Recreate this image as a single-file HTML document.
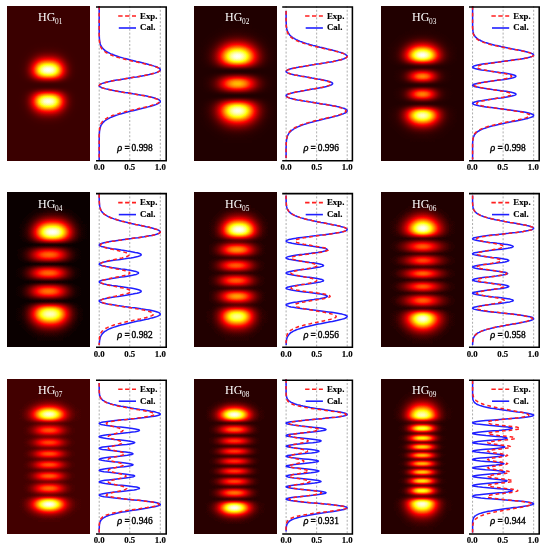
<!DOCTYPE html><html><head><meta charset="utf-8"><style>html,body{margin:0;padding:0;background:#fff}svg{display:block}</style></head><body><svg width="548" height="550" viewBox="0 0 548 550"><defs><linearGradient id="gy1" gradientUnits="userSpaceOnUse" x1="0" y1="6" x2="0" y2="160.4"><stop offset="0" stop-color="#000000"/><stop offset=".006" stop-color="#000000"/><stop offset=".013" stop-color="#000000"/><stop offset=".019" stop-color="#000000"/><stop offset=".026" stop-color="#000000"/><stop offset=".032" stop-color="#000000"/><stop offset=".039" stop-color="#000000"/><stop offset=".045" stop-color="#000000"/><stop offset=".052" stop-color="#000000"/><stop offset=".058" stop-color="#000000"/><stop offset=".065" stop-color="#000000"/><stop offset=".071" stop-color="#000000"/><stop offset=".077" stop-color="#000000"/><stop offset=".084" stop-color="#000000"/><stop offset=".09" stop-color="#000000"/><stop offset=".097" stop-color="#000000"/><stop offset=".103" stop-color="#000000"/><stop offset=".11" stop-color="#000000"/><stop offset=".116" stop-color="#000000"/><stop offset=".123" stop-color="#000000"/><stop offset=".129" stop-color="#000000"/><stop offset=".135" stop-color="#000000"/><stop offset=".142" stop-color="#000000"/><stop offset=".148" stop-color="#000000"/><stop offset=".155" stop-color="#000000"/><stop offset=".161" stop-color="#000000"/><stop offset=".168" stop-color="#000000"/><stop offset=".174" stop-color="#000000"/><stop offset=".181" stop-color="#000000"/><stop offset=".187" stop-color="#000000"/><stop offset=".194" stop-color="#000000"/><stop offset=".2" stop-color="#000000"/><stop offset=".206" stop-color="#000000"/><stop offset=".213" stop-color="#000000"/><stop offset=".219" stop-color="#010000"/><stop offset=".226" stop-color="#010000"/><stop offset=".232" stop-color="#010000"/><stop offset=".239" stop-color="#020000"/><stop offset=".245" stop-color="#030000"/><stop offset=".252" stop-color="#030000"/><stop offset=".258" stop-color="#050000"/><stop offset=".265" stop-color="#060000"/><stop offset=".271" stop-color="#090000"/><stop offset=".277" stop-color="#0b0000"/><stop offset=".284" stop-color="#0f0000"/><stop offset=".29" stop-color="#130000"/><stop offset=".297" stop-color="#180000"/><stop offset=".303" stop-color="#1f0000"/><stop offset=".31" stop-color="#270000"/><stop offset=".316" stop-color="#300000"/><stop offset=".323" stop-color="#3a0000"/><stop offset=".329" stop-color="#470000"/><stop offset=".335" stop-color="#540000"/><stop offset=".342" stop-color="#640000"/><stop offset=".348" stop-color="#740000"/><stop offset=".355" stop-color="#860000"/><stop offset=".361" stop-color="#980000"/><stop offset=".368" stop-color="#aa0000"/><stop offset=".374" stop-color="#bd0000"/><stop offset=".381" stop-color="#ce0000"/><stop offset=".387" stop-color="#de0000"/><stop offset=".394" stop-color="#eb0000"/><stop offset=".4" stop-color="#f60000"/><stop offset=".406" stop-color="#fc0000"/><stop offset=".413" stop-color="#ff0000"/><stop offset=".419" stop-color="#fd0000"/><stop offset=".426" stop-color="#f70000"/><stop offset=".432" stop-color="#ed0000"/><stop offset=".439" stop-color="#de0000"/><stop offset=".445" stop-color="#cc0000"/><stop offset=".452" stop-color="#b70000"/><stop offset=".458" stop-color="#a00000"/><stop offset=".465" stop-color="#860000"/><stop offset=".471" stop-color="#6d0000"/><stop offset=".477" stop-color="#540000"/><stop offset=".484" stop-color="#3c0000"/><stop offset=".49" stop-color="#280000"/><stop offset=".497" stop-color="#170000"/><stop offset=".503" stop-color="#0a0000"/><stop offset=".51" stop-color="#020000"/><stop offset=".516" stop-color="#000000"/><stop offset=".523" stop-color="#030000"/><stop offset=".529" stop-color="#0c0000"/><stop offset=".535" stop-color="#190000"/><stop offset=".542" stop-color="#2a0000"/><stop offset=".548" stop-color="#3f0000"/><stop offset=".555" stop-color="#570000"/><stop offset=".561" stop-color="#700000"/><stop offset=".568" stop-color="#890000"/><stop offset=".574" stop-color="#a10000"/><stop offset=".581" stop-color="#b80000"/><stop offset=".587" stop-color="#cd0000"/><stop offset=".594" stop-color="#de0000"/><stop offset=".6" stop-color="#eb0000"/><stop offset=".606" stop-color="#f50000"/><stop offset=".613" stop-color="#fa0000"/><stop offset=".619" stop-color="#fb0000"/><stop offset=".626" stop-color="#f80000"/><stop offset=".632" stop-color="#f00000"/><stop offset=".639" stop-color="#e60000"/><stop offset=".645" stop-color="#d80000"/><stop offset=".652" stop-color="#c80000"/><stop offset=".658" stop-color="#b70000"/><stop offset=".665" stop-color="#a50000"/><stop offset=".671" stop-color="#920000"/><stop offset=".677" stop-color="#800000"/><stop offset=".684" stop-color="#6f0000"/><stop offset=".69" stop-color="#5f0000"/><stop offset=".697" stop-color="#510000"/><stop offset=".703" stop-color="#430000"/><stop offset=".71" stop-color="#380000"/><stop offset=".716" stop-color="#2d0000"/><stop offset=".723" stop-color="#250000"/><stop offset=".729" stop-color="#1d0000"/><stop offset=".735" stop-color="#170000"/><stop offset=".742" stop-color="#120000"/><stop offset=".748" stop-color="#0e0000"/><stop offset=".755" stop-color="#0b0000"/><stop offset=".761" stop-color="#080000"/><stop offset=".768" stop-color="#060000"/><stop offset=".774" stop-color="#040000"/><stop offset=".781" stop-color="#030000"/><stop offset=".787" stop-color="#020000"/><stop offset=".794" stop-color="#020000"/><stop offset=".8" stop-color="#010000"/><stop offset=".806" stop-color="#010000"/><stop offset=".813" stop-color="#010000"/><stop offset=".819" stop-color="#000000"/><stop offset=".826" stop-color="#000000"/><stop offset=".832" stop-color="#000000"/><stop offset=".839" stop-color="#000000"/><stop offset=".845" stop-color="#000000"/><stop offset=".852" stop-color="#000000"/><stop offset=".858" stop-color="#000000"/><stop offset=".865" stop-color="#000000"/><stop offset=".871" stop-color="#000000"/><stop offset=".877" stop-color="#000000"/><stop offset=".884" stop-color="#000000"/><stop offset=".89" stop-color="#000000"/><stop offset=".897" stop-color="#000000"/><stop offset=".903" stop-color="#000000"/><stop offset=".91" stop-color="#000000"/><stop offset=".916" stop-color="#000000"/><stop offset=".923" stop-color="#000000"/><stop offset=".929" stop-color="#000000"/><stop offset=".935" stop-color="#000000"/><stop offset=".942" stop-color="#000000"/><stop offset=".948" stop-color="#000000"/><stop offset=".955" stop-color="#000000"/><stop offset=".961" stop-color="#000000"/><stop offset=".968" stop-color="#000000"/><stop offset=".974" stop-color="#000000"/><stop offset=".981" stop-color="#000000"/><stop offset=".987" stop-color="#000000"/><stop offset=".994" stop-color="#000000"/><stop offset="1" stop-color="#000000"/></linearGradient><linearGradient id="gx1_0"><stop offset="0" stop-color="#000000"/><stop offset=".034" stop-color="#000000"/><stop offset=".069" stop-color="#000000"/><stop offset=".103" stop-color="#000100"/><stop offset=".138" stop-color="#000200"/><stop offset=".172" stop-color="#000700"/><stop offset=".207" stop-color="#001000"/><stop offset=".241" stop-color="#002200"/><stop offset=".276" stop-color="#003f00"/><stop offset=".31" stop-color="#006600"/><stop offset=".345" stop-color="#009300"/><stop offset=".379" stop-color="#00bf00"/><stop offset=".414" stop-color="#00e200"/><stop offset=".448" stop-color="#00f700"/><stop offset=".483" stop-color="#00ff00"/><stop offset=".517" stop-color="#00fe00"/><stop offset=".552" stop-color="#00f400"/><stop offset=".586" stop-color="#00dc00"/><stop offset=".621" stop-color="#00b700"/><stop offset=".655" stop-color="#008a00"/><stop offset=".69" stop-color="#005d00"/><stop offset=".724" stop-color="#003800"/><stop offset=".759" stop-color="#001d00"/><stop offset=".793" stop-color="#000d00"/><stop offset=".828" stop-color="#000500"/><stop offset=".862" stop-color="#000200"/><stop offset=".897" stop-color="#000100"/><stop offset=".931" stop-color="#000000"/><stop offset=".966" stop-color="#000000"/><stop offset="1" stop-color="#000000"/></linearGradient><filter id="h1" x="0" y="0" width="1" height="1" color-interpolation-filters="sRGB"><feColorMatrix in="SourceGraphic" type="matrix" values="1 0 0 0 0 1 0 0 0 0 1 0 0 0 0 0 0 0 0 1" result="a"/><feColorMatrix in="SourceGraphic" type="matrix" values="0 1 0 0 0 0 1 0 0 0 0 1 0 0 0 0 0 0 0 1" result="b"/><feComposite in="a" in2="b" operator="arithmetic" k1="1" k2="0" k3="0" k4="0"/><feComponentTransfer><feFuncR type="table" tableValues="0.228 0.239 0.255 0.274 0.294 0.317 0.34 0.365 0.391 0.418 0.446 0.475 0.505 0.535 0.566 0.598 0.63 0.663 0.697 0.731 0.766 0.801 0.837 0.873 0.909 0.947 0.984 1 1 1 1 1 1 1 1 1 1 1 1 1 1 1 1 1 1 1 1 1 1 1 1 1 1 1 1 1 1 1 1 1 1 1 1 1 1"/><feFuncG type="table" tableValues="0 0 0 0 0 0 0 0 0 0 0 0 0 0 0 0 0 0 0 0 0 0 0 0 0 0 0 0.022 0.061 0.099 0.139 0.178 0.218 0.259 0.3 0.341 0.382 0.424 0.466 0.509 0.552 0.595 0.638 0.682 0.726 0.771 0.815 0.86 0.906 0.951 0.997 1 1 1 1 1 1 1 1 1 1 1 1 1 1"/><feFuncB type="table" tableValues="0 0 0 0 0 0 0 0 0 0 0 0 0 0 0 0 0 0 0 0 0 0 0 0 0 0 0 0 0 0 0 0 0 0 0 0 0 0 0 0 0 0 0 0 0 0 0 0 0 0 0 0.065 0.135 0.205 0.275 0.346 0.417 0.489 0.561 0.633 0.706 0.779 0.852 0.926 1"/></feComponentTransfer></filter><linearGradient id="gy2" gradientUnits="userSpaceOnUse" x1="0" y1="6" x2="0" y2="160.4"><stop offset="0" stop-color="#000000"/><stop offset=".006" stop-color="#000000"/><stop offset=".013" stop-color="#000000"/><stop offset=".019" stop-color="#000000"/><stop offset=".026" stop-color="#000000"/><stop offset=".032" stop-color="#000000"/><stop offset=".039" stop-color="#000000"/><stop offset=".045" stop-color="#000000"/><stop offset=".052" stop-color="#000000"/><stop offset=".058" stop-color="#000000"/><stop offset=".065" stop-color="#000000"/><stop offset=".071" stop-color="#000000"/><stop offset=".077" stop-color="#000000"/><stop offset=".084" stop-color="#000000"/><stop offset=".09" stop-color="#000000"/><stop offset=".097" stop-color="#000000"/><stop offset=".103" stop-color="#000000"/><stop offset=".11" stop-color="#000000"/><stop offset=".116" stop-color="#000000"/><stop offset=".123" stop-color="#010000"/><stop offset=".129" stop-color="#010000"/><stop offset=".135" stop-color="#010000"/><stop offset=".142" stop-color="#010000"/><stop offset=".148" stop-color="#020000"/><stop offset=".155" stop-color="#030000"/><stop offset=".161" stop-color="#040000"/><stop offset=".168" stop-color="#050000"/><stop offset=".174" stop-color="#070000"/><stop offset=".181" stop-color="#090000"/><stop offset=".187" stop-color="#0b0000"/><stop offset=".194" stop-color="#0f0000"/><stop offset=".2" stop-color="#130000"/><stop offset=".206" stop-color="#180000"/><stop offset=".213" stop-color="#1e0000"/><stop offset=".219" stop-color="#260000"/><stop offset=".226" stop-color="#2e0000"/><stop offset=".232" stop-color="#380000"/><stop offset=".239" stop-color="#440000"/><stop offset=".245" stop-color="#510000"/><stop offset=".252" stop-color="#5f0000"/><stop offset=".258" stop-color="#6f0000"/><stop offset=".265" stop-color="#800000"/><stop offset=".271" stop-color="#910000"/><stop offset=".277" stop-color="#a40000"/><stop offset=".284" stop-color="#b60000"/><stop offset=".29" stop-color="#c70000"/><stop offset=".297" stop-color="#d80000"/><stop offset=".303" stop-color="#e60000"/><stop offset=".31" stop-color="#f20000"/><stop offset=".316" stop-color="#fa0000"/><stop offset=".323" stop-color="#fe0000"/><stop offset=".329" stop-color="#fe0000"/><stop offset=".335" stop-color="#fa0000"/><stop offset=".342" stop-color="#f10000"/><stop offset=".348" stop-color="#e40000"/><stop offset=".355" stop-color="#d20000"/><stop offset=".361" stop-color="#bd0000"/><stop offset=".368" stop-color="#a50000"/><stop offset=".374" stop-color="#8b0000"/><stop offset=".381" stop-color="#700000"/><stop offset=".387" stop-color="#560000"/><stop offset=".394" stop-color="#3d0000"/><stop offset=".4" stop-color="#270000"/><stop offset=".406" stop-color="#150000"/><stop offset=".413" stop-color="#080000"/><stop offset=".419" stop-color="#010000"/><stop offset=".426" stop-color="#000000"/><stop offset=".432" stop-color="#050000"/><stop offset=".439" stop-color="#0e0000"/><stop offset=".445" stop-color="#1c0000"/><stop offset=".452" stop-color="#2d0000"/><stop offset=".458" stop-color="#410000"/><stop offset=".465" stop-color="#560000"/><stop offset=".471" stop-color="#6a0000"/><stop offset=".477" stop-color="#7d0000"/><stop offset=".484" stop-color="#8d0000"/><stop offset=".49" stop-color="#9a0000"/><stop offset=".497" stop-color="#a10000"/><stop offset=".503" stop-color="#a30000"/><stop offset=".51" stop-color="#a00000"/><stop offset=".516" stop-color="#980000"/><stop offset=".523" stop-color="#8b0000"/><stop offset=".529" stop-color="#7a0000"/><stop offset=".535" stop-color="#660000"/><stop offset=".542" stop-color="#520000"/><stop offset=".548" stop-color="#3d0000"/><stop offset=".555" stop-color="#2a0000"/><stop offset=".561" stop-color="#190000"/><stop offset=".568" stop-color="#0c0000"/><stop offset=".574" stop-color="#040000"/><stop offset=".581" stop-color="#000000"/><stop offset=".587" stop-color="#020000"/><stop offset=".594" stop-color="#0a0000"/><stop offset=".6" stop-color="#180000"/><stop offset=".606" stop-color="#2a0000"/><stop offset=".613" stop-color="#400000"/><stop offset=".619" stop-color="#590000"/><stop offset=".626" stop-color="#730000"/><stop offset=".632" stop-color="#8d0000"/><stop offset=".639" stop-color="#a70000"/><stop offset=".645" stop-color="#be0000"/><stop offset=".652" stop-color="#d20000"/><stop offset=".658" stop-color="#e20000"/><stop offset=".665" stop-color="#ee0000"/><stop offset=".671" stop-color="#f60000"/><stop offset=".677" stop-color="#fa0000"/><stop offset=".684" stop-color="#f90000"/><stop offset=".69" stop-color="#f40000"/><stop offset=".697" stop-color="#eb0000"/><stop offset=".703" stop-color="#e00000"/><stop offset=".71" stop-color="#d20000"/><stop offset=".716" stop-color="#c20000"/><stop offset=".723" stop-color="#b10000"/><stop offset=".729" stop-color="#a00000"/><stop offset=".735" stop-color="#8e0000"/><stop offset=".742" stop-color="#7d0000"/><stop offset=".748" stop-color="#6d0000"/><stop offset=".755" stop-color="#5e0000"/><stop offset=".761" stop-color="#500000"/><stop offset=".768" stop-color="#430000"/><stop offset=".774" stop-color="#380000"/><stop offset=".781" stop-color="#2e0000"/><stop offset=".787" stop-color="#260000"/><stop offset=".794" stop-color="#1f0000"/><stop offset=".8" stop-color="#190000"/><stop offset=".806" stop-color="#140000"/><stop offset=".813" stop-color="#0f0000"/><stop offset=".819" stop-color="#0c0000"/><stop offset=".826" stop-color="#090000"/><stop offset=".832" stop-color="#070000"/><stop offset=".839" stop-color="#050000"/><stop offset=".845" stop-color="#040000"/><stop offset=".852" stop-color="#030000"/><stop offset=".858" stop-color="#020000"/><stop offset=".865" stop-color="#020000"/><stop offset=".871" stop-color="#010000"/><stop offset=".877" stop-color="#010000"/><stop offset=".884" stop-color="#010000"/><stop offset=".89" stop-color="#000000"/><stop offset=".897" stop-color="#000000"/><stop offset=".903" stop-color="#000000"/><stop offset=".91" stop-color="#000000"/><stop offset=".916" stop-color="#000000"/><stop offset=".923" stop-color="#000000"/><stop offset=".929" stop-color="#000000"/><stop offset=".935" stop-color="#000000"/><stop offset=".942" stop-color="#000000"/><stop offset=".948" stop-color="#000000"/><stop offset=".955" stop-color="#000000"/><stop offset=".961" stop-color="#000000"/><stop offset=".968" stop-color="#000000"/><stop offset=".974" stop-color="#000000"/><stop offset=".981" stop-color="#000000"/><stop offset=".987" stop-color="#000000"/><stop offset=".994" stop-color="#000000"/><stop offset="1" stop-color="#000000"/></linearGradient><linearGradient id="gx2_0"><stop offset="0" stop-color="#000000"/><stop offset=".034" stop-color="#000000"/><stop offset=".069" stop-color="#000100"/><stop offset=".103" stop-color="#000200"/><stop offset=".138" stop-color="#000500"/><stop offset=".172" stop-color="#000a00"/><stop offset=".207" stop-color="#001300"/><stop offset=".241" stop-color="#002100"/><stop offset=".276" stop-color="#003700"/><stop offset=".31" stop-color="#005500"/><stop offset=".345" stop-color="#007900"/><stop offset=".379" stop-color="#00a000"/><stop offset=".414" stop-color="#00c500"/><stop offset=".448" stop-color="#00e400"/><stop offset=".483" stop-color="#00f800"/><stop offset=".517" stop-color="#00ff00"/><stop offset=".552" stop-color="#00fc00"/><stop offset=".586" stop-color="#00ed00"/><stop offset=".621" stop-color="#00d300"/><stop offset=".655" stop-color="#00af00"/><stop offset=".69" stop-color="#008800"/><stop offset=".724" stop-color="#006300"/><stop offset=".759" stop-color="#004200"/><stop offset=".793" stop-color="#002900"/><stop offset=".828" stop-color="#001800"/><stop offset=".862" stop-color="#000d00"/><stop offset=".897" stop-color="#000600"/><stop offset=".931" stop-color="#000300"/><stop offset=".966" stop-color="#000100"/><stop offset="1" stop-color="#000000"/></linearGradient><filter id="h2" x="0" y="0" width="1" height="1" color-interpolation-filters="sRGB"><feColorMatrix in="SourceGraphic" type="matrix" values="1 0 0 0 0 1 0 0 0 0 1 0 0 0 0 0 0 0 0 1" result="a"/><feColorMatrix in="SourceGraphic" type="matrix" values="0 1 0 0 0 0 1 0 0 0 0 1 0 0 0 0 0 0 0 1" result="b"/><feComposite in="a" in2="b" operator="arithmetic" k1="1" k2="0" k3="0" k4="0"/><feComponentTransfer><feFuncR type="table" tableValues="0.126 0.165 0.205 0.245 0.284 0.324 0.364 0.404 0.443 0.483 0.523 0.562 0.602 0.642 0.681 0.721 0.761 0.801 0.84 0.88 0.92 0.959 0.999 1 1 1 1 1 1 1 1 1 1 1 1 1 1 1 1 1 1 1 1 1 1 1 1 1 1 1 1 1 1 1 1 1 1 1 1 1 1 1 1 1 1"/><feFuncG type="table" tableValues="0 0 0 0 0 0 0 0 0 0 0 0 0 0 0 0 0 0 0 0 0 0 0 0.039 0.079 0.118 0.158 0.198 0.237 0.277 0.317 0.356 0.396 0.436 0.476 0.515 0.555 0.595 0.634 0.674 0.714 0.753 0.793 0.833 0.873 0.912 0.952 0.992 1 1 1 1 1 1 1 1 1 1 1 1 1 1 1 1 1"/><feFuncB type="table" tableValues="0 0 0 0 0 0 0 0 0 0 0 0 0 0 0 0 0 0 0 0 0 0 0 0 0 0 0 0 0 0 0 0 0 0 0 0 0 0 0 0 0 0 0 0 0 0 0 0 0.047 0.107 0.166 0.226 0.285 0.345 0.404 0.464 0.524 0.583 0.643 0.702 0.762 0.821 0.881 0.94 1"/></feComponentTransfer></filter><linearGradient id="gy3" gradientUnits="userSpaceOnUse" x1="0" y1="6" x2="0" y2="160.4"><stop offset="0" stop-color="#000000"/><stop offset=".006" stop-color="#000000"/><stop offset=".013" stop-color="#000000"/><stop offset=".019" stop-color="#000000"/><stop offset=".026" stop-color="#000000"/><stop offset=".032" stop-color="#000000"/><stop offset=".039" stop-color="#000000"/><stop offset=".045" stop-color="#000000"/><stop offset=".052" stop-color="#000000"/><stop offset=".058" stop-color="#000000"/><stop offset=".065" stop-color="#000000"/><stop offset=".071" stop-color="#000000"/><stop offset=".077" stop-color="#000000"/><stop offset=".084" stop-color="#000000"/><stop offset=".09" stop-color="#000000"/><stop offset=".097" stop-color="#000000"/><stop offset=".103" stop-color="#000000"/><stop offset=".11" stop-color="#000000"/><stop offset=".116" stop-color="#000000"/><stop offset=".123" stop-color="#000000"/><stop offset=".129" stop-color="#000000"/><stop offset=".135" stop-color="#000000"/><stop offset=".142" stop-color="#000000"/><stop offset=".148" stop-color="#000000"/><stop offset=".155" stop-color="#010000"/><stop offset=".161" stop-color="#010000"/><stop offset=".168" stop-color="#020000"/><stop offset=".174" stop-color="#020000"/><stop offset=".181" stop-color="#030000"/><stop offset=".187" stop-color="#050000"/><stop offset=".194" stop-color="#070000"/><stop offset=".2" stop-color="#0a0000"/><stop offset=".206" stop-color="#0d0000"/><stop offset=".213" stop-color="#120000"/><stop offset=".219" stop-color="#180000"/><stop offset=".226" stop-color="#1f0000"/><stop offset=".232" stop-color="#280000"/><stop offset=".239" stop-color="#340000"/><stop offset=".245" stop-color="#410000"/><stop offset=".252" stop-color="#500000"/><stop offset=".258" stop-color="#620000"/><stop offset=".265" stop-color="#760000"/><stop offset=".271" stop-color="#8b0000"/><stop offset=".277" stop-color="#a10000"/><stop offset=".284" stop-color="#b70000"/><stop offset=".29" stop-color="#cc0000"/><stop offset=".297" stop-color="#df0000"/><stop offset=".303" stop-color="#ef0000"/><stop offset=".31" stop-color="#fa0000"/><stop offset=".316" stop-color="#ff0000"/><stop offset=".323" stop-color="#fd0000"/><stop offset=".329" stop-color="#f40000"/><stop offset=".335" stop-color="#e50000"/><stop offset=".342" stop-color="#cf0000"/><stop offset=".348" stop-color="#b30000"/><stop offset=".355" stop-color="#940000"/><stop offset=".361" stop-color="#730000"/><stop offset=".368" stop-color="#530000"/><stop offset=".374" stop-color="#350000"/><stop offset=".381" stop-color="#1d0000"/><stop offset=".387" stop-color="#0d0000"/><stop offset=".394" stop-color="#060000"/><stop offset=".4" stop-color="#070000"/><stop offset=".406" stop-color="#100000"/><stop offset=".413" stop-color="#1f0000"/><stop offset=".419" stop-color="#320000"/><stop offset=".426" stop-color="#490000"/><stop offset=".432" stop-color="#5f0000"/><stop offset=".439" stop-color="#730000"/><stop offset=".445" stop-color="#820000"/><stop offset=".452" stop-color="#8b0000"/><stop offset=".458" stop-color="#8c0000"/><stop offset=".465" stop-color="#840000"/><stop offset=".471" stop-color="#760000"/><stop offset=".477" stop-color="#610000"/><stop offset=".484" stop-color="#4a0000"/><stop offset=".49" stop-color="#320000"/><stop offset=".497" stop-color="#1d0000"/><stop offset=".503" stop-color="#0d0000"/><stop offset=".51" stop-color="#040000"/><stop offset=".516" stop-color="#030000"/><stop offset=".523" stop-color="#0b0000"/><stop offset=".529" stop-color="#1b0000"/><stop offset=".535" stop-color="#2f0000"/><stop offset=".542" stop-color="#470000"/><stop offset=".548" stop-color="#5f0000"/><stop offset=".555" stop-color="#730000"/><stop offset=".561" stop-color="#830000"/><stop offset=".568" stop-color="#8b0000"/><stop offset=".574" stop-color="#8b0000"/><stop offset=".581" stop-color="#840000"/><stop offset=".587" stop-color="#750000"/><stop offset=".594" stop-color="#620000"/><stop offset=".6" stop-color="#4b0000"/><stop offset=".606" stop-color="#350000"/><stop offset=".613" stop-color="#210000"/><stop offset=".619" stop-color="#110000"/><stop offset=".626" stop-color="#080000"/><stop offset=".632" stop-color="#050000"/><stop offset=".639" stop-color="#0b0000"/><stop offset=".645" stop-color="#1a0000"/><stop offset=".652" stop-color="#2f0000"/><stop offset=".658" stop-color="#4a0000"/><stop offset=".665" stop-color="#690000"/><stop offset=".671" stop-color="#880000"/><stop offset=".677" stop-color="#a50000"/><stop offset=".684" stop-color="#c00000"/><stop offset=".69" stop-color="#d50000"/><stop offset=".697" stop-color="#e40000"/><stop offset=".703" stop-color="#ed0000"/><stop offset=".71" stop-color="#f00000"/><stop offset=".716" stop-color="#ec0000"/><stop offset=".723" stop-color="#e20000"/><stop offset=".729" stop-color="#d40000"/><stop offset=".735" stop-color="#c30000"/><stop offset=".742" stop-color="#af0000"/><stop offset=".748" stop-color="#9b0000"/><stop offset=".755" stop-color="#860000"/><stop offset=".761" stop-color="#720000"/><stop offset=".768" stop-color="#600000"/><stop offset=".774" stop-color="#4f0000"/><stop offset=".781" stop-color="#400000"/><stop offset=".787" stop-color="#330000"/><stop offset=".794" stop-color="#280000"/><stop offset=".8" stop-color="#1f0000"/><stop offset=".806" stop-color="#180000"/><stop offset=".813" stop-color="#120000"/><stop offset=".819" stop-color="#0d0000"/><stop offset=".826" stop-color="#0a0000"/><stop offset=".832" stop-color="#070000"/><stop offset=".839" stop-color="#050000"/><stop offset=".845" stop-color="#040000"/><stop offset=".852" stop-color="#030000"/><stop offset=".858" stop-color="#020000"/><stop offset=".865" stop-color="#010000"/><stop offset=".871" stop-color="#010000"/><stop offset=".877" stop-color="#010000"/><stop offset=".884" stop-color="#000000"/><stop offset=".89" stop-color="#000000"/><stop offset=".897" stop-color="#000000"/><stop offset=".903" stop-color="#000000"/><stop offset=".91" stop-color="#000000"/><stop offset=".916" stop-color="#000000"/><stop offset=".923" stop-color="#000000"/><stop offset=".929" stop-color="#000000"/><stop offset=".935" stop-color="#000000"/><stop offset=".942" stop-color="#000000"/><stop offset=".948" stop-color="#000000"/><stop offset=".955" stop-color="#000000"/><stop offset=".961" stop-color="#000000"/><stop offset=".968" stop-color="#000000"/><stop offset=".974" stop-color="#000000"/><stop offset=".981" stop-color="#000000"/><stop offset=".987" stop-color="#000000"/><stop offset=".994" stop-color="#000000"/><stop offset="1" stop-color="#000000"/></linearGradient><linearGradient id="gx3_0"><stop offset="0" stop-color="#000000"/><stop offset=".034" stop-color="#000000"/><stop offset=".069" stop-color="#000000"/><stop offset=".103" stop-color="#000100"/><stop offset=".138" stop-color="#000300"/><stop offset=".172" stop-color="#000600"/><stop offset=".207" stop-color="#000e00"/><stop offset=".241" stop-color="#001c00"/><stop offset=".276" stop-color="#003300"/><stop offset=".31" stop-color="#005400"/><stop offset=".345" stop-color="#007d00"/><stop offset=".379" stop-color="#00a900"/><stop offset=".414" stop-color="#00d200"/><stop offset=".448" stop-color="#00ef00"/><stop offset=".483" stop-color="#00fe00"/><stop offset=".517" stop-color="#00fe00"/><stop offset=".552" stop-color="#00ef00"/><stop offset=".586" stop-color="#00d200"/><stop offset=".621" stop-color="#00a900"/><stop offset=".655" stop-color="#007d00"/><stop offset=".69" stop-color="#005400"/><stop offset=".724" stop-color="#003300"/><stop offset=".759" stop-color="#001c00"/><stop offset=".793" stop-color="#000e00"/><stop offset=".828" stop-color="#000600"/><stop offset=".862" stop-color="#000300"/><stop offset=".897" stop-color="#000100"/><stop offset=".931" stop-color="#000000"/><stop offset=".966" stop-color="#000000"/><stop offset="1" stop-color="#000000"/></linearGradient><linearGradient id="gx3_1"><stop offset="0" stop-color="#000000"/><stop offset=".034" stop-color="#000000"/><stop offset=".069" stop-color="#000000"/><stop offset=".103" stop-color="#000000"/><stop offset=".138" stop-color="#000000"/><stop offset=".172" stop-color="#000200"/><stop offset=".207" stop-color="#000500"/><stop offset=".241" stop-color="#000d00"/><stop offset=".276" stop-color="#001c00"/><stop offset=".31" stop-color="#003800"/><stop offset=".345" stop-color="#006000"/><stop offset=".379" stop-color="#009100"/><stop offset=".414" stop-color="#00c300"/><stop offset=".448" stop-color="#00ea00"/><stop offset=".483" stop-color="#00fd00"/><stop offset=".517" stop-color="#00fd00"/><stop offset=".552" stop-color="#00ea00"/><stop offset=".586" stop-color="#00c300"/><stop offset=".621" stop-color="#009100"/><stop offset=".655" stop-color="#006000"/><stop offset=".69" stop-color="#003800"/><stop offset=".724" stop-color="#001c00"/><stop offset=".759" stop-color="#000d00"/><stop offset=".793" stop-color="#000500"/><stop offset=".828" stop-color="#000200"/><stop offset=".862" stop-color="#000000"/><stop offset=".897" stop-color="#000000"/><stop offset=".931" stop-color="#000000"/><stop offset=".966" stop-color="#000000"/><stop offset="1" stop-color="#000000"/></linearGradient><filter id="h3" x="0" y="0" width="1" height="1" color-interpolation-filters="sRGB"><feColorMatrix in="SourceGraphic" type="matrix" values="1 0 0 0 0 1 0 0 0 0 1 0 0 0 0 0 0 0 0 1" result="a"/><feColorMatrix in="SourceGraphic" type="matrix" values="0 1 0 0 0 0 1 0 0 0 0 1 0 0 0 0 0 0 0 1" result="b"/><feComposite in="a" in2="b" operator="arithmetic" k1="1" k2="0" k3="0" k4="0"/><feComponentTransfer><feFuncR type="table" tableValues="0.133 0.173 0.213 0.252 0.292 0.331 0.371 0.411 0.45 0.49 0.529 0.569 0.608 0.648 0.688 0.727 0.767 0.806 0.846 0.886 0.925 0.965 1 1 1 1 1 1 1 1 1 1 1 1 1 1 1 1 1 1 1 1 1 1 1 1 1 1 1 1 1 1 1 1 1 1 1 1 1 1 1 1 1 1 1"/><feFuncG type="table" tableValues="0 0 0 0 0 0 0 0 0 0 0 0 0 0 0 0 0 0 0 0 0 0 0.004 0.044 0.083 0.123 0.163 0.202 0.242 0.281 0.321 0.361 0.4 0.44 0.479 0.519 0.558 0.598 0.638 0.677 0.717 0.756 0.796 0.835 0.875 0.915 0.954 0.994 1 1 1 1 1 1 1 1 1 1 1 1 1 1 1 1 1"/><feFuncB type="table" tableValues="0 0 0 0 0 0 0 0 0 0 0 0 0 0 0 0 0 0 0 0 0 0 0 0 0 0 0 0 0 0 0 0 0 0 0 0 0 0 0 0 0 0 0 0 0 0 0 0 0.05 0.109 0.169 0.228 0.288 0.347 0.406 0.466 0.525 0.584 0.644 0.703 0.763 0.822 0.881 0.941 1"/></feComponentTransfer></filter><linearGradient id="gy4" gradientUnits="userSpaceOnUse" x1="0" y1="192.6" x2="0" y2="347"><stop offset="0" stop-color="#000000"/><stop offset=".006" stop-color="#000000"/><stop offset=".013" stop-color="#000000"/><stop offset=".019" stop-color="#000000"/><stop offset=".026" stop-color="#000000"/><stop offset=".032" stop-color="#000000"/><stop offset=".039" stop-color="#000000"/><stop offset=".045" stop-color="#000000"/><stop offset=".052" stop-color="#000000"/><stop offset=".058" stop-color="#000000"/><stop offset=".065" stop-color="#000000"/><stop offset=".071" stop-color="#000000"/><stop offset=".077" stop-color="#000000"/><stop offset=".084" stop-color="#000000"/><stop offset=".09" stop-color="#010000"/><stop offset=".097" stop-color="#010000"/><stop offset=".103" stop-color="#010000"/><stop offset=".11" stop-color="#020000"/><stop offset=".116" stop-color="#030000"/><stop offset=".123" stop-color="#040000"/><stop offset=".129" stop-color="#050000"/><stop offset=".135" stop-color="#080000"/><stop offset=".142" stop-color="#0a0000"/><stop offset=".148" stop-color="#0e0000"/><stop offset=".155" stop-color="#140000"/><stop offset=".161" stop-color="#1a0000"/><stop offset=".168" stop-color="#220000"/><stop offset=".174" stop-color="#2d0000"/><stop offset=".181" stop-color="#390000"/><stop offset=".187" stop-color="#480000"/><stop offset=".194" stop-color="#590000"/><stop offset=".2" stop-color="#6c0000"/><stop offset=".206" stop-color="#810000"/><stop offset=".213" stop-color="#970000"/><stop offset=".219" stop-color="#ae0000"/><stop offset=".226" stop-color="#c40000"/><stop offset=".232" stop-color="#d90000"/><stop offset=".239" stop-color="#eb0000"/><stop offset=".245" stop-color="#f70000"/><stop offset=".252" stop-color="#fe0000"/><stop offset=".258" stop-color="#fe0000"/><stop offset=".265" stop-color="#f80000"/><stop offset=".271" stop-color="#ec0000"/><stop offset=".277" stop-color="#db0000"/><stop offset=".284" stop-color="#c40000"/><stop offset=".29" stop-color="#a90000"/><stop offset=".297" stop-color="#8b0000"/><stop offset=".303" stop-color="#6c0000"/><stop offset=".31" stop-color="#4e0000"/><stop offset=".316" stop-color="#320000"/><stop offset=".323" stop-color="#1c0000"/><stop offset=".329" stop-color="#0b0000"/><stop offset=".335" stop-color="#030000"/><stop offset=".342" stop-color="#020000"/><stop offset=".348" stop-color="#070000"/><stop offset=".355" stop-color="#100000"/><stop offset=".361" stop-color="#1e0000"/><stop offset=".368" stop-color="#2e0000"/><stop offset=".374" stop-color="#3e0000"/><stop offset=".381" stop-color="#4e0000"/><stop offset=".387" stop-color="#5c0000"/><stop offset=".394" stop-color="#660000"/><stop offset=".4" stop-color="#6b0000"/><stop offset=".406" stop-color="#6a0000"/><stop offset=".413" stop-color="#640000"/><stop offset=".419" stop-color="#580000"/><stop offset=".426" stop-color="#490000"/><stop offset=".432" stop-color="#380000"/><stop offset=".439" stop-color="#270000"/><stop offset=".445" stop-color="#170000"/><stop offset=".452" stop-color="#0b0000"/><stop offset=".458" stop-color="#030000"/><stop offset=".465" stop-color="#020000"/><stop offset=".471" stop-color="#060000"/><stop offset=".477" stop-color="#110000"/><stop offset=".484" stop-color="#200000"/><stop offset=".49" stop-color="#320000"/><stop offset=".497" stop-color="#440000"/><stop offset=".503" stop-color="#550000"/><stop offset=".51" stop-color="#620000"/><stop offset=".516" stop-color="#690000"/><stop offset=".523" stop-color="#6b0000"/><stop offset=".529" stop-color="#660000"/><stop offset=".535" stop-color="#5b0000"/><stop offset=".542" stop-color="#4c0000"/><stop offset=".548" stop-color="#3a0000"/><stop offset=".555" stop-color="#270000"/><stop offset=".561" stop-color="#170000"/><stop offset=".568" stop-color="#0a0000"/><stop offset=".574" stop-color="#030000"/><stop offset=".581" stop-color="#020000"/><stop offset=".587" stop-color="#070000"/><stop offset=".594" stop-color="#120000"/><stop offset=".6" stop-color="#210000"/><stop offset=".606" stop-color="#330000"/><stop offset=".613" stop-color="#450000"/><stop offset=".619" stop-color="#560000"/><stop offset=".626" stop-color="#640000"/><stop offset=".632" stop-color="#6d0000"/><stop offset=".639" stop-color="#700000"/><stop offset=".645" stop-color="#6e0000"/><stop offset=".652" stop-color="#650000"/><stop offset=".658" stop-color="#590000"/><stop offset=".665" stop-color="#490000"/><stop offset=".671" stop-color="#370000"/><stop offset=".677" stop-color="#260000"/><stop offset=".684" stop-color="#170000"/><stop offset=".69" stop-color="#0b0000"/><stop offset=".697" stop-color="#040000"/><stop offset=".703" stop-color="#020000"/><stop offset=".71" stop-color="#060000"/><stop offset=".716" stop-color="#120000"/><stop offset=".723" stop-color="#250000"/><stop offset=".729" stop-color="#3c0000"/><stop offset=".735" stop-color="#570000"/><stop offset=".742" stop-color="#740000"/><stop offset=".748" stop-color="#900000"/><stop offset=".755" stop-color="#aa0000"/><stop offset=".761" stop-color="#c10000"/><stop offset=".768" stop-color="#d30000"/><stop offset=".774" stop-color="#e00000"/><stop offset=".781" stop-color="#e80000"/><stop offset=".787" stop-color="#eb0000"/><stop offset=".794" stop-color="#e70000"/><stop offset=".8" stop-color="#de0000"/><stop offset=".806" stop-color="#d10000"/><stop offset=".813" stop-color="#c00000"/><stop offset=".819" stop-color="#ad0000"/><stop offset=".826" stop-color="#980000"/><stop offset=".832" stop-color="#840000"/><stop offset=".839" stop-color="#710000"/><stop offset=".845" stop-color="#5e0000"/><stop offset=".852" stop-color="#4e0000"/><stop offset=".858" stop-color="#3f0000"/><stop offset=".865" stop-color="#320000"/><stop offset=".871" stop-color="#280000"/><stop offset=".877" stop-color="#1f0000"/><stop offset=".884" stop-color="#180000"/><stop offset=".89" stop-color="#120000"/><stop offset=".897" stop-color="#0d0000"/><stop offset=".903" stop-color="#0a0000"/><stop offset=".91" stop-color="#070000"/><stop offset=".916" stop-color="#050000"/><stop offset=".923" stop-color="#040000"/><stop offset=".929" stop-color="#030000"/><stop offset=".935" stop-color="#020000"/><stop offset=".942" stop-color="#010000"/><stop offset=".948" stop-color="#010000"/><stop offset=".955" stop-color="#010000"/><stop offset=".961" stop-color="#000000"/><stop offset=".968" stop-color="#000000"/><stop offset=".974" stop-color="#000000"/><stop offset=".981" stop-color="#000000"/><stop offset=".987" stop-color="#000000"/><stop offset=".994" stop-color="#000000"/><stop offset="1" stop-color="#000000"/></linearGradient><linearGradient id="gx4_0"><stop offset="0" stop-color="#000000"/><stop offset=".034" stop-color="#000000"/><stop offset=".069" stop-color="#000000"/><stop offset=".103" stop-color="#000000"/><stop offset=".138" stop-color="#000000"/><stop offset=".172" stop-color="#000100"/><stop offset=".207" stop-color="#000300"/><stop offset=".241" stop-color="#000700"/><stop offset=".276" stop-color="#001200"/><stop offset=".31" stop-color="#002500"/><stop offset=".345" stop-color="#004400"/><stop offset=".379" stop-color="#006d00"/><stop offset=".414" stop-color="#009c00"/><stop offset=".448" stop-color="#00c800"/><stop offset=".483" stop-color="#00ea00"/><stop offset=".517" stop-color="#00fb00"/><stop offset=".552" stop-color="#00ff00"/><stop offset=".586" stop-color="#00f900"/><stop offset=".621" stop-color="#00e400"/><stop offset=".655" stop-color="#00c000"/><stop offset=".69" stop-color="#009200"/><stop offset=".724" stop-color="#006400"/><stop offset=".759" stop-color="#003c00"/><stop offset=".793" stop-color="#002000"/><stop offset=".828" stop-color="#000f00"/><stop offset=".862" stop-color="#000600"/><stop offset=".897" stop-color="#000200"/><stop offset=".931" stop-color="#000100"/><stop offset=".966" stop-color="#000000"/><stop offset="1" stop-color="#000000"/></linearGradient><linearGradient id="gx4_1"><stop offset="0" stop-color="#000000"/><stop offset=".034" stop-color="#000000"/><stop offset=".069" stop-color="#000000"/><stop offset=".103" stop-color="#000000"/><stop offset=".138" stop-color="#000200"/><stop offset=".172" stop-color="#000500"/><stop offset=".207" stop-color="#000c00"/><stop offset=".241" stop-color="#001900"/><stop offset=".276" stop-color="#003100"/><stop offset=".31" stop-color="#005300"/><stop offset=".345" stop-color="#007e00"/><stop offset=".379" stop-color="#00ac00"/><stop offset=".414" stop-color="#00d400"/><stop offset=".448" stop-color="#00f000"/><stop offset=".483" stop-color="#00fd00"/><stop offset=".517" stop-color="#00ff00"/><stop offset=".552" stop-color="#00f600"/><stop offset=".586" stop-color="#00e000"/><stop offset=".621" stop-color="#00bb00"/><stop offset=".655" stop-color="#008e00"/><stop offset=".69" stop-color="#006200"/><stop offset=".724" stop-color="#003c00"/><stop offset=".759" stop-color="#002000"/><stop offset=".793" stop-color="#000f00"/><stop offset=".828" stop-color="#000600"/><stop offset=".862" stop-color="#000200"/><stop offset=".897" stop-color="#000100"/><stop offset=".931" stop-color="#000000"/><stop offset=".966" stop-color="#000000"/><stop offset="1" stop-color="#000000"/></linearGradient><linearGradient id="gx4_2"><stop offset="0" stop-color="#000000"/><stop offset=".034" stop-color="#000000"/><stop offset=".069" stop-color="#000000"/><stop offset=".103" stop-color="#000100"/><stop offset=".138" stop-color="#000200"/><stop offset=".172" stop-color="#000500"/><stop offset=".207" stop-color="#000d00"/><stop offset=".241" stop-color="#001d00"/><stop offset=".276" stop-color="#003600"/><stop offset=".31" stop-color="#005a00"/><stop offset=".345" stop-color="#008600"/><stop offset=".379" stop-color="#00b400"/><stop offset=".414" stop-color="#00da00"/><stop offset=".448" stop-color="#00f400"/><stop offset=".483" stop-color="#00fe00"/><stop offset=".517" stop-color="#00fe00"/><stop offset=".552" stop-color="#00f400"/><stop offset=".586" stop-color="#00da00"/><stop offset=".621" stop-color="#00b400"/><stop offset=".655" stop-color="#008600"/><stop offset=".69" stop-color="#005a00"/><stop offset=".724" stop-color="#003600"/><stop offset=".759" stop-color="#001d00"/><stop offset=".793" stop-color="#000d00"/><stop offset=".828" stop-color="#000500"/><stop offset=".862" stop-color="#000200"/><stop offset=".897" stop-color="#000100"/><stop offset=".931" stop-color="#000000"/><stop offset=".966" stop-color="#000000"/><stop offset="1" stop-color="#000000"/></linearGradient><linearGradient id="gx4_4"><stop offset="0" stop-color="#000000"/><stop offset=".034" stop-color="#000000"/><stop offset=".069" stop-color="#000000"/><stop offset=".103" stop-color="#000000"/><stop offset=".138" stop-color="#000100"/><stop offset=".172" stop-color="#000200"/><stop offset=".207" stop-color="#000600"/><stop offset=".241" stop-color="#001000"/><stop offset=".276" stop-color="#002200"/><stop offset=".31" stop-color="#003f00"/><stop offset=".345" stop-color="#006700"/><stop offset=".379" stop-color="#009600"/><stop offset=".414" stop-color="#00c300"/><stop offset=".448" stop-color="#00e600"/><stop offset=".483" stop-color="#00fa00"/><stop offset=".517" stop-color="#00ff00"/><stop offset=".552" stop-color="#00fb00"/><stop offset=".586" stop-color="#00e800"/><stop offset=".621" stop-color="#00c500"/><stop offset=".655" stop-color="#009800"/><stop offset=".69" stop-color="#006900"/><stop offset=".724" stop-color="#004100"/><stop offset=".759" stop-color="#002300"/><stop offset=".793" stop-color="#001000"/><stop offset=".828" stop-color="#000700"/><stop offset=".862" stop-color="#000200"/><stop offset=".897" stop-color="#000100"/><stop offset=".931" stop-color="#000000"/><stop offset=".966" stop-color="#000000"/><stop offset="1" stop-color="#000000"/></linearGradient><filter id="h4" x="0" y="0" width="1" height="1" color-interpolation-filters="sRGB"><feColorMatrix in="SourceGraphic" type="matrix" values="1 0 0 0 0 1 0 0 0 0 1 0 0 0 0 0 0 0 0 1" result="a"/><feColorMatrix in="SourceGraphic" type="matrix" values="0 1 0 0 0 0 1 0 0 0 0 1 0 0 0 0 0 0 0 1" result="b"/><feComposite in="a" in2="b" operator="arithmetic" k1="1" k2="0" k3="0" k4="0"/><feComponentTransfer><feFuncR type="table" tableValues="0.042 0.158 0.237 0.306 0.37 0.43 0.486 0.541 0.593 0.644 0.694 0.742 0.79 0.836 0.881 0.926 0.97 1 1 1 1 1 1 1 1 1 1 1 1 1 1 1 1 1 1 1 1 1 1 1 1 1 1 1 1 1 1 1 1 1 1 1 1 1 1 1 1 1 1 1 1 1 1 1 1"/><feFuncG type="table" tableValues="0 0 0 0 0 0 0 0 0 0 0 0 0 0 0 0 0 0.013 0.055 0.097 0.139 0.18 0.22 0.26 0.3 0.339 0.377 0.416 0.454 0.491 0.529 0.566 0.603 0.639 0.675 0.711 0.747 0.782 0.817 0.852 0.887 0.921 0.956 0.99 1 1 1 1 1 1 1 1 1 1 1 1 1 1 1 1 1 1 1 1 1"/><feFuncB type="table" tableValues="0 0 0 0 0 0 0 0 0 0 0 0 0 0 0 0 0 0 0 0 0 0 0 0 0 0 0 0 0 0 0 0 0 0 0 0 0 0 0 0 0 0 0 0 0.035 0.086 0.136 0.186 0.236 0.285 0.334 0.383 0.432 0.481 0.529 0.577 0.625 0.672 0.72 0.767 0.814 0.861 0.907 0.954 1"/></feComponentTransfer></filter><linearGradient id="gy5" gradientUnits="userSpaceOnUse" x1="0" y1="192.6" x2="0" y2="347"><stop offset="0" stop-color="#000000"/><stop offset=".006" stop-color="#000000"/><stop offset=".013" stop-color="#000000"/><stop offset=".019" stop-color="#000000"/><stop offset=".026" stop-color="#000000"/><stop offset=".032" stop-color="#000000"/><stop offset=".039" stop-color="#000000"/><stop offset=".045" stop-color="#000000"/><stop offset=".052" stop-color="#000000"/><stop offset=".058" stop-color="#000000"/><stop offset=".065" stop-color="#000000"/><stop offset=".071" stop-color="#000000"/><stop offset=".077" stop-color="#000000"/><stop offset=".084" stop-color="#010000"/><stop offset=".09" stop-color="#010000"/><stop offset=".097" stop-color="#010000"/><stop offset=".103" stop-color="#020000"/><stop offset=".11" stop-color="#030000"/><stop offset=".116" stop-color="#040000"/><stop offset=".123" stop-color="#060000"/><stop offset=".129" stop-color="#090000"/><stop offset=".135" stop-color="#0d0000"/><stop offset=".142" stop-color="#120000"/><stop offset=".148" stop-color="#180000"/><stop offset=".155" stop-color="#210000"/><stop offset=".161" stop-color="#2b0000"/><stop offset=".168" stop-color="#370000"/><stop offset=".174" stop-color="#470000"/><stop offset=".181" stop-color="#580000"/><stop offset=".187" stop-color="#6d0000"/><stop offset=".194" stop-color="#830000"/><stop offset=".2" stop-color="#9a0000"/><stop offset=".206" stop-color="#b20000"/><stop offset=".213" stop-color="#ca0000"/><stop offset=".219" stop-color="#df0000"/><stop offset=".226" stop-color="#f00000"/><stop offset=".232" stop-color="#fb0000"/><stop offset=".239" stop-color="#ff0000"/><stop offset=".245" stop-color="#fb0000"/><stop offset=".252" stop-color="#f10000"/><stop offset=".258" stop-color="#df0000"/><stop offset=".265" stop-color="#c60000"/><stop offset=".271" stop-color="#a90000"/><stop offset=".277" stop-color="#880000"/><stop offset=".284" stop-color="#670000"/><stop offset=".29" stop-color="#470000"/><stop offset=".297" stop-color="#2c0000"/><stop offset=".303" stop-color="#180000"/><stop offset=".31" stop-color="#0d0000"/><stop offset=".316" stop-color="#0c0000"/><stop offset=".323" stop-color="#110000"/><stop offset=".329" stop-color="#1d0000"/><stop offset=".335" stop-color="#2e0000"/><stop offset=".342" stop-color="#410000"/><stop offset=".348" stop-color="#550000"/><stop offset=".355" stop-color="#670000"/><stop offset=".361" stop-color="#740000"/><stop offset=".368" stop-color="#7a0000"/><stop offset=".374" stop-color="#790000"/><stop offset=".381" stop-color="#6f0000"/><stop offset=".387" stop-color="#5f0000"/><stop offset=".394" stop-color="#4b0000"/><stop offset=".4" stop-color="#350000"/><stop offset=".406" stop-color="#200000"/><stop offset=".413" stop-color="#100000"/><stop offset=".419" stop-color="#070000"/><stop offset=".426" stop-color="#070000"/><stop offset=".432" stop-color="#0e0000"/><stop offset=".439" stop-color="#1c0000"/><stop offset=".445" stop-color="#2d0000"/><stop offset=".452" stop-color="#400000"/><stop offset=".458" stop-color="#500000"/><stop offset=".465" stop-color="#5c0000"/><stop offset=".471" stop-color="#610000"/><stop offset=".477" stop-color="#5e0000"/><stop offset=".484" stop-color="#540000"/><stop offset=".49" stop-color="#450000"/><stop offset=".497" stop-color="#320000"/><stop offset=".503" stop-color="#200000"/><stop offset=".51" stop-color="#110000"/><stop offset=".516" stop-color="#080000"/><stop offset=".523" stop-color="#060000"/><stop offset=".529" stop-color="#0d0000"/><stop offset=".535" stop-color="#190000"/><stop offset=".542" stop-color="#2a0000"/><stop offset=".548" stop-color="#3d0000"/><stop offset=".555" stop-color="#4e0000"/><stop offset=".561" stop-color="#5b0000"/><stop offset=".568" stop-color="#610000"/><stop offset=".574" stop-color="#5f0000"/><stop offset=".581" stop-color="#560000"/><stop offset=".587" stop-color="#470000"/><stop offset=".594" stop-color="#350000"/><stop offset=".6" stop-color="#230000"/><stop offset=".606" stop-color="#130000"/><stop offset=".613" stop-color="#090000"/><stop offset=".619" stop-color="#060000"/><stop offset=".626" stop-color="#0c0000"/><stop offset=".632" stop-color="#190000"/><stop offset=".639" stop-color="#2d0000"/><stop offset=".645" stop-color="#440000"/><stop offset=".652" stop-color="#5b0000"/><stop offset=".658" stop-color="#6e0000"/><stop offset=".665" stop-color="#7a0000"/><stop offset=".671" stop-color="#7f0000"/><stop offset=".677" stop-color="#7c0000"/><stop offset=".684" stop-color="#720000"/><stop offset=".69" stop-color="#610000"/><stop offset=".697" stop-color="#4d0000"/><stop offset=".703" stop-color="#380000"/><stop offset=".71" stop-color="#250000"/><stop offset=".716" stop-color="#160000"/><stop offset=".723" stop-color="#0d0000"/><stop offset=".729" stop-color="#0b0000"/><stop offset=".735" stop-color="#110000"/><stop offset=".742" stop-color="#1f0000"/><stop offset=".748" stop-color="#330000"/><stop offset=".755" stop-color="#4c0000"/><stop offset=".761" stop-color="#680000"/><stop offset=".768" stop-color="#840000"/><stop offset=".774" stop-color="#9e0000"/><stop offset=".781" stop-color="#b50000"/><stop offset=".787" stop-color="#c70000"/><stop offset=".794" stop-color="#d30000"/><stop offset=".8" stop-color="#d80000"/><stop offset=".806" stop-color="#d80000"/><stop offset=".813" stop-color="#d00000"/><stop offset=".819" stop-color="#c40000"/><stop offset=".826" stop-color="#b30000"/><stop offset=".832" stop-color="#a00000"/><stop offset=".839" stop-color="#8c0000"/><stop offset=".845" stop-color="#780000"/><stop offset=".852" stop-color="#640000"/><stop offset=".858" stop-color="#520000"/><stop offset=".865" stop-color="#420000"/><stop offset=".871" stop-color="#340000"/><stop offset=".877" stop-color="#290000"/><stop offset=".884" stop-color="#1f0000"/><stop offset=".89" stop-color="#170000"/><stop offset=".897" stop-color="#110000"/><stop offset=".903" stop-color="#0d0000"/><stop offset=".91" stop-color="#090000"/><stop offset=".916" stop-color="#060000"/><stop offset=".923" stop-color="#040000"/><stop offset=".929" stop-color="#030000"/><stop offset=".935" stop-color="#020000"/><stop offset=".942" stop-color="#010000"/><stop offset=".948" stop-color="#010000"/><stop offset=".955" stop-color="#010000"/><stop offset=".961" stop-color="#000000"/><stop offset=".968" stop-color="#000000"/><stop offset=".974" stop-color="#000000"/><stop offset=".981" stop-color="#000000"/><stop offset=".987" stop-color="#000000"/><stop offset=".994" stop-color="#000000"/><stop offset="1" stop-color="#000000"/></linearGradient><linearGradient id="gx5_0"><stop offset="0" stop-color="#000000"/><stop offset=".034" stop-color="#000000"/><stop offset=".069" stop-color="#000000"/><stop offset=".103" stop-color="#000000"/><stop offset=".138" stop-color="#000000"/><stop offset=".172" stop-color="#000000"/><stop offset=".207" stop-color="#000100"/><stop offset=".241" stop-color="#000300"/><stop offset=".276" stop-color="#000a00"/><stop offset=".31" stop-color="#001900"/><stop offset=".345" stop-color="#003400"/><stop offset=".379" stop-color="#005e00"/><stop offset=".414" stop-color="#009100"/><stop offset=".448" stop-color="#00c300"/><stop offset=".483" stop-color="#00e900"/><stop offset=".517" stop-color="#00fc00"/><stop offset=".552" stop-color="#00ff00"/><stop offset=".586" stop-color="#00f400"/><stop offset=".621" stop-color="#00d600"/><stop offset=".655" stop-color="#00a800"/><stop offset=".69" stop-color="#007400"/><stop offset=".724" stop-color="#004500"/><stop offset=".759" stop-color="#002300"/><stop offset=".793" stop-color="#000f00"/><stop offset=".828" stop-color="#000500"/><stop offset=".862" stop-color="#000200"/><stop offset=".897" stop-color="#000000"/><stop offset=".931" stop-color="#000000"/><stop offset=".966" stop-color="#000000"/><stop offset="1" stop-color="#000000"/></linearGradient><linearGradient id="gx5_1"><stop offset="0" stop-color="#000000"/><stop offset=".034" stop-color="#000000"/><stop offset=".069" stop-color="#000000"/><stop offset=".103" stop-color="#000000"/><stop offset=".138" stop-color="#000000"/><stop offset=".172" stop-color="#000100"/><stop offset=".207" stop-color="#000300"/><stop offset=".241" stop-color="#000a00"/><stop offset=".276" stop-color="#001800"/><stop offset=".31" stop-color="#003100"/><stop offset=".345" stop-color="#005800"/><stop offset=".379" stop-color="#008800"/><stop offset=".414" stop-color="#00ba00"/><stop offset=".448" stop-color="#00e200"/><stop offset=".483" stop-color="#00f900"/><stop offset=".517" stop-color="#00ff00"/><stop offset=".552" stop-color="#00fa00"/><stop offset=".586" stop-color="#00e400"/><stop offset=".621" stop-color="#00bc00"/><stop offset=".655" stop-color="#008b00"/><stop offset=".69" stop-color="#005a00"/><stop offset=".724" stop-color="#003300"/><stop offset=".759" stop-color="#001800"/><stop offset=".793" stop-color="#000a00"/><stop offset=".828" stop-color="#000300"/><stop offset=".862" stop-color="#000100"/><stop offset=".897" stop-color="#000000"/><stop offset=".931" stop-color="#000000"/><stop offset=".966" stop-color="#000000"/><stop offset="1" stop-color="#000000"/></linearGradient><linearGradient id="gx5_2"><stop offset="0" stop-color="#000000"/><stop offset=".034" stop-color="#000000"/><stop offset=".069" stop-color="#000000"/><stop offset=".103" stop-color="#000000"/><stop offset=".138" stop-color="#000000"/><stop offset=".172" stop-color="#000100"/><stop offset=".207" stop-color="#000500"/><stop offset=".241" stop-color="#000d00"/><stop offset=".276" stop-color="#001f00"/><stop offset=".31" stop-color="#003d00"/><stop offset=".345" stop-color="#006800"/><stop offset=".379" stop-color="#009a00"/><stop offset=".414" stop-color="#00ca00"/><stop offset=".448" stop-color="#00ec00"/><stop offset=".483" stop-color="#00fd00"/><stop offset=".517" stop-color="#00ff00"/><stop offset=".552" stop-color="#00f400"/><stop offset=".586" stop-color="#00d800"/><stop offset=".621" stop-color="#00ac00"/><stop offset=".655" stop-color="#007900"/><stop offset=".69" stop-color="#004b00"/><stop offset=".724" stop-color="#002800"/><stop offset=".759" stop-color="#001200"/><stop offset=".793" stop-color="#000700"/><stop offset=".828" stop-color="#000200"/><stop offset=".862" stop-color="#000100"/><stop offset=".897" stop-color="#000000"/><stop offset=".931" stop-color="#000000"/><stop offset=".966" stop-color="#000000"/><stop offset="1" stop-color="#000000"/></linearGradient><linearGradient id="gx5_5"><stop offset="0" stop-color="#000000"/><stop offset=".034" stop-color="#000000"/><stop offset=".069" stop-color="#000000"/><stop offset=".103" stop-color="#000000"/><stop offset=".138" stop-color="#000000"/><stop offset=".172" stop-color="#000100"/><stop offset=".207" stop-color="#000200"/><stop offset=".241" stop-color="#000700"/><stop offset=".276" stop-color="#001300"/><stop offset=".31" stop-color="#002a00"/><stop offset=".345" stop-color="#005000"/><stop offset=".379" stop-color="#008100"/><stop offset=".414" stop-color="#00b500"/><stop offset=".448" stop-color="#00e000"/><stop offset=".483" stop-color="#00f900"/><stop offset=".517" stop-color="#00ff00"/><stop offset=".552" stop-color="#00f900"/><stop offset=".586" stop-color="#00e100"/><stop offset=".621" stop-color="#00b700"/><stop offset=".655" stop-color="#008300"/><stop offset=".69" stop-color="#005200"/><stop offset=".724" stop-color="#002c00"/><stop offset=".759" stop-color="#001400"/><stop offset=".793" stop-color="#000700"/><stop offset=".828" stop-color="#000200"/><stop offset=".862" stop-color="#000100"/><stop offset=".897" stop-color="#000000"/><stop offset=".931" stop-color="#000000"/><stop offset=".966" stop-color="#000000"/><stop offset="1" stop-color="#000000"/></linearGradient><filter id="h5" x="0" y="0" width="1" height="1" color-interpolation-filters="sRGB"><feColorMatrix in="SourceGraphic" type="matrix" values="1 0 0 0 0 1 0 0 0 0 1 0 0 0 0 0 0 0 0 1" result="a"/><feColorMatrix in="SourceGraphic" type="matrix" values="0 1 0 0 0 0 1 0 0 0 0 1 0 0 0 0 0 0 0 1" result="b"/><feComposite in="a" in2="b" operator="arithmetic" k1="1" k2="0" k3="0" k4="0"/><feComponentTransfer><feFuncR type="table" tableValues="0.133 0.245 0.322 0.389 0.45 0.508 0.563 0.615 0.666 0.715 0.763 0.81 0.855 0.9 0.944 0.987 1 1 1 1 1 1 1 1 1 1 1 1 1 1 1 1 1 1 1 1 1 1 1 1 1 1 1 1 1 1 1 1 1 1 1 1 1 1 1 1 1 1 1 1 1 1 1 1 1"/><feFuncG type="table" tableValues="0 0 0 0 0 0 0 0 0 0 0 0 0 0 0 0 0.029 0.071 0.112 0.152 0.192 0.232 0.271 0.309 0.347 0.385 0.423 0.46 0.496 0.533 0.569 0.604 0.64 0.675 0.71 0.744 0.779 0.813 0.847 0.881 0.914 0.947 0.981 1 1 1 1 1 1 1 1 1 1 1 1 1 1 1 1 1 1 1 1 1 1"/><feFuncB type="table" tableValues="0 0 0 0 0 0 0 0 0 0 0 0 0 0 0 0 0 0 0 0 0 0 0 0 0 0 0 0 0 0 0 0 0 0 0 0 0 0 0 0 0 0 0 0.02 0.069 0.118 0.166 0.215 0.263 0.31 0.358 0.405 0.452 0.499 0.545 0.592 0.638 0.684 0.73 0.775 0.82 0.866 0.911 0.955 1"/></feComponentTransfer></filter><linearGradient id="gy6" gradientUnits="userSpaceOnUse" x1="0" y1="192.6" x2="0" y2="347"><stop offset="0" stop-color="#000000"/><stop offset=".006" stop-color="#000000"/><stop offset=".013" stop-color="#000000"/><stop offset=".019" stop-color="#000000"/><stop offset=".026" stop-color="#000000"/><stop offset=".032" stop-color="#000000"/><stop offset=".039" stop-color="#000000"/><stop offset=".045" stop-color="#000000"/><stop offset=".052" stop-color="#000000"/><stop offset=".058" stop-color="#000000"/><stop offset=".065" stop-color="#000000"/><stop offset=".071" stop-color="#000000"/><stop offset=".077" stop-color="#010000"/><stop offset=".084" stop-color="#010000"/><stop offset=".09" stop-color="#020000"/><stop offset=".097" stop-color="#020000"/><stop offset=".103" stop-color="#030000"/><stop offset=".11" stop-color="#050000"/><stop offset=".116" stop-color="#070000"/><stop offset=".123" stop-color="#0a0000"/><stop offset=".129" stop-color="#0e0000"/><stop offset=".135" stop-color="#130000"/><stop offset=".142" stop-color="#1a0000"/><stop offset=".148" stop-color="#230000"/><stop offset=".155" stop-color="#2d0000"/><stop offset=".161" stop-color="#3b0000"/><stop offset=".168" stop-color="#4a0000"/><stop offset=".174" stop-color="#5c0000"/><stop offset=".181" stop-color="#700000"/><stop offset=".187" stop-color="#870000"/><stop offset=".194" stop-color="#9e0000"/><stop offset=".2" stop-color="#b60000"/><stop offset=".206" stop-color="#cd0000"/><stop offset=".213" stop-color="#e10000"/><stop offset=".219" stop-color="#f20000"/><stop offset=".226" stop-color="#fc0000"/><stop offset=".232" stop-color="#ff0000"/><stop offset=".239" stop-color="#f90000"/><stop offset=".245" stop-color="#eb0000"/><stop offset=".252" stop-color="#d40000"/><stop offset=".258" stop-color="#b50000"/><stop offset=".265" stop-color="#920000"/><stop offset=".271" stop-color="#6c0000"/><stop offset=".277" stop-color="#470000"/><stop offset=".284" stop-color="#280000"/><stop offset=".29" stop-color="#110000"/><stop offset=".297" stop-color="#060000"/><stop offset=".303" stop-color="#070000"/><stop offset=".31" stop-color="#0e0000"/><stop offset=".316" stop-color="#1a0000"/><stop offset=".323" stop-color="#2b0000"/><stop offset=".329" stop-color="#3c0000"/><stop offset=".335" stop-color="#4c0000"/><stop offset=".342" stop-color="#570000"/><stop offset=".348" stop-color="#5c0000"/><stop offset=".355" stop-color="#590000"/><stop offset=".361" stop-color="#4f0000"/><stop offset=".368" stop-color="#400000"/><stop offset=".374" stop-color="#2d0000"/><stop offset=".381" stop-color="#1c0000"/><stop offset=".387" stop-color="#0e0000"/><stop offset=".394" stop-color="#060000"/><stop offset=".4" stop-color="#070000"/><stop offset=".406" stop-color="#0f0000"/><stop offset=".413" stop-color="#1e0000"/><stop offset=".419" stop-color="#300000"/><stop offset=".426" stop-color="#410000"/><stop offset=".432" stop-color="#4e0000"/><stop offset=".439" stop-color="#540000"/><stop offset=".445" stop-color="#510000"/><stop offset=".452" stop-color="#460000"/><stop offset=".458" stop-color="#360000"/><stop offset=".465" stop-color="#230000"/><stop offset=".471" stop-color="#120000"/><stop offset=".477" stop-color="#080000"/><stop offset=".484" stop-color="#060000"/><stop offset=".49" stop-color="#0d0000"/><stop offset=".497" stop-color="#1e0000"/><stop offset=".503" stop-color="#330000"/><stop offset=".51" stop-color="#490000"/><stop offset=".516" stop-color="#590000"/><stop offset=".523" stop-color="#610000"/><stop offset=".529" stop-color="#5e0000"/><stop offset=".535" stop-color="#510000"/><stop offset=".542" stop-color="#3d0000"/><stop offset=".548" stop-color="#270000"/><stop offset=".555" stop-color="#140000"/><stop offset=".561" stop-color="#080000"/><stop offset=".568" stop-color="#060000"/><stop offset=".574" stop-color="#0e0000"/><stop offset=".581" stop-color="#1d0000"/><stop offset=".587" stop-color="#310000"/><stop offset=".594" stop-color="#450000"/><stop offset=".6" stop-color="#540000"/><stop offset=".606" stop-color="#5b0000"/><stop offset=".613" stop-color="#590000"/><stop offset=".619" stop-color="#4e0000"/><stop offset=".626" stop-color="#3d0000"/><stop offset=".632" stop-color="#290000"/><stop offset=".639" stop-color="#170000"/><stop offset=".645" stop-color="#0a0000"/><stop offset=".652" stop-color="#050000"/><stop offset=".658" stop-color="#0a0000"/><stop offset=".665" stop-color="#150000"/><stop offset=".671" stop-color="#260000"/><stop offset=".677" stop-color="#390000"/><stop offset=".684" stop-color="#4b0000"/><stop offset=".69" stop-color="#580000"/><stop offset=".697" stop-color="#5e0000"/><stop offset=".703" stop-color="#5c0000"/><stop offset=".71" stop-color="#540000"/><stop offset=".716" stop-color="#450000"/><stop offset=".723" stop-color="#340000"/><stop offset=".729" stop-color="#220000"/><stop offset=".735" stop-color="#130000"/><stop offset=".742" stop-color="#090000"/><stop offset=".748" stop-color="#050000"/><stop offset=".755" stop-color="#0b0000"/><stop offset=".761" stop-color="#1c0000"/><stop offset=".768" stop-color="#380000"/><stop offset=".774" stop-color="#5a0000"/><stop offset=".781" stop-color="#7f0000"/><stop offset=".787" stop-color="#a30000"/><stop offset=".794" stop-color="#c40000"/><stop offset=".8" stop-color="#de0000"/><stop offset=".806" stop-color="#ef0000"/><stop offset=".813" stop-color="#f90000"/><stop offset=".819" stop-color="#f90000"/><stop offset=".826" stop-color="#f20000"/><stop offset=".832" stop-color="#e40000"/><stop offset=".839" stop-color="#d20000"/><stop offset=".845" stop-color="#bc0000"/><stop offset=".852" stop-color="#a50000"/><stop offset=".858" stop-color="#8e0000"/><stop offset=".865" stop-color="#770000"/><stop offset=".871" stop-color="#630000"/><stop offset=".877" stop-color="#500000"/><stop offset=".884" stop-color="#400000"/><stop offset=".89" stop-color="#320000"/><stop offset=".897" stop-color="#260000"/><stop offset=".903" stop-color="#1d0000"/><stop offset=".91" stop-color="#160000"/><stop offset=".916" stop-color="#100000"/><stop offset=".923" stop-color="#0b0000"/><stop offset=".929" stop-color="#080000"/><stop offset=".935" stop-color="#060000"/><stop offset=".942" stop-color="#040000"/><stop offset=".948" stop-color="#030000"/><stop offset=".955" stop-color="#020000"/><stop offset=".961" stop-color="#010000"/><stop offset=".968" stop-color="#010000"/><stop offset=".974" stop-color="#010000"/><stop offset=".981" stop-color="#000000"/><stop offset=".987" stop-color="#000000"/><stop offset=".994" stop-color="#000000"/><stop offset="1" stop-color="#000000"/></linearGradient><linearGradient id="gx6_0"><stop offset="0" stop-color="#000000"/><stop offset=".034" stop-color="#000000"/><stop offset=".069" stop-color="#000000"/><stop offset=".103" stop-color="#000000"/><stop offset=".138" stop-color="#000100"/><stop offset=".172" stop-color="#000200"/><stop offset=".207" stop-color="#000500"/><stop offset=".241" stop-color="#000c00"/><stop offset=".276" stop-color="#001a00"/><stop offset=".31" stop-color="#003100"/><stop offset=".345" stop-color="#005400"/><stop offset=".379" stop-color="#008100"/><stop offset=".414" stop-color="#00b300"/><stop offset=".448" stop-color="#00df00"/><stop offset=".483" stop-color="#00fa00"/><stop offset=".517" stop-color="#00fd00"/><stop offset=".552" stop-color="#00e600"/><stop offset=".586" stop-color="#00bd00"/><stop offset=".621" stop-color="#008b00"/><stop offset=".655" stop-color="#005d00"/><stop offset=".69" stop-color="#003700"/><stop offset=".724" stop-color="#001e00"/><stop offset=".759" stop-color="#000f00"/><stop offset=".793" stop-color="#000600"/><stop offset=".828" stop-color="#000200"/><stop offset=".862" stop-color="#000100"/><stop offset=".897" stop-color="#000000"/><stop offset=".931" stop-color="#000000"/><stop offset=".966" stop-color="#000000"/><stop offset="1" stop-color="#000000"/></linearGradient><linearGradient id="gx6_1"><stop offset="0" stop-color="#000000"/><stop offset=".034" stop-color="#000000"/><stop offset=".069" stop-color="#000000"/><stop offset=".103" stop-color="#000100"/><stop offset=".138" stop-color="#000200"/><stop offset=".172" stop-color="#000500"/><stop offset=".207" stop-color="#000c00"/><stop offset=".241" stop-color="#001700"/><stop offset=".276" stop-color="#002900"/><stop offset=".31" stop-color="#004500"/><stop offset=".345" stop-color="#006900"/><stop offset=".379" stop-color="#009400"/><stop offset=".414" stop-color="#00c000"/><stop offset=".448" stop-color="#00e500"/><stop offset=".483" stop-color="#00fb00"/><stop offset=".517" stop-color="#00fd00"/><stop offset=".552" stop-color="#00eb00"/><stop offset=".586" stop-color="#00c900"/><stop offset=".621" stop-color="#009e00"/><stop offset=".655" stop-color="#007200"/><stop offset=".69" stop-color="#004c00"/><stop offset=".724" stop-color="#002e00"/><stop offset=".759" stop-color="#001a00"/><stop offset=".793" stop-color="#000d00"/><stop offset=".828" stop-color="#000600"/><stop offset=".862" stop-color="#000300"/><stop offset=".897" stop-color="#000100"/><stop offset=".931" stop-color="#000000"/><stop offset=".966" stop-color="#000000"/><stop offset="1" stop-color="#000000"/></linearGradient><filter id="h6" x="0" y="0" width="1" height="1" color-interpolation-filters="sRGB"><feColorMatrix in="SourceGraphic" type="matrix" values="1 0 0 0 0 1 0 0 0 0 1 0 0 0 0 0 0 0 0 1" result="a"/><feColorMatrix in="SourceGraphic" type="matrix" values="0 1 0 0 0 0 1 0 0 0 0 1 0 0 0 0 0 0 0 1" result="b"/><feComposite in="a" in2="b" operator="arithmetic" k1="1" k2="0" k3="0" k4="0"/><feComponentTransfer><feFuncR type="table" tableValues="0.126 0.264 0.35 0.424 0.49 0.552 0.61 0.665 0.718 0.769 0.819 0.866 0.913 0.958 1 1 1 1 1 1 1 1 1 1 1 1 1 1 1 1 1 1 1 1 1 1 1 1 1 1 1 1 1 1 1 1 1 1 1 1 1 1 1 1 1 1 1 1 1 1 1 1 1 1 1"/><feFuncG type="table" tableValues="0 0 0 0 0 0 0 0 0 0 0 0 0 0 0.003 0.046 0.089 0.13 0.171 0.212 0.251 0.29 0.329 0.367 0.405 0.442 0.478 0.514 0.55 0.586 0.621 0.655 0.69 0.724 0.758 0.791 0.824 0.857 0.89 0.922 0.954 0.986 1 1 1 1 1 1 1 1 1 1 1 1 1 1 1 1 1 1 1 1 1 1 1"/><feFuncB type="table" tableValues="0 0 0 0 0 0 0 0 0 0 0 0 0 0 0 0 0 0 0 0 0 0 0 0 0 0 0 0 0 0 0 0 0 0 0 0 0 0 0 0 0 0 0.027 0.074 0.121 0.167 0.213 0.259 0.305 0.35 0.395 0.44 0.484 0.529 0.573 0.616 0.66 0.703 0.746 0.789 0.832 0.874 0.916 0.958 1"/></feComponentTransfer></filter><linearGradient id="gy7" gradientUnits="userSpaceOnUse" x1="0" y1="379.2" x2="0" y2="533.6"><stop offset="0" stop-color="#000000"/><stop offset=".006" stop-color="#000000"/><stop offset=".013" stop-color="#000000"/><stop offset=".019" stop-color="#000000"/><stop offset=".026" stop-color="#000000"/><stop offset=".032" stop-color="#000000"/><stop offset=".039" stop-color="#000000"/><stop offset=".045" stop-color="#000000"/><stop offset=".052" stop-color="#000000"/><stop offset=".058" stop-color="#000000"/><stop offset=".065" stop-color="#000000"/><stop offset=".071" stop-color="#000000"/><stop offset=".077" stop-color="#000000"/><stop offset=".084" stop-color="#000000"/><stop offset=".09" stop-color="#000000"/><stop offset=".097" stop-color="#000000"/><stop offset=".103" stop-color="#000000"/><stop offset=".11" stop-color="#000000"/><stop offset=".116" stop-color="#010000"/><stop offset=".123" stop-color="#010000"/><stop offset=".129" stop-color="#020000"/><stop offset=".135" stop-color="#040000"/><stop offset=".142" stop-color="#060000"/><stop offset=".148" stop-color="#0a0000"/><stop offset=".155" stop-color="#0f0000"/><stop offset=".161" stop-color="#170000"/><stop offset=".168" stop-color="#220000"/><stop offset=".174" stop-color="#320000"/><stop offset=".181" stop-color="#450000"/><stop offset=".187" stop-color="#5e0000"/><stop offset=".194" stop-color="#7a0000"/><stop offset=".2" stop-color="#9a0000"/><stop offset=".206" stop-color="#b90000"/><stop offset=".213" stop-color="#d50000"/><stop offset=".219" stop-color="#ea0000"/><stop offset=".226" stop-color="#f20000"/><stop offset=".232" stop-color="#ee0000"/><stop offset=".239" stop-color="#df0000"/><stop offset=".245" stop-color="#c60000"/><stop offset=".252" stop-color="#a40000"/><stop offset=".258" stop-color="#7e0000"/><stop offset=".265" stop-color="#560000"/><stop offset=".271" stop-color="#330000"/><stop offset=".277" stop-color="#180000"/><stop offset=".284" stop-color="#0a0000"/><stop offset=".29" stop-color="#0a0000"/><stop offset=".297" stop-color="#120000"/><stop offset=".303" stop-color="#200000"/><stop offset=".31" stop-color="#310000"/><stop offset=".316" stop-color="#420000"/><stop offset=".323" stop-color="#500000"/><stop offset=".329" stop-color="#560000"/><stop offset=".335" stop-color="#550000"/><stop offset=".342" stop-color="#4b0000"/><stop offset=".348" stop-color="#3b0000"/><stop offset=".355" stop-color="#290000"/><stop offset=".361" stop-color="#180000"/><stop offset=".368" stop-color="#0e0000"/><stop offset=".374" stop-color="#0c0000"/><stop offset=".381" stop-color="#130000"/><stop offset=".387" stop-color="#220000"/><stop offset=".394" stop-color="#340000"/><stop offset=".4" stop-color="#450000"/><stop offset=".406" stop-color="#500000"/><stop offset=".413" stop-color="#510000"/><stop offset=".419" stop-color="#480000"/><stop offset=".426" stop-color="#380000"/><stop offset=".432" stop-color="#250000"/><stop offset=".439" stop-color="#150000"/><stop offset=".445" stop-color="#0c0000"/><stop offset=".452" stop-color="#0e0000"/><stop offset=".458" stop-color="#1b0000"/><stop offset=".465" stop-color="#2e0000"/><stop offset=".471" stop-color="#430000"/><stop offset=".477" stop-color="#520000"/><stop offset=".484" stop-color="#570000"/><stop offset=".49" stop-color="#500000"/><stop offset=".497" stop-color="#3f0000"/><stop offset=".503" stop-color="#2a0000"/><stop offset=".51" stop-color="#170000"/><stop offset=".516" stop-color="#0d0000"/><stop offset=".523" stop-color="#0e0000"/><stop offset=".529" stop-color="#1a0000"/><stop offset=".535" stop-color="#2e0000"/><stop offset=".542" stop-color="#420000"/><stop offset=".548" stop-color="#520000"/><stop offset=".555" stop-color="#570000"/><stop offset=".561" stop-color="#500000"/><stop offset=".568" stop-color="#3f0000"/><stop offset=".574" stop-color="#2b0000"/><stop offset=".581" stop-color="#180000"/><stop offset=".587" stop-color="#0d0000"/><stop offset=".594" stop-color="#0d0000"/><stop offset=".6" stop-color="#190000"/><stop offset=".606" stop-color="#2c0000"/><stop offset=".613" stop-color="#420000"/><stop offset=".619" stop-color="#530000"/><stop offset=".626" stop-color="#5c0000"/><stop offset=".632" stop-color="#580000"/><stop offset=".639" stop-color="#4b0000"/><stop offset=".645" stop-color="#370000"/><stop offset=".652" stop-color="#220000"/><stop offset=".658" stop-color="#120000"/><stop offset=".665" stop-color="#0c0000"/><stop offset=".671" stop-color="#100000"/><stop offset=".677" stop-color="#1d0000"/><stop offset=".684" stop-color="#300000"/><stop offset=".69" stop-color="#450000"/><stop offset=".697" stop-color="#560000"/><stop offset=".703" stop-color="#600000"/><stop offset=".71" stop-color="#600000"/><stop offset=".716" stop-color="#570000"/><stop offset=".723" stop-color="#470000"/><stop offset=".729" stop-color="#330000"/><stop offset=".735" stop-color="#200000"/><stop offset=".742" stop-color="#110000"/><stop offset=".748" stop-color="#0a0000"/><stop offset=".755" stop-color="#0c0000"/><stop offset=".761" stop-color="#1d0000"/><stop offset=".768" stop-color="#3b0000"/><stop offset=".774" stop-color="#620000"/><stop offset=".781" stop-color="#8c0000"/><stop offset=".787" stop-color="#b40000"/><stop offset=".794" stop-color="#d60000"/><stop offset=".8" stop-color="#ee0000"/><stop offset=".806" stop-color="#fc0000"/><stop offset=".813" stop-color="#fe0000"/><stop offset=".819" stop-color="#f30000"/><stop offset=".826" stop-color="#db0000"/><stop offset=".832" stop-color="#bd0000"/><stop offset=".839" stop-color="#9c0000"/><stop offset=".845" stop-color="#7b0000"/><stop offset=".852" stop-color="#5e0000"/><stop offset=".858" stop-color="#450000"/><stop offset=".865" stop-color="#310000"/><stop offset=".871" stop-color="#220000"/><stop offset=".877" stop-color="#170000"/><stop offset=".884" stop-color="#0f0000"/><stop offset=".89" stop-color="#090000"/><stop offset=".897" stop-color="#060000"/><stop offset=".903" stop-color="#030000"/><stop offset=".91" stop-color="#020000"/><stop offset=".916" stop-color="#010000"/><stop offset=".923" stop-color="#010000"/><stop offset=".929" stop-color="#000000"/><stop offset=".935" stop-color="#000000"/><stop offset=".942" stop-color="#000000"/><stop offset=".948" stop-color="#000000"/><stop offset=".955" stop-color="#000000"/><stop offset=".961" stop-color="#000000"/><stop offset=".968" stop-color="#000000"/><stop offset=".974" stop-color="#000000"/><stop offset=".981" stop-color="#000000"/><stop offset=".987" stop-color="#000000"/><stop offset=".994" stop-color="#000000"/><stop offset="1" stop-color="#000000"/></linearGradient><linearGradient id="gx7_0"><stop offset="0" stop-color="#000000"/><stop offset=".034" stop-color="#000000"/><stop offset=".069" stop-color="#000000"/><stop offset=".103" stop-color="#000000"/><stop offset=".138" stop-color="#000000"/><stop offset=".172" stop-color="#000100"/><stop offset=".207" stop-color="#000400"/><stop offset=".241" stop-color="#000b00"/><stop offset=".276" stop-color="#001900"/><stop offset=".31" stop-color="#003200"/><stop offset=".345" stop-color="#005800"/><stop offset=".379" stop-color="#008800"/><stop offset=".414" stop-color="#00bb00"/><stop offset=".448" stop-color="#00e400"/><stop offset=".483" stop-color="#00fb00"/><stop offset=".517" stop-color="#00fe00"/><stop offset=".552" stop-color="#00ef00"/><stop offset=".586" stop-color="#00cb00"/><stop offset=".621" stop-color="#009a00"/><stop offset=".655" stop-color="#006800"/><stop offset=".69" stop-color="#003e00"/><stop offset=".724" stop-color="#002000"/><stop offset=".759" stop-color="#000f00"/><stop offset=".793" stop-color="#000600"/><stop offset=".828" stop-color="#000200"/><stop offset=".862" stop-color="#000100"/><stop offset=".897" stop-color="#000000"/><stop offset=".931" stop-color="#000000"/><stop offset=".966" stop-color="#000000"/><stop offset="1" stop-color="#000000"/></linearGradient><linearGradient id="gx7_1"><stop offset="0" stop-color="#000000"/><stop offset=".034" stop-color="#000000"/><stop offset=".069" stop-color="#000000"/><stop offset=".103" stop-color="#000000"/><stop offset=".138" stop-color="#000000"/><stop offset=".172" stop-color="#000000"/><stop offset=".207" stop-color="#000200"/><stop offset=".241" stop-color="#000700"/><stop offset=".276" stop-color="#001300"/><stop offset=".31" stop-color="#002b00"/><stop offset=".345" stop-color="#005400"/><stop offset=".379" stop-color="#008900"/><stop offset=".414" stop-color="#00bf00"/><stop offset=".448" stop-color="#00e800"/><stop offset=".483" stop-color="#00fc00"/><stop offset=".517" stop-color="#00ff00"/><stop offset=".552" stop-color="#00f200"/><stop offset=".586" stop-color="#00cf00"/><stop offset=".621" stop-color="#009c00"/><stop offset=".655" stop-color="#006500"/><stop offset=".69" stop-color="#003800"/><stop offset=".724" stop-color="#001a00"/><stop offset=".759" stop-color="#000a00"/><stop offset=".793" stop-color="#000300"/><stop offset=".828" stop-color="#000100"/><stop offset=".862" stop-color="#000000"/><stop offset=".897" stop-color="#000000"/><stop offset=".931" stop-color="#000000"/><stop offset=".966" stop-color="#000000"/><stop offset="1" stop-color="#000000"/></linearGradient><filter id="h7" x="0" y="0" width="1" height="1" color-interpolation-filters="sRGB"><feColorMatrix in="SourceGraphic" type="matrix" values="1 0 0 0 0 1 0 0 0 0 1 0 0 0 0 0 0 0 0 1" result="a"/><feColorMatrix in="SourceGraphic" type="matrix" values="0 1 0 0 0 0 1 0 0 0 0 1 0 0 0 0 0 0 0 1" result="b"/><feComposite in="a" in2="b" operator="arithmetic" k1="1" k2="0" k3="0" k4="0"/><feComponentTransfer><feFuncR type="table" tableValues="0.259 0.366 0.438 0.502 0.56 0.615 0.667 0.717 0.766 0.812 0.858 0.902 0.945 0.988 1 1 1 1 1 1 1 1 1 1 1 1 1 1 1 1 1 1 1 1 1 1 1 1 1 1 1 1 1 1 1 1 1 1 1 1 1 1 1 1 1 1 1 1 1 1 1 1 1 1 1"/><feFuncG type="table" tableValues="0 0 0 0 0 0 0 0 0 0 0 0 0 0 0.029 0.07 0.111 0.15 0.189 0.228 0.266 0.303 0.34 0.377 0.413 0.449 0.484 0.52 0.554 0.589 0.623 0.657 0.691 0.724 0.757 0.79 0.823 0.855 0.888 0.92 0.952 0.983 1 1 1 1 1 1 1 1 1 1 1 1 1 1 1 1 1 1 1 1 1 1 1"/><feFuncB type="table" tableValues="0 0 0 0 0 0 0 0 0 0 0 0 0 0 0 0 0 0 0 0 0 0 0 0 0 0 0 0 0 0 0 0 0 0 0 0 0 0 0 0 0 0 0.022 0.069 0.115 0.162 0.208 0.254 0.299 0.345 0.39 0.435 0.479 0.524 0.568 0.612 0.656 0.7 0.743 0.786 0.829 0.872 0.915 0.958 1"/></feComponentTransfer></filter><linearGradient id="gy8" gradientUnits="userSpaceOnUse" x1="0" y1="379.2" x2="0" y2="533.6"><stop offset="0" stop-color="#000000"/><stop offset=".006" stop-color="#000000"/><stop offset=".013" stop-color="#000000"/><stop offset=".019" stop-color="#000000"/><stop offset=".026" stop-color="#000000"/><stop offset=".032" stop-color="#000000"/><stop offset=".039" stop-color="#000000"/><stop offset=".045" stop-color="#000000"/><stop offset=".052" stop-color="#000000"/><stop offset=".058" stop-color="#000000"/><stop offset=".065" stop-color="#000000"/><stop offset=".071" stop-color="#000000"/><stop offset=".077" stop-color="#000000"/><stop offset=".084" stop-color="#000000"/><stop offset=".09" stop-color="#000000"/><stop offset=".097" stop-color="#000000"/><stop offset=".103" stop-color="#000000"/><stop offset=".11" stop-color="#000000"/><stop offset=".116" stop-color="#000000"/><stop offset=".123" stop-color="#010000"/><stop offset=".129" stop-color="#010000"/><stop offset=".135" stop-color="#020000"/><stop offset=".142" stop-color="#030000"/><stop offset=".148" stop-color="#060000"/><stop offset=".155" stop-color="#0a0000"/><stop offset=".161" stop-color="#100000"/><stop offset=".168" stop-color="#190000"/><stop offset=".174" stop-color="#260000"/><stop offset=".181" stop-color="#380000"/><stop offset=".187" stop-color="#4f0000"/><stop offset=".194" stop-color="#6b0000"/><stop offset=".2" stop-color="#8d0000"/><stop offset=".206" stop-color="#b00000"/><stop offset=".213" stop-color="#d20000"/><stop offset=".219" stop-color="#ee0000"/><stop offset=".226" stop-color="#fd0000"/><stop offset=".232" stop-color="#fd0000"/><stop offset=".239" stop-color="#f00000"/><stop offset=".245" stop-color="#d50000"/><stop offset=".252" stop-color="#b00000"/><stop offset=".258" stop-color="#840000"/><stop offset=".265" stop-color="#570000"/><stop offset=".271" stop-color="#2e0000"/><stop offset=".277" stop-color="#110000"/><stop offset=".284" stop-color="#040000"/><stop offset=".29" stop-color="#070000"/><stop offset=".297" stop-color="#150000"/><stop offset=".303" stop-color="#2a0000"/><stop offset=".31" stop-color="#420000"/><stop offset=".316" stop-color="#570000"/><stop offset=".323" stop-color="#640000"/><stop offset=".329" stop-color="#650000"/><stop offset=".335" stop-color="#590000"/><stop offset=".342" stop-color="#440000"/><stop offset=".348" stop-color="#2b0000"/><stop offset=".355" stop-color="#140000"/><stop offset=".361" stop-color="#060000"/><stop offset=".368" stop-color="#050000"/><stop offset=".374" stop-color="#100000"/><stop offset=".381" stop-color="#240000"/><stop offset=".387" stop-color="#3a0000"/><stop offset=".394" stop-color="#4b0000"/><stop offset=".4" stop-color="#520000"/><stop offset=".406" stop-color="#4b0000"/><stop offset=".413" stop-color="#390000"/><stop offset=".419" stop-color="#230000"/><stop offset=".426" stop-color="#0f0000"/><stop offset=".432" stop-color="#040000"/><stop offset=".439" stop-color="#080000"/><stop offset=".445" stop-color="#180000"/><stop offset=".452" stop-color="#2f0000"/><stop offset=".458" stop-color="#450000"/><stop offset=".465" stop-color="#510000"/><stop offset=".471" stop-color="#4e0000"/><stop offset=".477" stop-color="#3f0000"/><stop offset=".484" stop-color="#270000"/><stop offset=".49" stop-color="#110000"/><stop offset=".497" stop-color="#050000"/><stop offset=".503" stop-color="#070000"/><stop offset=".51" stop-color="#160000"/><stop offset=".516" stop-color="#2c0000"/><stop offset=".523" stop-color="#410000"/><stop offset=".529" stop-color="#4c0000"/><stop offset=".535" stop-color="#490000"/><stop offset=".542" stop-color="#3a0000"/><stop offset=".548" stop-color="#230000"/><stop offset=".555" stop-color="#0f0000"/><stop offset=".561" stop-color="#040000"/><stop offset=".568" stop-color="#080000"/><stop offset=".574" stop-color="#180000"/><stop offset=".581" stop-color="#300000"/><stop offset=".587" stop-color="#460000"/><stop offset=".594" stop-color="#510000"/><stop offset=".6" stop-color="#4e0000"/><stop offset=".606" stop-color="#3e0000"/><stop offset=".613" stop-color="#260000"/><stop offset=".619" stop-color="#110000"/><stop offset=".626" stop-color="#050000"/><stop offset=".632" stop-color="#070000"/><stop offset=".639" stop-color="#160000"/><stop offset=".645" stop-color="#2d0000"/><stop offset=".652" stop-color="#450000"/><stop offset=".658" stop-color="#540000"/><stop offset=".665" stop-color="#560000"/><stop offset=".671" stop-color="#4a0000"/><stop offset=".677" stop-color="#360000"/><stop offset=".684" stop-color="#1e0000"/><stop offset=".69" stop-color="#0c0000"/><stop offset=".697" stop-color="#040000"/><stop offset=".703" stop-color="#0a0000"/><stop offset=".71" stop-color="#1d0000"/><stop offset=".716" stop-color="#370000"/><stop offset=".723" stop-color="#510000"/><stop offset=".729" stop-color="#640000"/><stop offset=".735" stop-color="#6b0000"/><stop offset=".742" stop-color="#650000"/><stop offset=".748" stop-color="#540000"/><stop offset=".755" stop-color="#3c0000"/><stop offset=".761" stop-color="#230000"/><stop offset=".768" stop-color="#0f0000"/><stop offset=".774" stop-color="#050000"/><stop offset=".781" stop-color="#070000"/><stop offset=".787" stop-color="#1a0000"/><stop offset=".794" stop-color="#3c0000"/><stop offset=".8" stop-color="#670000"/><stop offset=".806" stop-color="#950000"/><stop offset=".813" stop-color="#bf0000"/><stop offset=".819" stop-color="#e00000"/><stop offset=".826" stop-color="#f60000"/><stop offset=".832" stop-color="#ff0000"/><stop offset=".839" stop-color="#f90000"/><stop offset=".845" stop-color="#e50000"/><stop offset=".852" stop-color="#c60000"/><stop offset=".858" stop-color="#a30000"/><stop offset=".865" stop-color="#800000"/><stop offset=".871" stop-color="#600000"/><stop offset=".877" stop-color="#460000"/><stop offset=".884" stop-color="#300000"/><stop offset=".89" stop-color="#210000"/><stop offset=".897" stop-color="#150000"/><stop offset=".903" stop-color="#0d0000"/><stop offset=".91" stop-color="#080000"/><stop offset=".916" stop-color="#050000"/><stop offset=".923" stop-color="#030000"/><stop offset=".929" stop-color="#020000"/><stop offset=".935" stop-color="#010000"/><stop offset=".942" stop-color="#000000"/><stop offset=".948" stop-color="#000000"/><stop offset=".955" stop-color="#000000"/><stop offset=".961" stop-color="#000000"/><stop offset=".968" stop-color="#000000"/><stop offset=".974" stop-color="#000000"/><stop offset=".981" stop-color="#000000"/><stop offset=".987" stop-color="#000000"/><stop offset=".994" stop-color="#000000"/><stop offset="1" stop-color="#000000"/></linearGradient><linearGradient id="gx8_0"><stop offset="0" stop-color="#000000"/><stop offset=".034" stop-color="#000000"/><stop offset=".069" stop-color="#000000"/><stop offset=".103" stop-color="#000000"/><stop offset=".138" stop-color="#000000"/><stop offset=".172" stop-color="#000200"/><stop offset=".207" stop-color="#000500"/><stop offset=".241" stop-color="#000d00"/><stop offset=".276" stop-color="#001e00"/><stop offset=".31" stop-color="#003d00"/><stop offset=".345" stop-color="#006800"/><stop offset=".379" stop-color="#009d00"/><stop offset=".414" stop-color="#00cf00"/><stop offset=".448" stop-color="#00f200"/><stop offset=".483" stop-color="#00ff00"/><stop offset=".517" stop-color="#00f800"/><stop offset=".552" stop-color="#00db00"/><stop offset=".586" stop-color="#00ad00"/><stop offset=".621" stop-color="#007800"/><stop offset=".655" stop-color="#004800"/><stop offset=".69" stop-color="#002600"/><stop offset=".724" stop-color="#001100"/><stop offset=".759" stop-color="#000700"/><stop offset=".793" stop-color="#000200"/><stop offset=".828" stop-color="#000100"/><stop offset=".862" stop-color="#000000"/><stop offset=".897" stop-color="#000000"/><stop offset=".931" stop-color="#000000"/><stop offset=".966" stop-color="#000000"/><stop offset="1" stop-color="#000000"/></linearGradient><linearGradient id="gx8_1"><stop offset="0" stop-color="#000000"/><stop offset=".034" stop-color="#000000"/><stop offset=".069" stop-color="#000000"/><stop offset=".103" stop-color="#000000"/><stop offset=".138" stop-color="#000000"/><stop offset=".172" stop-color="#000100"/><stop offset=".207" stop-color="#000400"/><stop offset=".241" stop-color="#000c00"/><stop offset=".276" stop-color="#001e00"/><stop offset=".31" stop-color="#003f00"/><stop offset=".345" stop-color="#006f00"/><stop offset=".379" stop-color="#00a600"/><stop offset=".414" stop-color="#00d700"/><stop offset=".448" stop-color="#00f500"/><stop offset=".483" stop-color="#00ff00"/><stop offset=".517" stop-color="#00fa00"/><stop offset=".552" stop-color="#00e200"/><stop offset=".586" stop-color="#00b600"/><stop offset=".621" stop-color="#007f00"/><stop offset=".655" stop-color="#004c00"/><stop offset=".69" stop-color="#002600"/><stop offset=".724" stop-color="#001000"/><stop offset=".759" stop-color="#000500"/><stop offset=".793" stop-color="#000100"/><stop offset=".828" stop-color="#000000"/><stop offset=".862" stop-color="#000000"/><stop offset=".897" stop-color="#000000"/><stop offset=".931" stop-color="#000000"/><stop offset=".966" stop-color="#000000"/><stop offset="1" stop-color="#000000"/></linearGradient><filter id="h8" x="0" y="0" width="1" height="1" color-interpolation-filters="sRGB"><feColorMatrix in="SourceGraphic" type="matrix" values="1 0 0 0 0 1 0 0 0 0 1 0 0 0 0 0 0 0 0 1" result="a"/><feColorMatrix in="SourceGraphic" type="matrix" values="0 1 0 0 0 0 1 0 0 0 0 1 0 0 0 0 0 0 0 1" result="b"/><feComposite in="a" in2="b" operator="arithmetic" k1="1" k2="0" k3="0" k4="0"/><feComponentTransfer><feFuncR type="table" tableValues="0.157 0.268 0.344 0.41 0.471 0.528 0.582 0.634 0.685 0.733 0.781 0.827 0.872 0.916 0.96 1 1 1 1 1 1 1 1 1 1 1 1 1 1 1 1 1 1 1 1 1 1 1 1 1 1 1 1 1 1 1 1 1 1 1 1 1 1 1 1 1 1 1 1 1 1 1 1 1 1"/><feFuncG type="table" tableValues="0 0 0 0 0 0 0 0 0 0 0 0 0 0 0 0.002 0.044 0.086 0.126 0.166 0.206 0.245 0.284 0.322 0.36 0.397 0.434 0.471 0.507 0.543 0.579 0.614 0.649 0.684 0.719 0.753 0.787 0.821 0.855 0.888 0.921 0.954 0.987 1 1 1 1 1 1 1 1 1 1 1 1 1 1 1 1 1 1 1 1 1 1"/><feFuncB type="table" tableValues="0 0 0 0 0 0 0 0 0 0 0 0 0 0 0 0 0 0 0 0 0 0 0 0 0 0 0 0 0 0 0 0 0 0 0 0 0 0 0 0 0 0 0 0.029 0.078 0.126 0.174 0.222 0.269 0.317 0.364 0.411 0.457 0.504 0.55 0.596 0.641 0.687 0.732 0.777 0.822 0.867 0.911 0.956 1"/></feComponentTransfer></filter><linearGradient id="gy9" gradientUnits="userSpaceOnUse" x1="0" y1="379.2" x2="0" y2="533.6"><stop offset="0" stop-color="#000000"/><stop offset=".006" stop-color="#000000"/><stop offset=".013" stop-color="#000000"/><stop offset=".019" stop-color="#000000"/><stop offset=".026" stop-color="#000000"/><stop offset=".032" stop-color="#000000"/><stop offset=".039" stop-color="#000000"/><stop offset=".045" stop-color="#000000"/><stop offset=".052" stop-color="#000000"/><stop offset=".058" stop-color="#000000"/><stop offset=".065" stop-color="#000000"/><stop offset=".071" stop-color="#010000"/><stop offset=".077" stop-color="#010000"/><stop offset=".084" stop-color="#020000"/><stop offset=".09" stop-color="#020000"/><stop offset=".097" stop-color="#030000"/><stop offset=".103" stop-color="#040000"/><stop offset=".11" stop-color="#060000"/><stop offset=".116" stop-color="#090000"/><stop offset=".123" stop-color="#0c0000"/><stop offset=".129" stop-color="#100000"/><stop offset=".135" stop-color="#150000"/><stop offset=".142" stop-color="#1c0000"/><stop offset=".148" stop-color="#240000"/><stop offset=".155" stop-color="#2f0000"/><stop offset=".161" stop-color="#3b0000"/><stop offset=".168" stop-color="#490000"/><stop offset=".174" stop-color="#590000"/><stop offset=".181" stop-color="#6b0000"/><stop offset=".187" stop-color="#7f0000"/><stop offset=".194" stop-color="#930000"/><stop offset=".2" stop-color="#a80000"/><stop offset=".206" stop-color="#bc0000"/><stop offset=".213" stop-color="#ce0000"/><stop offset=".219" stop-color="#dc0000"/><stop offset=".226" stop-color="#e60000"/><stop offset=".232" stop-color="#eb0000"/><stop offset=".239" stop-color="#e50000"/><stop offset=".245" stop-color="#d00000"/><stop offset=".252" stop-color="#ae0000"/><stop offset=".258" stop-color="#830000"/><stop offset=".265" stop-color="#560000"/><stop offset=".271" stop-color="#2f0000"/><stop offset=".277" stop-color="#180000"/><stop offset=".284" stop-color="#140000"/><stop offset=".29" stop-color="#270000"/><stop offset=".297" stop-color="#500000"/><stop offset=".303" stop-color="#830000"/><stop offset=".31" stop-color="#af0000"/><stop offset=".316" stop-color="#c60000"/><stop offset=".323" stop-color="#bf0000"/><stop offset=".329" stop-color="#9c0000"/><stop offset=".335" stop-color="#670000"/><stop offset=".342" stop-color="#350000"/><stop offset=".348" stop-color="#170000"/><stop offset=".355" stop-color="#180000"/><stop offset=".361" stop-color="#3a0000"/><stop offset=".368" stop-color="#6e0000"/><stop offset=".374" stop-color="#9d0000"/><stop offset=".381" stop-color="#b20000"/><stop offset=".387" stop-color="#a40000"/><stop offset=".394" stop-color="#790000"/><stop offset=".4" stop-color="#430000"/><stop offset=".406" stop-color="#1b0000"/><stop offset=".413" stop-color="#150000"/><stop offset=".419" stop-color="#320000"/><stop offset=".426" stop-color="#630000"/><stop offset=".432" stop-color="#8f0000"/><stop offset=".439" stop-color="#a10000"/><stop offset=".445" stop-color="#8e0000"/><stop offset=".452" stop-color="#610000"/><stop offset=".458" stop-color="#300000"/><stop offset=".465" stop-color="#140000"/><stop offset=".471" stop-color="#1d0000"/><stop offset=".477" stop-color="#420000"/><stop offset=".484" stop-color="#700000"/><stop offset=".49" stop-color="#8e0000"/><stop offset=".497" stop-color="#8c0000"/><stop offset=".503" stop-color="#6b0000"/><stop offset=".51" stop-color="#3c0000"/><stop offset=".516" stop-color="#1a0000"/><stop offset=".523" stop-color="#160000"/><stop offset=".529" stop-color="#330000"/><stop offset=".535" stop-color="#610000"/><stop offset=".542" stop-color="#870000"/><stop offset=".548" stop-color="#900000"/><stop offset=".555" stop-color="#790000"/><stop offset=".561" stop-color="#4c0000"/><stop offset=".568" stop-color="#230000"/><stop offset=".574" stop-color="#130000"/><stop offset=".581" stop-color="#260000"/><stop offset=".587" stop-color="#530000"/><stop offset=".594" stop-color="#810000"/><stop offset=".6" stop-color="#9b0000"/><stop offset=".606" stop-color="#910000"/><stop offset=".613" stop-color="#6b0000"/><stop offset=".619" stop-color="#3a0000"/><stop offset=".626" stop-color="#190000"/><stop offset=".632" stop-color="#170000"/><stop offset=".639" stop-color="#350000"/><stop offset=".645" stop-color="#670000"/><stop offset=".652" stop-color="#940000"/><stop offset=".658" stop-color="#a80000"/><stop offset=".665" stop-color="#9b0000"/><stop offset=".671" stop-color="#730000"/><stop offset=".677" stop-color="#420000"/><stop offset=".684" stop-color="#1d0000"/><stop offset=".69" stop-color="#140000"/><stop offset=".697" stop-color="#2a0000"/><stop offset=".703" stop-color="#570000"/><stop offset=".71" stop-color="#8a0000"/><stop offset=".716" stop-color="#b00000"/><stop offset=".723" stop-color="#bd0000"/><stop offset=".729" stop-color="#ad0000"/><stop offset=".735" stop-color="#870000"/><stop offset=".742" stop-color="#570000"/><stop offset=".748" stop-color="#2d0000"/><stop offset=".755" stop-color="#160000"/><stop offset=".761" stop-color="#150000"/><stop offset=".768" stop-color="#2a0000"/><stop offset=".774" stop-color="#500000"/><stop offset=".781" stop-color="#7f0000"/><stop offset=".787" stop-color="#ae0000"/><stop offset=".794" stop-color="#d50000"/><stop offset=".8" stop-color="#ee0000"/><stop offset=".806" stop-color="#f70000"/><stop offset=".813" stop-color="#f40000"/><stop offset=".819" stop-color="#eb0000"/><stop offset=".826" stop-color="#dd0000"/><stop offset=".832" stop-color="#ca0000"/><stop offset=".839" stop-color="#b60000"/><stop offset=".845" stop-color="#a00000"/><stop offset=".852" stop-color="#8a0000"/><stop offset=".858" stop-color="#750000"/><stop offset=".865" stop-color="#620000"/><stop offset=".871" stop-color="#500000"/><stop offset=".877" stop-color="#410000"/><stop offset=".884" stop-color="#340000"/><stop offset=".89" stop-color="#290000"/><stop offset=".897" stop-color="#1f0000"/><stop offset=".903" stop-color="#180000"/><stop offset=".91" stop-color="#120000"/><stop offset=".916" stop-color="#0d0000"/><stop offset=".923" stop-color="#0a0000"/><stop offset=".929" stop-color="#070000"/><stop offset=".935" stop-color="#050000"/><stop offset=".942" stop-color="#040000"/><stop offset=".948" stop-color="#030000"/><stop offset=".955" stop-color="#020000"/><stop offset=".961" stop-color="#010000"/><stop offset=".968" stop-color="#010000"/><stop offset=".974" stop-color="#010000"/><stop offset=".981" stop-color="#000000"/><stop offset=".987" stop-color="#000000"/><stop offset=".994" stop-color="#000000"/><stop offset="1" stop-color="#000000"/></linearGradient><linearGradient id="gx9_0"><stop offset="0" stop-color="#000000"/><stop offset=".034" stop-color="#000000"/><stop offset=".069" stop-color="#000000"/><stop offset=".103" stop-color="#000000"/><stop offset=".138" stop-color="#000000"/><stop offset=".172" stop-color="#000100"/><stop offset=".207" stop-color="#000300"/><stop offset=".241" stop-color="#000900"/><stop offset=".276" stop-color="#001700"/><stop offset=".31" stop-color="#003200"/><stop offset=".345" stop-color="#005c00"/><stop offset=".379" stop-color="#009200"/><stop offset=".414" stop-color="#00c600"/><stop offset=".448" stop-color="#00ed00"/><stop offset=".483" stop-color="#00fe00"/><stop offset=".517" stop-color="#00fc00"/><stop offset=".552" stop-color="#00e700"/><stop offset=".586" stop-color="#00bc00"/><stop offset=".621" stop-color="#008600"/><stop offset=".655" stop-color="#005200"/><stop offset=".69" stop-color="#002b00"/><stop offset=".724" stop-color="#001300"/><stop offset=".759" stop-color="#000700"/><stop offset=".793" stop-color="#000200"/><stop offset=".828" stop-color="#000100"/><stop offset=".862" stop-color="#000000"/><stop offset=".897" stop-color="#000000"/><stop offset=".931" stop-color="#000000"/><stop offset=".966" stop-color="#000000"/><stop offset="1" stop-color="#000000"/></linearGradient><linearGradient id="gx9_1"><stop offset="0" stop-color="#000000"/><stop offset=".034" stop-color="#000000"/><stop offset=".069" stop-color="#000000"/><stop offset=".103" stop-color="#000000"/><stop offset=".138" stop-color="#000000"/><stop offset=".172" stop-color="#000000"/><stop offset=".207" stop-color="#000000"/><stop offset=".241" stop-color="#000200"/><stop offset=".276" stop-color="#000700"/><stop offset=".31" stop-color="#001900"/><stop offset=".345" stop-color="#003f00"/><stop offset=".379" stop-color="#007a00"/><stop offset=".414" stop-color="#00bc00"/><stop offset=".448" stop-color="#00ec00"/><stop offset=".483" stop-color="#00fe00"/><stop offset=".517" stop-color="#00fd00"/><stop offset=".552" stop-color="#00e400"/><stop offset=".586" stop-color="#00af00"/><stop offset=".621" stop-color="#006d00"/><stop offset=".655" stop-color="#003500"/><stop offset=".69" stop-color="#001400"/><stop offset=".724" stop-color="#000500"/><stop offset=".759" stop-color="#000100"/><stop offset=".793" stop-color="#000000"/><stop offset=".828" stop-color="#000000"/><stop offset=".862" stop-color="#000000"/><stop offset=".897" stop-color="#000000"/><stop offset=".931" stop-color="#000000"/><stop offset=".966" stop-color="#000000"/><stop offset="1" stop-color="#000000"/></linearGradient><filter id="h9" x="0" y="0" width="1" height="1" color-interpolation-filters="sRGB"><feColorMatrix in="SourceGraphic" type="matrix" values="1 0 0 0 0 1 0 0 0 0 1 0 0 0 0 0 0 0 0 1" result="a"/><feColorMatrix in="SourceGraphic" type="matrix" values="0 1 0 0 0 0 1 0 0 0 0 1 0 0 0 0 0 0 0 1" result="b"/><feComposite in="a" in2="b" operator="arithmetic" k1="1" k2="0" k3="0" k4="0"/><feComponentTransfer><feFuncR type="table" tableValues="0.149 0.24 0.307 0.367 0.423 0.477 0.528 0.578 0.626 0.673 0.719 0.765 0.809 0.853 0.896 0.938 0.98 1 1 1 1 1 1 1 1 1 1 1 1 1 1 1 1 1 1 1 1 1 1 1 1 1 1 1 1 1 1 1 1 1 1 1 1 1 1 1 1 1 1 1 1 1 1 1 1"/><feFuncG type="table" tableValues="0 0 0 0 0 0 0 0 0 0 0 0 0 0 0 0 0 0.021 0.062 0.102 0.142 0.182 0.221 0.259 0.298 0.336 0.374 0.411 0.449 0.486 0.522 0.559 0.595 0.631 0.667 0.703 0.738 0.773 0.808 0.843 0.878 0.912 0.947 0.981 1 1 1 1 1 1 1 1 1 1 1 1 1 1 1 1 1 1 1 1 1"/><feFuncB type="table" tableValues="0 0 0 0 0 0 0 0 0 0 0 0 0 0 0 0 0 0 0 0 0 0 0 0 0 0 0 0 0 0 0 0 0 0 0 0 0 0 0 0 0 0 0 0 0.022 0.073 0.123 0.174 0.224 0.274 0.323 0.373 0.422 0.471 0.52 0.569 0.617 0.666 0.714 0.762 0.81 0.858 0.905 0.953 1"/></feComponentTransfer></filter></defs><rect width="548" height="550" fill="#fff"/><g filter="url(#h1)"><rect x="7" y="6" width="83" height="80" fill="url(#gy1)"/><rect x="7" y="6" width="83" height="80" fill="url(#gx1_0)" style="mix-blend-mode:screen"/><rect x="7" y="86" width="83" height="74.4" fill="url(#gy1)"/><rect x="7" y="86" width="83" height="74.4" fill="url(#gx1_0)" style="mix-blend-mode:screen"/></g>
<text x="38" y="21" fill="#fff" font-family="Liberation Serif, Times New Roman, serif" font-size="12">HG<tspan font-size="7.3" dy="3.2" dx="-0.3">01</tspan></text>
<line x1="99.2" y1="6" x2="99.2" y2="160.4" stroke="#8a8a8a" stroke-width="0.7" stroke-dasharray="2 1.8"/>
<line x1="129.75" y1="6" x2="129.75" y2="160.4" stroke="#8a8a8a" stroke-width="0.7" stroke-dasharray="2 1.8"/>
<line x1="160.3" y1="6" x2="160.3" y2="160.4" stroke="#8a8a8a" stroke-width="0.7" stroke-dasharray="2 1.8"/>
<polyline points="99.2,6 99.2,6.5 99.2,6.9 99.2,7.4 99.2,7.9 99.2,8.3 99.2,8.8 99.2,9.3 99.2,9.8 99.2,10.2 99.2,10.7 99.2,11.2 99.2,11.6 99.2,12.1 99.2,12.6 99.2,13 99.2,13.5 99.2,14 99.2,14.4 99.2,14.9 99.2,15.4 99.2,15.9 99.2,16.3 99.2,16.8 99.2,17.3 99.2,17.7 99.2,18.2 99.2,18.7 99.2,19.1 99.2,19.6 99.2,20.1 99.2,20.5 99.2,21 99.2,21.5 99.2,22 99.2,22.4 99.2,22.9 99.2,23.4 99.2,23.8 99.2,24.3 99.2,24.8 99.2,25.2 99.2,25.7 99.2,26.2 99.2,26.6 99.2,27.1 99.2,27.6 99.2,28.1 99.2,28.5 99.2,29 99.2,29.5 99.2,29.9 99.2,30.4 99.2,30.9 99.2,31.3 99.2,31.8 99.2,32.3 99.2,32.8 99.2,33.2 99.2,33.7 99.2,34.2 99.3,34.6 99.3,35.1 99.3,35.6 99.3,36 99.3,36.5 99.3,37 99.3,37.4 99.4,37.9 99.4,38.4 99.4,38.9 99.5,39.3 99.5,39.8 99.6,40.3 99.6,40.7 99.7,41.2 99.8,41.7 99.8,42.1 99.9,42.6 100.1,43.1 100.2,43.5 100.3,44 100.5,44.5 100.7,45 100.9,45.4 101.1,45.9 101.3,46.4 101.6,46.8 101.9,47.3 102.3,47.8 102.7,48.2 103.1,48.7 103.5,49.2 104,49.6 104.6,50.1 105.2,50.6 105.9,51.1 106.6,51.5 107.3,52 108.2,52.5 109.1,52.9 110,53.4 111.1,53.9 112.2,54.3 113.3,54.8 114.6,55.3 115.9,55.7 117.3,56.2 118.7,56.7 120.3,57.2 121.8,57.6 123.5,58.1 125.2,58.6 127,59 128.8,59.5 130.7,60 132.6,60.4 134.5,60.9 136.4,61.4 138.4,61.8 140.3,62.3 142.2,62.8 144.2,63.3 146,63.7 147.8,64.2 149.6,64.7 151.2,65.1 152.8,65.6 154.3,66.1 155.6,66.5 156.8,67 157.8,67.5 158.7,67.9 159.4,68.4 159.9,68.9 160.2,69.4 160.3,69.8 160.2,70.3 159.8,70.8 159.3,71.2 158.5,71.7 157.5,72.2 156.2,72.6 154.8,73.1 153.1,73.6 151.2,74 149.2,74.5 146.9,75 144.5,75.5 142,75.9 139.3,76.4 136.6,76.9 133.8,77.3 130.9,77.8 128,78.3 125.1,78.7 122.3,79.2 119.5,79.7 116.7,80.1 114.1,80.6 111.7,81.1 109.4,81.6 107.3,82 105.4,82.5 103.7,83 102.3,83.4 101.1,83.9 100.2,84.4 99.6,84.8 99.3,85.3 99.2,85.8 99.5,86.3 100,86.7 100.9,87.2 102,87.7 103.3,88.1 105,88.6 106.8,89.1 108.9,89.5 111.1,90 113.6,90.5 116.1,90.9 118.8,91.4 121.6,91.9 124.5,92.4 127.3,92.8 130.2,93.3 133.1,93.8 136,94.2 138.7,94.7 141.4,95.2 144,95.6 146.4,96.1 148.7,96.6 150.8,97 152.7,97.5 154.4,98 155.9,98.5 157.2,98.9 158.3,99.4 159.1,99.9 159.7,100.3 160.1,100.8 160.3,101.3 160.2,101.7 160,102.2 159.5,102.7 158.9,103.1 158,103.6 157,104.1 155.9,104.6 154.6,105 153.2,105.5 151.6,106 150,106.4 148.2,106.9 146.4,107.4 144.6,107.8 142.7,108.3 140.8,108.8 138.8,109.2 136.9,109.7 134.9,110.2 133,110.7 131.1,111.1 129.2,111.6 127.4,112.1 125.6,112.5 123.9,113 122.2,113.5 120.6,113.9 119.1,114.4 117.6,114.9 116.2,115.3 114.9,115.8 113.6,116.3 112.4,116.8 111.3,117.2 110.3,117.7 109.3,118.2 108.4,118.6 107.5,119.1 106.7,119.6 106,120 105.3,120.5 104.7,121 104.2,121.4 103.7,121.9 103.2,122.4 102.8,122.9 102.4,123.3 102,123.8 101.7,124.3 101.4,124.7 101.1,125.2 100.9,125.7 100.7,126.1 100.5,126.6 100.4,127.1 100.2,127.5 100.1,128 100,128.5 99.9,129 99.8,129.4 99.7,129.9 99.6,130.4 99.6,130.8 99.5,131.3 99.5,131.8 99.4,132.2 99.4,132.7 99.4,133.2 99.3,133.6 99.3,134.1 99.3,134.6 99.3,135.1 99.3,135.5 99.3,136 99.3,136.5 99.2,136.9 99.2,137.4 99.2,137.9 99.2,138.3 99.2,138.8 99.2,139.3 99.2,139.8 99.2,140.2 99.2,140.7 99.2,141.2 99.2,141.6 99.2,142.1 99.2,142.6 99.2,143 99.2,143.5 99.2,144 99.2,144.4 99.2,144.9 99.2,145.4 99.2,145.9 99.2,146.3 99.2,146.8 99.2,147.3 99.2,147.7 99.2,148.2 99.2,148.7 99.2,149.1 99.2,149.6 99.2,150.1 99.2,150.5 99.2,151 99.2,151.5 99.2,152 99.2,152.4 99.2,152.9 99.2,153.4 99.2,153.8 99.2,154.3 99.2,154.8 99.2,155.2 99.2,155.7 99.2,156.2 99.2,156.6 99.2,157.1 99.2,157.6 99.2,158.1 99.2,158.5 99.2,159 99.2,159.5 99.2,159.9 99.2,160.4" fill="none" stroke="#1f1fff" stroke-width="1.5" stroke-linejoin="round"/>
<polyline points="99.2,6 99.2,6.5 99.2,6.9 99.2,7.4 99.2,7.9 99.2,8.3 99.2,8.8 99.2,9.3 99.2,9.8 99.2,10.2 99.2,10.7 99.2,11.2 99.2,11.6 99.2,12.1 99.2,12.6 99.2,13 99.2,13.5 99.2,14 99.2,14.4 99.2,14.9 99.2,15.4 99.2,15.9 99.2,16.3 99.2,16.8 99.2,17.3 99.2,17.7 99.2,18.2 99.2,18.7 99.2,19.1 99.2,19.6 99.2,20.1 99.2,20.5 99.2,21 99.2,21.5 99.2,22 99.2,22.4 99.2,22.9 99.2,23.4 99.2,23.8 99.2,24.3 99.2,24.8 99.2,25.2 99.2,25.7 99.2,26.2 99.2,26.6 99.2,27.1 99.2,27.6 99.2,28.1 99.2,28.5 99.2,29 99.2,29.5 99.2,29.9 99.2,30.4 99.2,30.9 99.2,31.3 99.2,31.8 99.2,32.3 99.2,32.8 99.2,33.2 99.2,33.7 99.2,34.2 99.2,34.6 99.2,35.1 99.2,35.6 99.2,36 99.2,36.5 99.2,37 99.3,37.4 99.3,37.9 99.3,38.4 99.3,38.9 99.3,39.3 99.3,39.8 99.4,40.3 99.4,40.7 99.4,41.2 99.5,41.7 99.5,42.1 99.6,42.6 99.7,43.1 99.7,43.5 99.8,44 99.9,44.5 100.1,45 100.2,45.4 100.4,45.9 100.5,46.4 100.7,46.8 101,47.3 101.2,47.8 101.5,48.2 101.8,48.7 102.2,49.2 102.6,49.6 103,50.1 103.5,50.6 104,51.1 104.6,51.5 105.3,52 106,52.5 106.8,52.9 107.6,53.4 108.6,53.9 109.6,54.3 110.6,54.8 111.8,55.3 113,55.7 114.4,56.2 115.8,56.7 117.2,57.2 118.8,57.6 120.4,58.1 122.2,58.6 124,59 125.8,59.5 127.7,60 129.7,60.4 131.7,60.9 133.8,61.4 135.9,61.8 138,62.3 140.1,62.8 142.2,63.3 144.2,63.7 146.2,64.2 148.1,64.7 150,65.1 151.8,65.6 153.4,66.1 154.9,66.5 156.3,67 157.5,67.5 158.5,67.9 159.3,68.4 159.8,68.9 160.2,69.4 160.3,69.8 160.2,70.3 159.8,70.8 159.3,71.2 158.5,71.7 157.5,72.2 156.2,72.6 154.8,73.1 153.1,73.6 151.2,74 149.2,74.5 146.9,75 144.5,75.5 142,75.9 139.3,76.4 136.6,76.9 133.8,77.3 130.9,77.8 128,78.3 125.1,78.7 122.3,79.2 119.5,79.7 116.7,80.1 114.1,80.6 111.7,81.1 109.4,81.6 107.3,82 105.4,82.5 103.7,83 102.3,83.4 101.1,83.9 100.2,84.4 99.6,84.8 99.3,85.3 99.2,85.8 99.5,86.3 100,86.7 100.8,87.2 101.9,87.7 103.3,88.1 104.9,88.6 106.7,89.1 108.7,89.5 111,90 113.4,90.5 115.9,90.9 118.5,91.4 121.3,91.9 124.1,92.4 126.9,92.8 129.8,93.3 132.6,93.8 135.4,94.2 138.1,94.7 140.8,95.2 143.3,95.6 145.7,96.1 147.9,96.6 150,97 151.9,97.5 153.6,98 155.1,98.5 156.3,98.9 157.4,99.4 158.2,99.9 158.8,100.3 159.2,100.8 159.4,101.3 159.3,101.7 159,102.2 158.5,102.7 157.8,103.1 156.8,103.6 155.7,104.1 154.4,104.6 152.9,105 151.4,105.5 149.6,106 147.8,106.4 145.9,106.9 144,107.4 142,107.8 139.9,108.3 137.9,108.8 135.8,109.2 133.7,109.7 131.7,110.2 129.7,110.7 127.8,111.1 125.8,111.6 124,112.1 122.2,112.5 120.5,113 118.9,113.5 117.3,113.9 115.8,114.4 114.4,114.9 113.1,115.3 111.9,115.8 110.7,116.3 109.6,116.8 108.6,117.2 107.7,117.7 106.9,118.2 106.1,118.6 105.4,119.1 104.7,119.6 104.1,120 103.6,120.5 103.1,121 102.6,121.4 102.2,121.9 101.9,122.4 101.5,122.9 101.2,123.3 101,123.8 100.8,124.3 100.6,124.7 100.4,125.2 100.2,125.7 100.1,126.1 100,126.6 99.9,127.1 99.8,127.5 99.7,128 99.6,128.5 99.5,129 99.5,129.4 99.5,129.9 99.4,130.4 99.4,130.8 99.4,131.3 99.3,131.8 99.3,132.2 99.3,132.7 99.3,133.2 99.3,133.6 99.3,134.1 99.2,134.6 99.2,135.1 99.2,135.5 99.2,136 99.2,136.5 99.2,136.9 99.2,137.4 99.2,137.9 99.2,138.3 99.2,138.8 99.2,139.3 99.2,139.8 99.2,140.2 99.2,140.7 99.2,141.2 99.2,141.6 99.2,142.1 99.2,142.6 99.2,143 99.2,143.5 99.2,144 99.2,144.4 99.2,144.9 99.2,145.4 99.2,145.9 99.2,146.3 99.2,146.8 99.2,147.3 99.2,147.7 99.2,148.2 99.2,148.7 99.2,149.1 99.2,149.6 99.2,150.1 99.2,150.5 99.2,151 99.2,151.5 99.2,152 99.2,152.4 99.2,152.9 99.2,153.4 99.2,153.8 99.2,154.3 99.2,154.8 99.2,155.2 99.2,155.7 99.2,156.2 99.2,156.6 99.2,157.1 99.2,157.6 99.2,158.1 99.2,158.5 99.2,159 99.2,159.5 99.2,159.9 99.2,160.4" fill="none" stroke="#ff1f1f" stroke-width="1.5" stroke-dasharray="3.7 3"/>
<path d="M96 7H166.2V160.7H96" fill="none" stroke="#000" stroke-width="1.55"/>
<line x1="118.2" y1="16" x2="136" y2="16" stroke="#ff1f1f" stroke-width="1.6" stroke-dasharray="4.4 2.5"/>
<line x1="118.8" y1="28" x2="136" y2="28" stroke="#1f1fff" stroke-width="1.6"/>
<text x="140.1" y="18.7" font-family="Liberation Serif, Times New Roman, serif" font-size="8.8" font-weight="bold" stroke="#000" stroke-width="0.15">Exp.</text>
<text x="140.1" y="30.4" font-family="Liberation Serif, Times New Roman, serif" font-size="8.8" font-weight="bold" stroke="#000" stroke-width="0.15">Cal.</text>
<text y="151" font-family="Liberation Serif, Times New Roman, serif" font-size="9.4" stroke="#000" stroke-width="0.35"><tspan x="117.2" font-style="italic" font-size="10.4">ρ</tspan><tspan x="124.4">=</tspan><tspan x="131.6">0.998</tspan></text>
<text x="99.2" y="170" font-family="Liberation Serif, Times New Roman, serif" font-size="8.8" font-weight="bold" text-anchor="middle" stroke="#000" stroke-width="0.15">0.0</text>
<text x="129.75" y="170" font-family="Liberation Serif, Times New Roman, serif" font-size="8.8" font-weight="bold" text-anchor="middle" stroke="#000" stroke-width="0.15">0.5</text>
<text x="160.3" y="170" font-family="Liberation Serif, Times New Roman, serif" font-size="8.8" font-weight="bold" text-anchor="middle" stroke="#000" stroke-width="0.15">1.0</text>
<g filter="url(#h2)"><rect x="194" y="6" width="83" height="65" fill="url(#gy2)"/><rect x="194" y="6" width="83" height="65" fill="url(#gx2_0)" style="mix-blend-mode:screen"/><rect x="194" y="71" width="83" height="25" fill="url(#gy2)"/><rect x="194" y="71" width="83" height="25" fill="url(#gx2_0)" style="mix-blend-mode:screen"/><rect x="194" y="96" width="83" height="64.4" fill="url(#gy2)"/><rect x="194" y="96" width="83" height="64.4" fill="url(#gx2_0)" style="mix-blend-mode:screen"/></g>
<text x="225" y="21" fill="#fff" font-family="Liberation Serif, Times New Roman, serif" font-size="12">HG<tspan font-size="7.3" dy="3.2" dx="-0.3">02</tspan></text>
<line x1="286.1" y1="6" x2="286.1" y2="160.4" stroke="#8a8a8a" stroke-width="0.7" stroke-dasharray="2 1.8"/>
<line x1="316.65" y1="6" x2="316.65" y2="160.4" stroke="#8a8a8a" stroke-width="0.7" stroke-dasharray="2 1.8"/>
<line x1="347.2" y1="6" x2="347.2" y2="160.4" stroke="#8a8a8a" stroke-width="0.7" stroke-dasharray="2 1.8"/>
<polyline points="286.1,11 286.1,11.4 286.1,11.9 286.1,12.3 286.1,12.8 286.1,13.2 286.1,13.7 286.1,14.1 286.1,14.6 286.1,15 286.1,15.5 286.1,15.9 286.1,16.4 286.1,16.8 286.1,17.3 286.1,17.7 286.1,18.1 286.1,18.6 286.1,19 286.1,19.5 286.1,19.9 286.1,20.4 286.2,20.8 286.2,21.3 286.2,21.7 286.2,22.2 286.2,22.6 286.2,23.1 286.2,23.5 286.3,23.9 286.3,24.4 286.3,24.8 286.3,25.3 286.4,25.7 286.4,26.2 286.5,26.6 286.5,27.1 286.6,27.5 286.7,28 286.7,28.4 286.8,28.9 286.9,29.3 287,29.8 287.2,30.2 287.3,30.6 287.5,31.1 287.7,31.5 287.8,32 288.1,32.4 288.3,32.9 288.6,33.3 288.9,33.8 289.2,34.2 289.5,34.7 289.9,35.1 290.3,35.6 290.8,36 291.3,36.5 291.9,36.9 292.5,37.3 293.1,37.8 293.8,38.2 294.5,38.7 295.3,39.1 296.2,39.6 297.1,40 298.1,40.5 299.1,40.9 300.2,41.4 301.4,41.8 302.6,42.3 303.9,42.7 305.3,43.1 306.7,43.6 308.2,44 309.7,44.5 311.3,44.9 313,45.4 314.7,45.8 316.4,46.3 318.2,46.7 320,47.2 321.8,47.6 323.7,48.1 325.5,48.5 327.4,49 329.3,49.4 331.1,49.8 332.9,50.3 334.6,50.7 336.3,51.2 337.9,51.6 339.4,52.1 340.8,52.5 342.2,53 343.4,53.4 344.4,53.9 345.3,54.3 346,54.8 346.6,55.2 347,55.7 347.2,56.1 347.2,56.5 346.9,57 346.5,57.4 345.9,57.9 345,58.3 343.9,58.8 342.6,59.2 341.1,59.7 339.4,60.1 337.5,60.6 335.4,61 333.2,61.5 330.8,61.9 328.2,62.3 325.6,62.8 322.8,63.2 320,63.7 317.1,64.1 314.2,64.6 311.3,65 308.5,65.5 305.7,65.9 303,66.4 300.4,66.8 298,67.3 295.7,67.7 293.6,68.2 291.8,68.6 290.1,69 288.8,69.5 287.7,69.9 286.9,70.4 286.3,70.8 286.1,71.3 286.2,71.7 286.6,72.2 287.2,72.6 288.2,73.1 289.4,73.5 290.9,74 292.7,74.4 294.6,74.9 296.8,75.3 299.1,75.7 301.5,76.2 304.1,76.6 306.7,77.1 309.4,77.5 312.1,78 314.7,78.4 317.3,78.9 319.7,79.3 322.1,79.8 324.2,80.2 326.2,80.7 327.9,81.1 329.4,81.5 330.6,82 331.6,82.4 332.2,82.9 332.6,83.3 332.6,83.8 332.3,84.2 331.7,84.7 330.8,85.1 329.7,85.6 328.2,86 326.5,86.5 324.6,86.9 322.5,87.4 320.2,87.8 317.8,88.2 315.2,88.7 312.6,89.1 309.9,89.6 307.2,90 304.6,90.5 302,90.9 299.6,91.4 297.2,91.8 295,92.3 293,92.7 291.2,93.2 289.7,93.6 288.4,94 287.4,94.5 286.7,94.9 286.2,95.4 286.1,95.8 286.3,96.3 286.7,96.7 287.5,97.2 288.5,97.6 289.9,98.1 291.4,98.5 293.3,99 295.3,99.4 297.5,99.9 299.9,100.3 302.5,100.7 305.2,101.2 307.9,101.6 310.8,102.1 313.7,102.5 316.6,103 319.4,103.4 322.3,103.9 325,104.3 327.7,104.8 330.3,105.2 332.7,105.7 335,106.1 337.1,106.6 339.1,107 340.8,107.4 342.3,107.9 343.7,108.3 344.8,108.8 345.7,109.2 346.4,109.7 346.9,110.1 347.1,110.6 347.2,111 347,111.5 346.7,111.9 346.2,112.4 345.5,112.8 344.6,113.2 343.6,113.7 342.4,114.1 341.1,114.6 339.7,115 338.2,115.5 336.6,115.9 334.9,116.4 333.2,116.8 331.4,117.3 329.6,117.7 327.8,118.2 325.9,118.6 324,119.1 322.2,119.5 320.4,119.9 318.5,120.4 316.7,120.8 315,121.3 313.3,121.7 311.6,122.2 310,122.6 308.5,123.1 307,123.5 305.5,124 304.2,124.4 302.9,124.9 301.6,125.3 300.4,125.8 299.3,126.2 298.3,126.6 297.3,127.1 296.4,127.5 295.5,128 294.7,128.4 293.9,128.9 293.2,129.3 292.6,129.8 292,130.2 291.4,130.7 290.9,131.1 290.4,131.6 290,132 289.6,132.4 289.2,132.9 288.9,133.3 288.6,133.8 288.4,134.2 288.1,134.7 287.9,135.1 287.7,135.6 287.5,136 287.3,136.5 287.2,136.9 287.1,137.4 287,137.8 286.9,138.3 286.8,138.7 286.7,139.1 286.6,139.6 286.5,140 286.5,140.5 286.4,140.9 286.4,141.4 286.4,141.8 286.3,142.3 286.3,142.7 286.3,143.2 286.2,143.6 286.2,144.1 286.2,144.5 286.2,145 286.2,145.4 286.2,145.8 286.2,146.3 286.1,146.7 286.1,147.2 286.1,147.6 286.1,148.1 286.1,148.5 286.1,149 286.1,149.4 286.1,149.9 286.1,150.3 286.1,150.8 286.1,151.2 286.1,151.6 286.1,152.1 286.1,152.5 286.1,153 286.1,153.4 286.1,153.9 286.1,154.3 286.1,154.8 286.1,155.2 286.1,155.7 286.1,156.1 286.1,156.6 286.1,157 286.1,157.5 286.1,157.9" fill="none" stroke="#1f1fff" stroke-width="1.5" stroke-linejoin="round"/>
<polyline points="286.1,11 286.1,11.4 286.1,11.9 286.1,12.3 286.1,12.8 286.1,13.2 286.1,13.7 286.1,14.1 286.1,14.6 286.1,15 286.1,15.5 286.1,15.9 286.1,16.4 286.1,16.8 286.1,17.3 286.1,17.7 286.1,18.1 286.1,18.6 286.1,19 286.1,19.5 286.1,19.9 286.1,20.4 286.1,20.8 286.1,21.3 286.1,21.7 286.1,22.2 286.2,22.6 286.2,23.1 286.2,23.5 286.2,23.9 286.2,24.4 286.2,24.8 286.2,25.3 286.3,25.7 286.3,26.2 286.3,26.6 286.4,27.1 286.4,27.5 286.5,28 286.5,28.4 286.6,28.9 286.7,29.3 286.7,29.8 286.8,30.2 286.9,30.6 287.1,31.1 287.2,31.5 287.3,32 287.5,32.4 287.7,32.9 287.9,33.3 288.1,33.8 288.4,34.2 288.7,34.7 289,35.1 289.4,35.6 289.8,36 290.2,36.5 290.7,36.9 291.2,37.3 291.8,37.8 292.4,38.2 293,38.7 293.8,39.1 294.6,39.6 295.4,40 296.3,40.5 297.3,40.9 298.3,41.4 299.4,41.8 300.6,42.3 301.9,42.7 303.2,43.1 304.6,43.6 306.1,44 307.6,44.5 309.2,44.9 310.8,45.4 312.6,45.8 314.4,46.3 316.2,46.7 318.1,47.2 320,47.6 321.9,48.1 323.8,48.5 325.8,49 327.8,49.4 329.7,49.8 331.6,50.3 333.5,50.7 335.3,51.2 337,51.6 338.7,52.1 340.2,52.5 341.7,53 343,53.4 344.1,53.9 345.1,54.3 345.9,54.8 346.5,55.2 347,55.7 347.2,56.1 347.2,56.5 346.9,57 346.5,57.4 345.9,57.9 345,58.3 343.9,58.8 342.6,59.2 341.1,59.7 339.4,60.1 337.5,60.6 335.4,61 333.2,61.5 330.8,61.9 328.2,62.3 325.6,62.8 322.8,63.2 320,63.7 317.1,64.1 314.2,64.6 311.3,65 308.5,65.5 305.7,65.9 303,66.4 300.4,66.8 298,67.3 295.7,67.7 293.6,68.2 291.8,68.6 290.1,69 288.8,69.5 287.7,69.9 286.9,70.4 286.3,70.8 286.1,71.3 286.2,71.7 286.5,72.2 287.2,72.6 288.1,73.1 289.3,73.5 290.8,74 292.5,74.4 294.4,74.9 296.5,75.3 298.7,75.7 301.1,76.2 303.6,76.6 306.2,77.1 308.7,77.5 311.3,78 313.9,78.4 316.4,78.9 318.8,79.3 321.1,79.8 323.2,80.2 325.1,80.7 326.7,81.1 328.2,81.5 329.4,82 330.3,82.4 330.9,82.9 331.3,83.3 331.3,83.8 331,84.2 330.4,84.7 329.6,85.1 328.4,85.6 327,86 325.4,86.5 323.5,86.9 321.5,87.4 319.2,87.8 316.9,88.2 314.4,88.7 311.8,89.1 309.2,89.6 306.7,90 304.1,90.5 301.6,90.9 299.2,91.4 296.9,91.8 294.8,92.3 292.8,92.7 291.1,93.2 289.6,93.6 288.3,94 287.4,94.5 286.7,94.9 286.2,95.4 286.1,95.8 286.3,96.3 286.7,96.7 287.5,97.2 288.5,97.6 289.8,98.1 291.3,98.5 293.1,99 295.1,99.4 297.3,99.9 299.7,100.3 302.2,100.7 304.8,101.2 307.5,101.6 310.3,102.1 313.1,102.5 315.9,103 318.8,103.4 321.5,103.9 324.3,104.3 326.9,104.8 329.4,105.2 331.8,105.7 334,106.1 336.1,106.6 338,107 339.7,107.4 341.2,107.9 342.5,108.3 343.6,108.8 344.5,109.2 345.2,109.7 345.7,110.1 345.9,110.6 346,111 345.8,111.5 345.5,111.9 344.9,112.4 344.2,112.8 343.3,113.2 342.2,113.7 341,114.1 339.7,114.6 338.2,115 336.7,115.5 335,115.9 333.3,116.4 331.6,116.8 329.7,117.3 327.9,117.7 326,118.2 324.1,118.6 322.3,119.1 320.4,119.5 318.5,119.9 316.7,120.4 314.9,120.8 313.2,121.3 311.5,121.7 309.9,122.2 308.3,122.6 306.8,123.1 305.3,123.5 303.9,124 302.6,124.4 301.3,124.9 300.2,125.3 299,125.8 298,126.2 297,126.6 296,127.1 295.2,127.5 294.4,128 293.6,128.4 292.9,128.9 292.3,129.3 291.7,129.8 291.1,130.2 290.6,130.7 290.2,131.1 289.8,131.6 289.4,132 289,132.4 288.7,132.9 288.4,133.3 288.2,133.8 287.9,134.2 287.7,134.7 287.5,135.1 287.4,135.6 287.2,136 287.1,136.5 287,136.9 286.9,137.4 286.8,137.8 286.7,138.3 286.6,138.7 286.5,139.1 286.5,139.6 286.4,140 286.4,140.5 286.3,140.9 286.3,141.4 286.3,141.8 286.3,142.3 286.2,142.7 286.2,143.2 286.2,143.6 286.2,144.1 286.2,144.5 286.2,145 286.2,145.4 286.1,145.8 286.1,146.3 286.1,146.7 286.1,147.2 286.1,147.6 286.1,148.1 286.1,148.5 286.1,149 286.1,149.4 286.1,149.9 286.1,150.3 286.1,150.8 286.1,151.2 286.1,151.6 286.1,152.1 286.1,152.5 286.1,153 286.1,153.4 286.1,153.9 286.1,154.3 286.1,154.8 286.1,155.2 286.1,155.7 286.1,156.1 286.1,156.6 286.1,157 286.1,157.5 286.1,157.9" fill="none" stroke="#ff1f1f" stroke-width="1.5" stroke-dasharray="3.7 3"/>
<path d="M282.2 7H352.4V160.7H282.2" fill="none" stroke="#000" stroke-width="1.55"/>
<line x1="305.1" y1="16" x2="322.9" y2="16" stroke="#ff1f1f" stroke-width="1.6" stroke-dasharray="4.4 2.5"/>
<line x1="305.7" y1="28" x2="322.9" y2="28" stroke="#1f1fff" stroke-width="1.6"/>
<text x="327" y="18.7" font-family="Liberation Serif, Times New Roman, serif" font-size="8.8" font-weight="bold" stroke="#000" stroke-width="0.15">Exp.</text>
<text x="327" y="30.4" font-family="Liberation Serif, Times New Roman, serif" font-size="8.8" font-weight="bold" stroke="#000" stroke-width="0.15">Cal.</text>
<text y="151" font-family="Liberation Serif, Times New Roman, serif" font-size="9.4" stroke="#000" stroke-width="0.35"><tspan x="303.4" font-style="italic" font-size="10.4">ρ</tspan><tspan x="310.6">=</tspan><tspan x="317.8">0.996</tspan></text>
<text x="286.1" y="170" font-family="Liberation Serif, Times New Roman, serif" font-size="8.8" font-weight="bold" text-anchor="middle" stroke="#000" stroke-width="0.15">0.0</text>
<text x="316.65" y="170" font-family="Liberation Serif, Times New Roman, serif" font-size="8.8" font-weight="bold" text-anchor="middle" stroke="#000" stroke-width="0.15">0.5</text>
<text x="347.2" y="170" font-family="Liberation Serif, Times New Roman, serif" font-size="8.8" font-weight="bold" text-anchor="middle" stroke="#000" stroke-width="0.15">1.0</text>
<g filter="url(#h3)"><rect x="381" y="6" width="83" height="61" fill="url(#gy3)"/><rect x="381" y="6" width="83" height="61" fill="url(#gx3_0)" style="mix-blend-mode:screen"/><rect x="381" y="67" width="83" height="18" fill="url(#gy3)"/><rect x="381" y="67" width="83" height="18" fill="url(#gx3_1)" style="mix-blend-mode:screen"/><rect x="381" y="85" width="83" height="18" fill="url(#gy3)"/><rect x="381" y="85" width="83" height="18" fill="url(#gx3_1)" style="mix-blend-mode:screen"/><rect x="381" y="103" width="83" height="57.4" fill="url(#gy3)"/><rect x="381" y="103" width="83" height="57.4" fill="url(#gx3_0)" style="mix-blend-mode:screen"/></g>
<text x="412" y="21" fill="#fff" font-family="Liberation Serif, Times New Roman, serif" font-size="12">HG<tspan font-size="7.3" dy="3.2" dx="-0.3">03</tspan></text>
<line x1="472.55" y1="6" x2="472.55" y2="160.4" stroke="#8a8a8a" stroke-width="0.7" stroke-dasharray="2 1.8"/>
<line x1="503.1" y1="6" x2="503.1" y2="160.4" stroke="#8a8a8a" stroke-width="0.7" stroke-dasharray="2 1.8"/>
<line x1="533.65" y1="6" x2="533.65" y2="160.4" stroke="#8a8a8a" stroke-width="0.7" stroke-dasharray="2 1.8"/>
<polyline points="472.6,6 472.6,6.5 472.6,6.9 472.6,7.4 472.6,7.9 472.6,8.3 472.6,8.8 472.6,9.3 472.6,9.7 472.6,10.2 472.6,10.7 472.6,11.1 472.6,11.6 472.6,12.1 472.6,12.5 472.6,13 472.6,13.5 472.6,13.9 472.6,14.4 472.6,14.9 472.6,15.3 472.6,15.8 472.6,16.3 472.6,16.7 472.6,17.2 472.6,17.7 472.6,18.1 472.6,18.6 472.6,19.1 472.6,19.5 472.6,20 472.6,20.5 472.6,20.9 472.6,21.4 472.6,21.9 472.6,22.3 472.6,22.8 472.6,23.3 472.6,23.7 472.6,24.2 472.6,24.7 472.6,25.1 472.6,25.6 472.6,26 472.6,26.5 472.6,27 472.6,27.4 472.7,27.9 472.7,28.4 472.7,28.8 472.8,29.3 472.8,29.8 472.8,30.2 472.9,30.7 473,31.2 473.1,31.6 473.1,32.1 473.3,32.6 473.4,33 473.5,33.5 473.7,34 473.9,34.4 474.1,34.9 474.4,35.4 474.6,35.8 475,36.3 475.3,36.8 475.8,37.2 476.2,37.7 476.8,38.2 477.4,38.6 478,39.1 478.8,39.6 479.6,40 480.5,40.5 481.4,41 482.5,41.4 483.7,41.9 485,42.4 486.3,42.8 487.8,43.3 489.4,43.8 491.1,44.2 492.9,44.7 494.8,45.2 496.8,45.6 498.9,46.1 501,46.6 503.3,47 505.6,47.5 507.9,48 510.3,48.4 512.7,48.9 515.1,49.4 517.5,49.8 519.8,50.3 522,50.8 524.1,51.2 526.1,51.7 527.9,52.2 529.5,52.6 530.9,53.1 532,53.6 532.9,54 533.4,54.5 533.6,55 533.5,55.4 533.1,55.9 532.2,56.4 531,56.8 529.5,57.3 527.5,57.8 525.3,58.2 522.7,58.7 519.8,59.2 516.6,59.6 513.2,60.1 509.6,60.6 505.9,61 502.2,61.5 498.4,62 494.6,62.4 491,62.9 487.5,63.4 484.3,63.8 481.3,64.3 478.8,64.7 476.6,65.2 474.8,65.7 473.6,66.1 472.8,66.6 472.6,67.1 472.8,67.5 473.6,68 474.9,68.5 476.7,68.9 478.9,69.4 481.5,69.9 484.4,70.3 487.6,70.8 490.9,71.3 494.3,71.7 497.7,72.2 501.1,72.7 504.3,73.1 507.2,73.6 509.8,74.1 512,74.5 513.8,75 515.1,75.5 515.8,75.9 515.9,76.4 515.5,76.9 514.6,77.3 513.1,77.8 511.1,78.3 508.6,78.7 505.8,79.2 502.7,79.7 499.3,80.1 495.8,80.6 492.2,81.1 488.7,81.5 485.3,82 482.2,82.5 479.4,82.9 477,83.4 475.1,83.9 473.7,84.3 472.8,84.8 472.6,85.3 472.9,85.7 473.8,86.2 475.2,86.7 477.2,87.1 479.6,87.6 482.4,88.1 485.6,88.5 488.9,89 492.4,89.5 496,89.9 499.5,90.4 502.9,90.9 506,91.3 508.8,91.8 511.2,92.3 513.2,92.7 514.7,93.2 515.6,93.7 516,94.1 515.8,94.6 515,95.1 513.7,95.5 511.9,96 509.7,96.5 507,96.9 504.1,97.4 500.9,97.9 497.5,98.3 494.1,98.8 490.7,99.3 487.4,99.7 484.2,100.2 481.3,100.7 478.8,101.1 476.6,101.6 474.8,102 473.6,102.5 472.8,103 472.6,103.4 472.8,103.9 473.6,104.4 474.9,104.8 476.7,105.3 478.9,105.8 481.5,106.2 484.5,106.7 487.7,107.2 491.2,107.6 494.9,108.1 498.6,108.6 502.4,109 506.2,109.5 509.9,110 513.4,110.4 516.8,110.9 520,111.4 522.8,111.8 525.4,112.3 527.7,112.8 529.6,113.2 531.1,113.7 532.3,114.2 533.1,114.6 533.6,115.1 533.6,115.6 533.4,116 532.8,116.5 531.9,117 530.8,117.4 529.4,117.9 527.8,118.4 525.9,118.8 524,119.3 521.8,119.8 519.6,120.2 517.3,120.7 514.9,121.2 512.6,121.6 510.2,122.1 507.8,122.6 505.4,123 503.1,123.5 500.9,124 498.7,124.4 496.6,124.9 494.7,125.4 492.8,125.8 491,126.3 489.3,126.8 487.7,127.2 486.2,127.7 484.9,128.2 483.6,128.6 482.4,129.1 481.4,129.6 480.4,130 479.5,130.5 478.7,131 478,131.4 477.3,131.9 476.7,132.4 476.2,132.8 475.7,133.3 475.3,133.8 475,134.2 474.6,134.7 474.3,135.2 474.1,135.6 473.9,136.1 473.7,136.6 473.5,137 473.4,137.5 473.2,138 473.1,138.4 473,138.9 473,139.4 472.9,139.8 472.8,140.3 472.8,140.7 472.8,141.2 472.7,141.7 472.7,142.1 472.7,142.6 472.6,143.1 472.6,143.5 472.6,144 472.6,144.5 472.6,144.9 472.6,145.4 472.6,145.9 472.6,146.3 472.6,146.8 472.6,147.3 472.6,147.7 472.6,148.2 472.6,148.7 472.6,149.1 472.6,149.6 472.6,150.1 472.6,150.5 472.6,151 472.6,151.5 472.6,151.9 472.6,152.4 472.6,152.9 472.6,153.3 472.6,153.8 472.6,154.3 472.6,154.7 472.6,155.2 472.6,155.7 472.6,156.1 472.6,156.6 472.6,157.1 472.6,157.5 472.6,158 472.6,158.5 472.6,158.9 472.6,159.4" fill="none" stroke="#1f1fff" stroke-width="1.5" stroke-linejoin="round"/>
<polyline points="472.6,6 472.6,6.5 472.6,6.9 472.6,7.4 472.6,7.9 472.6,8.3 472.6,8.8 472.6,9.3 472.6,9.7 472.6,10.2 472.6,10.7 472.6,11.1 472.6,11.6 472.6,12.1 472.6,12.5 472.6,13 472.6,13.5 472.6,13.9 472.6,14.4 472.6,14.9 472.6,15.3 472.6,15.8 472.6,16.3 472.6,16.7 472.6,17.2 472.6,17.7 472.6,18.1 472.6,18.6 472.6,19.1 472.6,19.5 472.6,20 472.6,20.5 472.6,20.9 472.6,21.4 472.6,21.9 472.6,22.3 472.6,22.8 472.6,23.3 472.6,23.7 472.6,24.2 472.6,24.7 472.6,25.1 472.6,25.6 472.6,26 472.6,26.5 472.6,27 472.6,27.4 472.6,27.9 472.6,28.4 472.7,28.8 472.7,29.3 472.7,29.8 472.8,30.2 472.8,30.7 472.8,31.2 472.9,31.6 473,32.1 473.1,32.6 473.2,33 473.3,33.5 473.4,34 473.6,34.4 473.7,34.9 473.9,35.4 474.2,35.8 474.5,36.3 474.8,36.8 475.1,37.2 475.5,37.7 476,38.2 476.5,38.6 477.1,39.1 477.8,39.6 478.5,40 479.3,40.5 480.2,41 481.2,41.4 482.3,41.9 483.5,42.4 484.8,42.8 486.3,43.3 487.8,43.8 489.4,44.2 491.2,44.7 493.1,45.2 495.1,45.6 497.2,46.1 499.4,46.6 501.7,47 504,47.5 506.4,48 508.9,48.4 511.4,48.9 513.9,49.4 516.4,49.8 518.8,50.3 521.1,50.8 523.4,51.2 525.5,51.7 527.4,52.2 529.1,52.6 530.6,53.1 531.9,53.6 532.8,54 533.4,54.5 533.6,55 533.5,55.4 533.1,55.9 532.2,56.4 531.1,56.8 529.5,57.3 527.6,57.8 525.4,58.2 522.9,58.7 520.1,59.2 517.1,59.6 513.8,60.1 510.4,60.6 506.9,61 503.3,61.5 499.8,62 496.3,62.4 492.9,62.9 489.7,63.4 486.8,63.8 484.2,64.3 481.9,64.7 480,65.2 478.5,65.7 477.4,66.1 476.9,66.6 476.8,67.1 477,67.5 477.6,68 478.6,68.5 479.9,68.9 481.7,69.4 483.7,69.9 486,70.3 488.5,70.8 491.2,71.3 494,71.7 496.7,72.2 499.5,72.7 502.1,73.1 504.5,73.6 506.6,74.1 508.4,74.5 509.9,75 510.9,75.5 511.5,75.9 511.6,76.4 511.3,76.9 510.5,77.3 509.3,77.8 507.6,78.3 505.5,78.7 503.1,79.2 500.5,79.7 497.6,80.1 494.6,80.6 491.6,81.1 488.6,81.5 485.7,82 483,82.5 480.6,82.9 478.5,83.4 476.7,83.9 475.5,84.3 474.7,84.8 474.4,85.3 474.7,85.7 475.5,86.2 476.8,86.7 478.6,87.1 480.7,87.6 483.1,88.1 485.9,88.5 488.8,89 491.8,89.5 494.8,89.9 497.8,90.4 500.6,90.9 503.3,91.3 505.7,91.8 507.7,92.3 509.3,92.7 510.6,93.2 511.3,93.7 511.6,94.1 511.5,94.6 510.9,95.1 509.8,95.5 508.3,96 506.5,96.5 504.3,96.9 501.9,97.4 499.3,97.9 496.6,98.3 493.8,98.8 491.1,99.3 488.4,99.7 485.9,100.2 483.6,100.7 481.6,101.1 479.8,101.6 478.5,102 477.5,102.5 477,103 476.8,103.4 476.9,103.9 477.4,104.4 478.4,104.8 479.8,105.3 481.6,105.8 483.8,106.2 486.3,106.7 489,107.2 492,107.6 495.2,108.1 498.4,108.6 501.8,109 505.1,109.5 508.4,110 511.6,110.4 514.6,110.9 517.4,111.4 520.1,111.8 522.4,112.3 524.5,112.8 526.2,113.2 527.6,113.7 528.7,114.2 529.5,114.6 529.9,115.1 530,115.6 529.7,116 529.1,116.5 528.3,117 527.1,117.4 525.7,117.9 524.1,118.4 522.3,118.8 520.4,119.3 518.3,119.8 516.1,120.2 513.9,120.7 511.6,121.2 509.2,121.6 506.9,122.1 504.6,122.6 502.4,123 500.2,123.5 498,124 496,124.4 494,124.9 492.1,125.4 490.4,125.8 488.7,126.3 487.2,126.8 485.7,127.2 484.4,127.7 483.1,128.2 482,128.6 480.9,129.1 480,129.6 479.1,130 478.3,130.5 477.6,131 477,131.4 476.4,131.9 475.9,132.4 475.5,132.8 475.1,133.3 474.7,133.8 474.4,134.2 474.2,134.7 473.9,135.2 473.7,135.6 473.6,136.1 473.4,136.6 473.3,137 473.2,137.5 473.1,138 473,138.4 472.9,138.9 472.9,139.4 472.8,139.8 472.8,140.3 472.7,140.7 472.7,141.2 472.7,141.7 472.6,142.1 472.6,142.6 472.6,143.1 472.6,143.5 472.6,144 472.6,144.5 472.6,144.9 472.6,145.4 472.6,145.9 472.6,146.3 472.6,146.8 472.6,147.3 472.6,147.7 472.6,148.2 472.6,148.7 472.6,149.1 472.6,149.6 472.6,150.1 472.6,150.5 472.6,151 472.6,151.5 472.6,151.9 472.6,152.4 472.6,152.9 472.6,153.3 472.6,153.8 472.6,154.3 472.6,154.7 472.6,155.2 472.6,155.7 472.6,156.1 472.6,156.6 472.6,157.1 472.6,157.5 472.6,158 472.6,158.5 472.6,158.9 472.6,159.4" fill="none" stroke="#ff1f1f" stroke-width="1.5" stroke-dasharray="3.7 3"/>
<path d="M469 7H539.2V160.7H469" fill="none" stroke="#000" stroke-width="1.55"/>
<line x1="491.4" y1="16" x2="509.2" y2="16" stroke="#ff1f1f" stroke-width="1.6" stroke-dasharray="4.4 2.5"/>
<line x1="492" y1="28" x2="509.2" y2="28" stroke="#1f1fff" stroke-width="1.6"/>
<text x="513.3" y="18.7" font-family="Liberation Serif, Times New Roman, serif" font-size="8.8" font-weight="bold" stroke="#000" stroke-width="0.15">Exp.</text>
<text x="513.3" y="30.4" font-family="Liberation Serif, Times New Roman, serif" font-size="8.8" font-weight="bold" stroke="#000" stroke-width="0.15">Cal.</text>
<text y="151" font-family="Liberation Serif, Times New Roman, serif" font-size="9.4" stroke="#000" stroke-width="0.35"><tspan x="490.2" font-style="italic" font-size="10.4">ρ</tspan><tspan x="497.4">=</tspan><tspan x="504.6">0.998</tspan></text>
<text x="472.2" y="170" font-family="Liberation Serif, Times New Roman, serif" font-size="8.8" font-weight="bold" text-anchor="middle" stroke="#000" stroke-width="0.15">0.0</text>
<text x="502.75" y="170" font-family="Liberation Serif, Times New Roman, serif" font-size="8.8" font-weight="bold" text-anchor="middle" stroke="#000" stroke-width="0.15">0.5</text>
<text x="533.3" y="170" font-family="Liberation Serif, Times New Roman, serif" font-size="8.8" font-weight="bold" text-anchor="middle" stroke="#000" stroke-width="0.15">1.0</text>
<g filter="url(#h4)"><rect x="7" y="192.6" width="83" height="52.4" fill="url(#gy4)"/><rect x="7" y="192.6" width="83" height="52.4" fill="url(#gx4_0)" style="mix-blend-mode:screen"/><rect x="7" y="245" width="83" height="19" fill="url(#gy4)"/><rect x="7" y="245" width="83" height="19" fill="url(#gx4_1)" style="mix-blend-mode:screen"/><rect x="7" y="264" width="83" height="18" fill="url(#gy4)"/><rect x="7" y="264" width="83" height="18" fill="url(#gx4_2)" style="mix-blend-mode:screen"/><rect x="7" y="282" width="83" height="19" fill="url(#gy4)"/><rect x="7" y="282" width="83" height="19" fill="url(#gx4_2)" style="mix-blend-mode:screen"/><rect x="7" y="301" width="83" height="46" fill="url(#gy4)"/><rect x="7" y="301" width="83" height="46" fill="url(#gx4_4)" style="mix-blend-mode:screen"/></g>
<text x="38" y="207.6" fill="#fff" font-family="Liberation Serif, Times New Roman, serif" font-size="12">HG<tspan font-size="7.3" dy="3.2" dx="-0.3">04</tspan></text>
<line x1="99.2" y1="192.6" x2="99.2" y2="347" stroke="#8a8a8a" stroke-width="0.7" stroke-dasharray="2 1.8"/>
<line x1="129.75" y1="192.6" x2="129.75" y2="347" stroke="#8a8a8a" stroke-width="0.7" stroke-dasharray="2 1.8"/>
<line x1="160.3" y1="192.6" x2="160.3" y2="347" stroke="#8a8a8a" stroke-width="0.7" stroke-dasharray="2 1.8"/>
<polyline points="99.2,194.1 99.2,194.6 99.2,195 99.2,195.5 99.2,195.9 99.2,196.4 99.2,196.9 99.2,197.3 99.2,197.8 99.2,198.2 99.2,198.7 99.2,199.1 99.2,199.6 99.3,200.1 99.3,200.5 99.3,201 99.3,201.4 99.3,201.9 99.3,202.4 99.4,202.8 99.4,203.3 99.4,203.7 99.5,204.2 99.5,204.6 99.6,205.1 99.6,205.6 99.7,206 99.8,206.5 99.9,206.9 100,207.4 100.1,207.9 100.2,208.3 100.4,208.8 100.5,209.2 100.7,209.7 100.9,210.2 101.2,210.6 101.5,211.1 101.8,211.5 102.1,212 102.5,212.4 102.9,212.9 103.4,213.4 103.9,213.8 104.5,214.3 105.1,214.7 105.8,215.2 106.6,215.7 107.4,216.1 108.3,216.6 109.3,217 110.3,217.5 111.5,218 112.7,218.4 114,218.9 115.3,219.3 116.8,219.8 118.4,220.2 120,220.7 121.7,221.2 123.5,221.6 125.4,222.1 127.3,222.5 129.3,223 131.4,223.5 133.5,223.9 135.6,224.4 137.7,224.8 139.9,225.3 142,225.7 144.1,226.2 146.2,226.7 148.2,227.1 150.1,227.6 152,228 153.6,228.5 155.2,229 156.6,229.4 157.8,229.9 158.8,230.3 159.5,230.8 160,231.3 160.3,231.7 160.3,232.2 159.9,232.6 159.3,233.1 158.4,233.5 157.2,234 155.7,234.5 153.9,234.9 151.8,235.4 149.5,235.8 146.9,236.3 144.1,236.8 141,237.2 137.9,237.7 134.5,238.1 131.2,238.6 127.7,239 124.3,239.5 120.9,240 117.6,240.4 114.4,240.9 111.5,241.3 108.7,241.8 106.3,242.3 104.1,242.7 102.3,243.2 100.9,243.6 99.9,244.1 99.4,244.6 99.2,245 99.5,245.5 100.2,245.9 101.3,246.4 102.9,246.8 104.8,247.3 107,247.8 109.5,248.2 112.2,248.7 115.1,249.1 118.2,249.6 121.3,250.1 124.3,250.5 127.3,251 130.2,251.4 132.8,251.9 135.1,252.4 137.2,252.8 138.8,253.3 140.1,253.7 140.9,254.2 141.2,254.6 141,255.1 140.4,255.6 139.3,256 137.8,256.5 135.8,256.9 133.5,257.4 130.9,257.9 128,258.3 124.9,258.8 121.7,259.2 118.5,259.7 115.3,260.1 112.2,260.6 109.3,261.1 106.6,261.5 104.3,262 102.4,262.4 100.9,262.9 99.8,263.4 99.3,263.8 99.2,264.3 99.7,264.7 100.7,265.2 102.1,265.7 104,266.1 106.2,266.6 108.8,267 111.7,267.5 114.7,267.9 117.9,268.4 121,268.9 124.2,269.3 127.1,269.8 129.9,270.2 132.4,270.7 134.5,271.2 136.2,271.6 137.5,272.1 138.2,272.5 138.5,273 138.3,273.4 137.5,273.9 136.3,274.4 134.6,274.8 132.5,275.3 130,275.7 127.3,276.2 124.3,276.7 121.2,277.1 118,277.6 114.9,278 111.8,278.5 109,279 106.4,279.4 104.1,279.9 102.2,280.3 100.7,280.8 99.7,281.2 99.3,281.7 99.3,282.2 99.8,282.6 100.8,283.1 102.3,283.5 104.2,284 106.5,284.5 109.2,284.9 112,285.4 115.1,285.8 118.3,286.3 121.6,286.7 124.8,287.2 127.9,287.7 130.8,288.1 133.4,288.6 135.7,289 137.7,289.5 139.3,290 140.4,290.4 141,290.9 141.2,291.3 140.9,291.8 140.1,292.3 138.9,292.7 137.2,293.2 135.2,293.6 132.9,294.1 130.3,294.5 127.4,295 124.5,295.5 121.4,295.9 118.3,296.4 115.3,296.8 112.4,297.3 109.6,297.8 107.1,298.2 104.9,298.7 102.9,299.1 101.4,299.6 100.3,300.1 99.5,300.5 99.2,301 99.3,301.4 99.9,301.9 100.9,302.3 102.3,302.8 104.1,303.3 106.2,303.7 108.6,304.2 111.3,304.6 114.3,305.1 117.4,305.6 120.7,306 124.1,306.5 127.6,306.9 131,307.4 134.4,307.8 137.7,308.3 140.9,308.8 143.9,309.2 146.8,309.7 149.4,310.1 151.7,310.6 153.8,311.1 155.6,311.5 157.2,312 158.4,312.4 159.3,312.9 159.9,313.4 160.2,313.8 160.3,314.3 160,314.7 159.5,315.2 158.8,315.6 157.8,316.1 156.6,316.6 155.3,317 153.7,317.5 152,317.9 150.2,318.4 148.3,318.9 146.3,319.3 144.2,319.8 142.1,320.2 140,320.7 137.8,321.1 135.7,321.6 133.6,322.1 131.5,322.5 129.4,323 127.4,323.4 125.5,323.9 123.6,324.4 121.8,324.8 120.1,325.3 118.4,325.7 116.9,326.2 115.4,326.7 114,327.1 112.7,327.6 111.5,328 110.4,328.5 109.3,328.9 108.3,329.4 107.4,329.9 106.6,330.3 105.9,330.8 105.2,331.2 104.5,331.7 103.9,332.2 103.4,332.6 102.9,333.1 102.5,333.5 102.1,334 101.8,334.5 101.5,334.9 101.2,335.4 101,335.8 100.7,336.3 100.5,336.7 100.4,337.2 100.2,337.7 100.1,338.1 100,338.6 99.9,339 99.8,339.5 99.7,340 99.6,340.4 99.6,340.9 99.5,341.3 99.5,341.8 99.4,342.2 99.4,342.7 99.4,343.2 99.3,343.6 99.3,344.1 99.3,344.5 99.3,345" fill="none" stroke="#1f1fff" stroke-width="1.5" stroke-linejoin="round"/>
<polyline points="99.2,194.1 99.2,194.6 99.2,195 99.2,195.5 99.2,195.9 99.2,196.4 99.2,196.9 99.2,197.3 99.2,197.8 99.2,198.2 99.2,198.7 99.2,199.1 99.2,199.6 99.3,200.1 99.3,200.5 99.3,201 99.3,201.4 99.3,201.9 99.3,202.4 99.4,202.8 99.4,203.3 99.4,203.7 99.5,204.2 99.5,204.6 99.6,205.1 99.6,205.6 99.7,206 99.8,206.5 99.9,206.9 100,207.4 100.1,207.9 100.2,208.3 100.4,208.8 100.5,209.2 100.7,209.7 100.9,210.2 101.2,210.6 101.5,211.1 101.8,211.5 102.1,212 102.5,212.4 102.9,212.9 103.4,213.4 103.9,213.8 104.5,214.3 105.1,214.7 105.8,215.2 106.6,215.7 107.4,216.1 108.3,216.6 109.3,217 110.3,217.5 111.5,218 112.7,218.4 114,218.9 115.3,219.3 116.8,219.8 118.4,220.2 120,220.7 121.7,221.2 123.5,221.6 125.4,222.1 127.3,222.5 129.3,223 131.4,223.5 133.5,223.9 135.6,224.4 137.7,224.8 139.9,225.3 142,225.7 144.1,226.2 146.2,226.7 148.2,227.1 150.1,227.6 152,228 153.6,228.5 155.2,229 156.6,229.4 157.8,229.9 158.8,230.3 159.5,230.8 160,231.3 160.3,231.7 160.3,232.2 159.9,232.6 159.3,233.1 158.4,233.5 157.2,234 155.7,234.5 153.9,234.9 151.9,235.4 149.5,235.8 147,236.3 144.2,236.8 141.2,237.2 138.1,237.7 134.8,238.1 131.5,238.6 128.1,239 124.7,239.5 121.4,240 118.1,240.4 115.1,240.9 112.2,241.3 109.5,241.8 107.1,242.3 105.1,242.7 103.4,243.2 102,243.6 101.1,244.1 100.5,244.6 100.4,245 100.6,245.5 101.1,245.9 101.9,246.4 102.9,246.8 104.2,247.3 105.7,247.8 107.5,248.2 109.3,248.7 111.3,249.1 113.4,249.6 115.5,250.1 117.6,250.5 119.6,251 121.6,251.4 123.4,251.9 125,252.4 126.4,252.8 127.5,253.3 128.4,253.7 128.9,254.2 129.1,254.6 129,255.1 128.6,255.6 127.9,256 126.8,256.5 125.5,256.9 123.9,257.4 122.1,257.9 120.1,258.3 118,258.8 115.8,259.2 113.6,259.7 111.4,260.1 109.3,260.6 107.3,261.1 105.5,261.5 103.9,262 102.6,262.4 101.6,262.9 100.9,263.4 100.5,263.8 100.5,264.3 100.8,264.7 101.5,265.2 102.6,265.7 104,266.1 105.7,266.6 107.6,267 109.7,267.5 112,267.9 114.3,268.4 116.7,268.9 119,269.3 121.3,269.8 123.3,270.2 125.2,270.7 126.8,271.2 128,271.6 129,272.1 129.5,272.5 129.7,273 129.6,273.4 129,273.9 128.1,274.4 126.8,274.8 125.2,275.3 123.4,275.7 121.4,276.2 119.1,276.7 116.8,277.1 114.4,277.6 112.1,278 109.8,278.5 107.7,279 105.8,279.4 104.1,279.9 102.7,280.3 101.6,280.8 100.8,281.2 100.5,281.7 100.5,282.2 100.9,282.6 101.6,283.1 102.7,283.5 104.1,284 105.7,284.5 107.7,284.9 109.8,285.4 112,285.8 114.3,286.3 116.7,286.7 119,287.2 121.3,287.7 123.4,288.1 125.3,288.6 127,289 128.4,289.5 129.6,290 130.4,290.4 130.8,290.9 131,291.3 130.7,291.8 130.2,292.3 129.3,292.7 128.1,293.2 126.6,293.6 124.9,294.1 123,294.5 121,295 118.8,295.5 116.6,295.9 114.3,296.4 112.1,296.8 110,297.3 108,297.8 106.2,298.2 104.5,298.7 103.1,299.1 102,299.6 101.2,300.1 100.7,300.5 100.4,301 100.5,301.4 101,301.9 101.8,302.3 102.9,302.8 104.5,303.3 106.3,303.7 108.4,304.2 110.7,304.6 113.3,305.1 116,305.6 118.9,306 121.8,306.5 124.8,306.9 127.8,307.4 130.8,307.8 133.7,308.3 136.5,308.8 139.1,309.2 141.6,309.7 143.9,310.1 146,310.6 147.8,311.1 149.4,311.5 150.8,312 151.9,312.4 152.7,312.9 153.2,313.4 153.5,313.8 153.6,314.3 153.3,314.7 152.7,315.2 151.9,315.6 150.8,316.1 149.4,316.6 147.9,317 146.2,317.5 144.4,317.9 142.4,318.4 140.4,318.9 138.2,319.3 136.1,319.8 133.9,320.2 131.7,320.7 129.6,321.1 127.5,321.6 125.4,322.1 123.4,322.5 121.5,323 119.7,323.4 117.9,323.9 116.2,324.4 114.7,324.8 113.2,325.3 111.9,325.7 110.6,326.2 109.4,326.7 108.3,327.1 107.3,327.6 106.4,328 105.6,328.5 104.9,328.9 104.2,329.4 103.6,329.9 103,330.3 102.6,330.8 102.1,331.2 101.7,331.7 101.4,332.2 101.1,332.6 100.8,333.1 100.6,333.5 100.4,334 100.2,334.5 100.1,334.9 99.9,335.4 99.8,335.8 99.7,336.3 99.7,336.7 99.6,337.2 99.5,337.7 99.5,338.1 99.4,338.6 99.4,339 99.4,339.5 99.3,340 99.3,340.4 99.3,340.9 99.3,341.3 99.3,341.8 99.2,342.2 99.2,342.7 99.2,343.2 99.2,343.6 99.2,344.1 99.2,344.5 99.2,345" fill="none" stroke="#ff1f1f" stroke-width="1.5" stroke-dasharray="3.7 3"/>
<path d="M96 193.6H166.2V347.3H96" fill="none" stroke="#000" stroke-width="1.55"/>
<line x1="118.2" y1="202.6" x2="136" y2="202.6" stroke="#ff1f1f" stroke-width="1.6" stroke-dasharray="4.4 2.5"/>
<line x1="118.8" y1="214.6" x2="136" y2="214.6" stroke="#1f1fff" stroke-width="1.6"/>
<text x="140.1" y="205.3" font-family="Liberation Serif, Times New Roman, serif" font-size="8.8" font-weight="bold" stroke="#000" stroke-width="0.15">Exp.</text>
<text x="140.1" y="217" font-family="Liberation Serif, Times New Roman, serif" font-size="8.8" font-weight="bold" stroke="#000" stroke-width="0.15">Cal.</text>
<text y="337.6" font-family="Liberation Serif, Times New Roman, serif" font-size="9.4" stroke="#000" stroke-width="0.35"><tspan x="117.2" font-style="italic" font-size="10.4">ρ</tspan><tspan x="124.4">=</tspan><tspan x="131.6">0.982</tspan></text>
<text x="99.2" y="356.6" font-family="Liberation Serif, Times New Roman, serif" font-size="8.8" font-weight="bold" text-anchor="middle" stroke="#000" stroke-width="0.15">0.0</text>
<text x="129.75" y="356.6" font-family="Liberation Serif, Times New Roman, serif" font-size="8.8" font-weight="bold" text-anchor="middle" stroke="#000" stroke-width="0.15">0.5</text>
<text x="160.3" y="356.6" font-family="Liberation Serif, Times New Roman, serif" font-size="8.8" font-weight="bold" text-anchor="middle" stroke="#000" stroke-width="0.15">1.0</text>
<g filter="url(#h5)"><rect x="194" y="192.6" width="83" height="48.4" fill="url(#gy5)"/><rect x="194" y="192.6" width="83" height="48.4" fill="url(#gx5_0)" style="mix-blend-mode:screen"/><rect x="194" y="241" width="83" height="17" fill="url(#gy5)"/><rect x="194" y="241" width="83" height="17" fill="url(#gx5_1)" style="mix-blend-mode:screen"/><rect x="194" y="258" width="83" height="15" fill="url(#gy5)"/><rect x="194" y="258" width="83" height="15" fill="url(#gx5_2)" style="mix-blend-mode:screen"/><rect x="194" y="273" width="83" height="15" fill="url(#gy5)"/><rect x="194" y="273" width="83" height="15" fill="url(#gx5_2)" style="mix-blend-mode:screen"/><rect x="194" y="288" width="83" height="17" fill="url(#gy5)"/><rect x="194" y="288" width="83" height="17" fill="url(#gx5_1)" style="mix-blend-mode:screen"/><rect x="194" y="305" width="83" height="42" fill="url(#gy5)"/><rect x="194" y="305" width="83" height="42" fill="url(#gx5_5)" style="mix-blend-mode:screen"/></g>
<text x="225" y="207.6" fill="#fff" font-family="Liberation Serif, Times New Roman, serif" font-size="12">HG<tspan font-size="7.3" dy="3.2" dx="-0.3">05</tspan></text>
<line x1="286.1" y1="192.6" x2="286.1" y2="347" stroke="#8a8a8a" stroke-width="0.7" stroke-dasharray="2 1.8"/>
<line x1="316.65" y1="192.6" x2="316.65" y2="347" stroke="#8a8a8a" stroke-width="0.7" stroke-dasharray="2 1.8"/>
<line x1="347.2" y1="192.6" x2="347.2" y2="347" stroke="#8a8a8a" stroke-width="0.7" stroke-dasharray="2 1.8"/>
<polyline points="286.1,195.6 286.1,196.1 286.1,196.5 286.1,197 286.1,197.4 286.1,197.9 286.1,198.3 286.1,198.8 286.1,199.2 286.1,199.7 286.1,200.1 286.2,200.6 286.2,201 286.2,201.5 286.2,202 286.2,202.4 286.2,202.9 286.3,203.3 286.3,203.8 286.3,204.2 286.4,204.7 286.4,205.1 286.5,205.6 286.6,206 286.6,206.5 286.7,207 286.9,207.4 287,207.9 287.1,208.3 287.3,208.8 287.5,209.2 287.7,209.7 288,210.1 288.3,210.6 288.6,211 289,211.5 289.4,211.9 289.9,212.4 290.4,212.9 291,213.3 291.6,213.8 292.3,214.2 293.1,214.7 294,215.1 295,215.6 296,216 297.2,216.5 298.4,216.9 299.7,217.4 301.2,217.9 302.7,218.3 304.4,218.8 306.1,219.2 308,219.7 309.9,220.1 312,220.6 314.1,221 316.3,221.5 318.6,221.9 320.9,222.4 323.2,222.8 325.6,223.3 328,223.8 330.3,224.2 332.6,224.7 334.8,225.1 337,225.6 339,226 340.8,226.5 342.5,226.9 344,227.4 345.2,227.8 346.1,228.3 346.8,228.7 347.1,229.2 347.2,229.7 346.8,230.1 346.1,230.6 345.1,231 343.6,231.5 341.8,231.9 339.7,232.4 337.2,232.8 334.4,233.3 331.3,233.7 327.9,234.2 324.4,234.7 320.7,235.1 316.9,235.6 313.1,236 309.3,236.5 305.6,236.9 302,237.4 298.7,237.8 295.7,238.3 292.9,238.7 290.6,239.2 288.7,239.6 287.3,240.1 286.5,240.6 286.1,241 286.3,241.5 287,241.9 288.3,242.4 290,242.8 292.1,243.3 294.7,243.7 297.6,244.2 300.7,244.6 304.1,245.1 307.5,245.6 310.8,246 314.1,246.5 317.2,246.9 320,247.4 322.5,247.8 324.5,248.3 326,248.7 326.9,249.2 327.3,249.6 327,250.1 326.2,250.5 324.8,251 322.9,251.5 320.4,251.9 317.6,252.4 314.4,252.8 311,253.3 307.4,253.7 303.8,254.2 300.3,254.6 296.9,255.1 293.9,255.5 291.3,256 289.1,256.4 287.5,256.9 286.5,257.4 286.1,257.8 286.4,258.3 287.3,258.7 288.8,259.2 290.8,259.6 293.4,260.1 296.3,260.5 299.6,261 303,261.4 306.5,261.9 309.9,262.4 313.2,262.8 316.1,263.3 318.7,263.7 320.8,264.2 322.3,264.6 323.2,265.1 323.5,265.5 323.1,266 322,266.4 320.3,266.9 318.1,267.3 315.4,267.8 312.3,268.3 308.9,268.7 305.4,269.2 301.9,269.6 298.4,270.1 295.2,270.5 292.4,271 290,271.4 288.1,271.9 286.8,272.3 286.2,272.8 286.2,273.3 286.9,273.7 288.3,274.2 290.2,274.6 292.7,275.1 295.6,275.5 298.8,276 302.3,276.4 305.8,276.9 309.3,277.3 312.6,277.8 315.7,278.2 318.4,278.7 320.5,279.2 322.1,279.6 323.1,280.1 323.5,280.5 323.2,281 322.2,281.4 320.6,281.9 318.5,282.3 315.8,282.8 312.8,283.2 309.6,283.7 306.1,284.2 302.6,284.6 299.2,285.1 296,285.5 293.1,286 290.6,286.4 288.6,286.9 287.1,287.3 286.3,287.8 286.1,288.2 286.6,288.7 287.6,289.1 289.3,289.6 291.5,290.1 294.2,290.5 297.3,291 300.6,291.4 304.2,291.9 307.8,292.3 311.3,292.8 314.7,293.2 317.9,293.7 320.7,294.1 323.1,294.6 325,295 326.3,295.5 327.1,296 327.3,296.4 326.8,296.9 325.8,297.3 324.3,297.8 322.2,298.2 319.7,298.7 316.9,299.1 313.8,299.6 310.5,300 307.1,300.5 303.7,301 300.4,301.4 297.3,301.9 294.4,302.3 291.9,302.8 289.8,303.2 288.1,303.7 286.9,304.1 286.2,304.6 286.1,305 286.5,305.5 287.5,305.9 288.9,306.4 290.9,306.9 293.2,307.3 296,307.8 299.1,308.2 302.4,308.7 306,309.1 309.7,309.6 313.5,310 317.4,310.5 321.1,310.9 324.8,311.4 328.3,311.9 331.6,312.3 334.7,312.8 337.5,313.2 339.9,313.7 342,314.1 343.8,314.6 345.2,315 346.2,315.5 346.9,315.9 347.2,316.4 347.1,316.8 346.7,317.3 346,317.8 345.1,318.2 343.8,318.7 342.3,319.1 340.6,319.6 338.8,320 336.7,320.5 334.6,320.9 332.4,321.4 330.1,321.8 327.7,322.3 325.3,322.7 323,323.2 320.6,323.7 318.3,324.1 316.1,324.6 313.9,325 311.8,325.5 309.7,325.9 307.8,326.4 305.9,326.8 304.2,327.3 302.6,327.7 301,328.2 299.6,328.7 298.3,329.1 297,329.6 295.9,330 294.9,330.5 293.9,330.9 293,331.4 292.3,331.8 291.5,332.3 290.9,332.7 290.3,333.2 289.8,333.6 289.3,334.1 288.9,334.6 288.6,335 288.2,335.5 288,335.9 287.7,336.4 287.5,336.8 287.3,337.3 287.1,337.7 287,338.2 286.8,338.6 286.7,339.1 286.6,339.6 286.6,340 286.5,340.5 286.4,340.9 286.4,341.4 286.3,341.8 286.3,342.3 286.3,342.7 286.2,343.2 286.2,343.6 286.2,344.1 286.2,344.5 286.2,345" fill="none" stroke="#1f1fff" stroke-width="1.5" stroke-linejoin="round"/>
<polyline points="286.1,195.6 286.1,196.1 286.1,196.5 286.1,197 286.1,197.4 286.1,197.9 286.1,198.3 286.1,198.8 286.1,199.2 286.1,199.7 286.1,200.1 286.2,200.6 286.2,201 286.2,201.5 286.2,202 286.2,202.4 286.2,202.9 286.3,203.3 286.3,203.8 286.3,204.2 286.4,204.7 286.4,205.1 286.5,205.6 286.6,206 286.6,206.5 286.7,207 286.9,207.4 287,207.9 287.1,208.3 287.3,208.8 287.5,209.2 287.7,209.7 288,210.1 288.3,210.6 288.6,211 289,211.5 289.4,211.9 289.9,212.4 290.4,212.9 291,213.3 291.6,213.8 292.3,214.2 293.1,214.7 294,215.1 295,215.6 296,216 297.2,216.5 298.4,216.9 299.7,217.4 301.2,217.9 302.7,218.3 304.4,218.8 306.1,219.2 308,219.7 309.9,220.1 312,220.6 314.1,221 316.3,221.5 318.6,221.9 320.9,222.4 323.2,222.8 325.6,223.3 328,223.8 330.3,224.2 332.6,224.7 334.8,225.1 337,225.6 339,226 340.8,226.5 342.5,226.9 344,227.4 345.2,227.8 346.1,228.3 346.8,228.7 347.1,229.2 347.2,229.7 346.8,230.1 346.1,230.6 345.1,231 343.7,231.5 342,231.9 340,232.4 337.6,232.8 335,233.3 332.2,233.7 329.1,234.2 325.9,234.7 322.7,235.1 319.3,235.6 316,236 312.7,236.5 309.6,236.9 306.7,237.4 304,237.8 301.5,238.3 299.4,238.7 297.7,239.2 296.4,239.6 295.6,240.1 295.2,240.6 295.2,241 295.3,241.5 295.8,241.9 296.7,242.4 298,242.8 299.6,243.3 301.6,243.7 303.9,244.2 306.4,244.6 309.1,245.1 311.8,245.6 314.6,246 317.3,246.5 319.8,246.9 322.2,247.4 324.2,247.8 325.9,248.3 327.1,248.7 327.9,249.2 328.3,249.6 328.1,250.1 327.3,250.5 326.1,251 324.4,251.5 322.3,251.9 319.8,252.4 317,252.8 313.9,253.3 310.8,253.7 307.5,254.2 304.4,254.6 301.3,255.1 298.5,255.5 296.1,256 294,256.4 292.5,256.9 291.5,257.4 291,257.8 291.2,258.3 291.8,258.7 292.9,259.2 294.3,259.6 296.1,260.1 298.2,260.5 300.4,261 302.9,261.4 305.3,261.9 307.7,262.4 310,262.8 312.1,263.3 313.9,263.7 315.4,264.2 316.4,264.6 317.1,265.1 317.3,265.5 317,266 316.2,266.4 315,266.9 313.5,267.3 311.6,267.8 309.4,268.3 307,268.7 304.6,269.2 302.1,269.6 299.7,270.1 297.4,270.5 295.4,271 293.7,271.4 292.4,271.9 291.5,272.3 291,272.8 291.1,273.3 291.5,273.7 292.5,274.2 293.8,274.6 295.5,275.1 297.5,275.5 299.7,276 302.1,276.4 304.5,276.9 306.9,277.3 309.2,277.8 311.3,278.2 313.1,278.7 314.6,279.2 315.7,279.6 316.4,280.1 316.6,280.5 316.4,281 315.8,281.4 314.7,281.9 313.2,282.3 311.4,282.8 309.3,283.2 307.1,283.7 304.7,284.2 302.3,284.6 300,285.1 297.8,285.5 295.8,286 294.1,286.4 292.7,286.9 291.7,287.3 291.1,287.8 291,288.2 291.6,288.7 292.7,289.1 294.4,289.6 296.6,290.1 299.2,290.5 302.1,291 305.3,291.4 308.7,291.9 312.1,292.3 315.4,292.8 318.6,293.2 321.5,293.7 324.1,294.1 326.3,294.6 328,295 329.2,295.5 329.9,296 330.1,296.4 329.7,296.9 328.8,297.3 327.4,297.8 325.6,298.2 323.4,298.7 320.9,299.1 318.2,299.6 315.4,300 312.5,300.5 309.6,301 306.8,301.4 304.2,301.9 301.8,302.3 299.7,302.8 298,303.2 296.6,303.7 295.8,304.1 295.3,304.6 295.2,305 295.1,305.5 295.4,305.9 296,306.4 297,306.9 298.4,307.3 300,307.8 301.9,308.2 304,308.7 306.4,309.1 308.8,309.6 311.4,310 314.1,310.5 316.7,310.9 319.3,311.4 321.9,311.9 324.3,312.3 326.6,312.8 328.6,313.2 330.5,313.7 332.1,314.1 333.5,314.6 334.6,315 335.4,315.5 335.9,315.9 336.2,316.4 336.1,316.8 335.7,317.3 335,317.8 334,318.2 332.7,318.7 331.2,319.1 329.4,319.6 327.6,320 325.5,320.5 323.4,320.9 321.3,321.4 319.1,321.8 316.9,322.3 314.7,322.7 312.5,323.2 310.4,323.7 308.4,324.1 306.4,324.6 304.6,325 302.8,325.5 301.2,325.9 299.7,326.4 298.2,326.8 296.9,327.3 295.7,327.7 294.6,328.2 293.6,328.7 292.7,329.1 291.9,329.6 291.1,330 290.5,330.5 289.9,330.9 289.4,331.4 288.9,331.8 288.5,332.3 288.2,332.7 287.9,333.2 287.6,333.6 287.4,334.1 287.2,334.6 287,335 286.8,335.5 286.7,335.9 286.6,336.4 286.5,336.8 286.5,337.3 286.4,337.7 286.3,338.2 286.3,338.6 286.3,339.1 286.2,339.6 286.2,340 286.2,340.5 286.2,340.9 286.2,341.4 286.1,341.8 286.1,342.3 286.1,342.7 286.1,343.2 286.1,343.6 286.1,344.1 286.1,344.5 286.1,345" fill="none" stroke="#ff1f1f" stroke-width="1.5" stroke-dasharray="3.7 3"/>
<path d="M282.2 193.6H352.4V347.3H282.2" fill="none" stroke="#000" stroke-width="1.55"/>
<line x1="305.1" y1="202.6" x2="322.9" y2="202.6" stroke="#ff1f1f" stroke-width="1.6" stroke-dasharray="4.4 2.5"/>
<line x1="305.7" y1="214.6" x2="322.9" y2="214.6" stroke="#1f1fff" stroke-width="1.6"/>
<text x="327" y="205.3" font-family="Liberation Serif, Times New Roman, serif" font-size="8.8" font-weight="bold" stroke="#000" stroke-width="0.15">Exp.</text>
<text x="327" y="217" font-family="Liberation Serif, Times New Roman, serif" font-size="8.8" font-weight="bold" stroke="#000" stroke-width="0.15">Cal.</text>
<text y="337.6" font-family="Liberation Serif, Times New Roman, serif" font-size="9.4" stroke="#000" stroke-width="0.35"><tspan x="303.4" font-style="italic" font-size="10.4">ρ</tspan><tspan x="310.6">=</tspan><tspan x="317.8">0.956</tspan></text>
<text x="286.1" y="356.6" font-family="Liberation Serif, Times New Roman, serif" font-size="8.8" font-weight="bold" text-anchor="middle" stroke="#000" stroke-width="0.15">0.0</text>
<text x="316.65" y="356.6" font-family="Liberation Serif, Times New Roman, serif" font-size="8.8" font-weight="bold" text-anchor="middle" stroke="#000" stroke-width="0.15">0.5</text>
<text x="347.2" y="356.6" font-family="Liberation Serif, Times New Roman, serif" font-size="8.8" font-weight="bold" text-anchor="middle" stroke="#000" stroke-width="0.15">1.0</text>
<g filter="url(#h6)"><rect x="381" y="192.6" width="83" height="46.4" fill="url(#gy6)"/><rect x="381" y="192.6" width="83" height="46.4" fill="url(#gx6_0)" style="mix-blend-mode:screen"/><rect x="381" y="239" width="83" height="15" fill="url(#gy6)"/><rect x="381" y="239" width="83" height="15" fill="url(#gx6_1)" style="mix-blend-mode:screen"/><rect x="381" y="254" width="83" height="13" fill="url(#gy6)"/><rect x="381" y="254" width="83" height="13" fill="url(#gx6_1)" style="mix-blend-mode:screen"/><rect x="381" y="267" width="83" height="13" fill="url(#gy6)"/><rect x="381" y="267" width="83" height="13" fill="url(#gx6_1)" style="mix-blend-mode:screen"/><rect x="381" y="280" width="83" height="13" fill="url(#gy6)"/><rect x="381" y="280" width="83" height="13" fill="url(#gx6_1)" style="mix-blend-mode:screen"/><rect x="381" y="293" width="83" height="15" fill="url(#gy6)"/><rect x="381" y="293" width="83" height="15" fill="url(#gx6_1)" style="mix-blend-mode:screen"/><rect x="381" y="308" width="83" height="39" fill="url(#gy6)"/><rect x="381" y="308" width="83" height="39" fill="url(#gx6_0)" style="mix-blend-mode:screen"/></g>
<text x="412" y="207.6" fill="#fff" font-family="Liberation Serif, Times New Roman, serif" font-size="12">HG<tspan font-size="7.3" dy="3.2" dx="-0.3">06</tspan></text>
<line x1="472.55" y1="192.6" x2="472.55" y2="347" stroke="#8a8a8a" stroke-width="0.7" stroke-dasharray="2 1.8"/>
<line x1="503.1" y1="192.6" x2="503.1" y2="347" stroke="#8a8a8a" stroke-width="0.7" stroke-dasharray="2 1.8"/>
<line x1="533.65" y1="192.6" x2="533.65" y2="347" stroke="#8a8a8a" stroke-width="0.7" stroke-dasharray="2 1.8"/>
<polyline points="472.6,195.6 472.6,196.1 472.6,196.5 472.6,197 472.6,197.4 472.6,197.9 472.6,198.3 472.6,198.8 472.6,199.2 472.6,199.7 472.6,200.1 472.6,200.6 472.6,201 472.6,201.5 472.6,202 472.6,202.4 472.6,202.9 472.6,203.3 472.7,203.8 472.7,204.2 472.7,204.7 472.8,205.1 472.8,205.6 472.9,206 472.9,206.5 473,207 473.1,207.4 473.2,207.9 473.3,208.3 473.5,208.8 473.6,209.2 473.8,209.7 474,210.1 474.3,210.6 474.6,211 475,211.5 475.4,211.9 475.8,212.4 476.3,212.9 476.9,213.3 477.6,213.8 478.3,214.2 479.1,214.7 480,215.1 481,215.6 482.2,216 483.4,216.5 484.7,216.9 486.2,217.4 487.8,217.9 489.5,218.3 491.4,218.8 493.3,219.2 495.4,219.7 497.6,220.1 499.9,220.6 502.3,221 504.8,221.5 507.4,221.9 510,222.4 512.6,222.8 515.2,223.3 517.8,223.8 520.3,224.2 522.7,224.7 524.9,225.1 527,225.6 528.9,226 530.5,226.5 531.8,226.9 532.8,227.4 533.4,227.8 533.6,228.3 533.5,228.7 532.8,229.2 531.8,229.7 530.3,230.1 528.3,230.6 525.9,231 523.1,231.5 519.9,231.9 516.4,232.4 512.6,232.8 508.5,233.3 504.4,233.7 500.1,234.2 495.9,234.7 491.8,235.1 487.9,235.6 484.3,236 481,236.5 478.2,236.9 475.9,237.4 474.1,237.8 473,238.3 472.6,238.7 472.8,239.2 473.6,239.6 475.1,240.1 477.2,240.6 479.8,241 482.8,241.5 486.2,241.9 489.9,242.4 493.6,242.8 497.3,243.3 500.9,243.7 504.3,244.2 507.2,244.6 509.6,245.1 511.5,245.6 512.7,246 513.2,246.5 512.9,246.9 511.9,247.4 510.2,247.8 507.8,248.3 504.9,248.7 501.5,249.2 497.8,249.6 493.8,250.1 489.8,250.5 486,251 482.3,251.5 479.1,251.9 476.4,252.4 474.4,252.8 473.1,253.3 472.6,253.7 472.8,254.2 473.9,254.6 475.7,255.1 478.2,255.5 481.3,256 484.7,256.4 488.5,256.9 492.3,257.4 496.1,257.8 499.6,258.3 502.8,258.7 505.4,259.2 507.3,259.6 508.4,260.1 508.8,260.5 508.3,261 507,261.4 504.9,261.9 502.2,262.4 498.9,262.8 495.2,263.3 491.3,263.7 487.4,264.2 483.7,264.6 480.2,265.1 477.3,265.5 474.9,266 473.4,266.4 472.6,266.9 472.7,267.3 473.7,267.8 475.4,268.3 477.9,268.7 481,269.2 484.5,269.6 488.3,270.1 492.2,270.5 496,271 499.5,271.4 502.5,271.9 505,272.3 506.7,272.8 507.6,273.3 507.6,273.7 506.8,274.2 505.2,274.6 502.8,275.1 499.8,275.5 496.3,276 492.6,276.4 488.7,276.9 484.8,277.3 481.3,277.8 478.2,278.2 475.6,278.7 473.8,279.2 472.8,279.6 472.6,280.1 473.3,280.5 474.8,281 477,281.4 479.9,281.9 483.3,282.3 487.1,282.8 491,283.2 494.9,283.7 498.6,284.2 501.9,284.6 504.7,285.1 506.8,285.5 508.2,286 508.8,286.4 508.5,286.9 507.4,287.3 505.6,287.8 503,288.2 499.9,288.7 496.4,289.1 492.7,289.6 488.8,290.1 485.1,290.5 481.6,291 478.5,291.4 475.9,291.9 474,292.3 472.9,292.8 472.6,293.2 473,293.7 474.2,294.1 476.2,294.6 478.8,295 482,295.5 485.6,296 489.5,296.4 493.5,296.9 497.4,297.3 501.2,297.8 504.6,298.2 507.6,298.7 510,299.1 511.8,299.6 512.8,300 513.2,300.5 512.8,301 511.6,301.4 509.8,301.9 507.4,302.3 504.6,302.8 501.3,303.2 497.7,303.7 494,304.1 490.2,304.6 486.6,305 483.1,305.5 480.1,305.9 477.4,306.4 475.3,306.9 473.7,307.3 472.8,307.8 472.6,308.2 473,308.7 474,309.1 475.7,309.6 477.9,310 480.7,310.5 483.9,310.9 487.5,311.4 491.4,311.9 495.5,312.3 499.7,312.8 504,313.2 508.2,313.7 512.2,314.1 516,314.6 519.6,315 522.8,315.5 525.6,315.9 528.1,316.4 530.1,316.8 531.7,317.3 532.8,317.8 533.4,318.2 533.6,318.7 533.5,319.1 532.9,319.6 531.9,320 530.6,320.5 529,320.9 527.2,321.4 525.1,321.8 522.9,322.3 520.5,322.7 518,323.2 515.4,323.7 512.8,324.1 510.2,324.6 507.6,325 505.1,325.5 502.6,325.9 500.2,326.4 497.8,326.8 495.6,327.3 493.5,327.7 491.5,328.2 489.7,328.7 488,329.1 486.4,329.6 484.9,330 483.5,330.5 482.3,330.9 481.1,331.4 480.1,331.8 479.2,332.3 478.4,332.7 477.6,333.2 477,333.6 476.4,334.1 475.8,334.6 475.4,335 475,335.5 474.6,335.9 474.3,336.4 474.1,336.8 473.8,337.3 473.6,337.7 473.5,338.2 473.3,338.6 473.2,339.1 473.1,339.6 473,340 472.9,340.5 472.9,340.9 472.8,341.4 472.8,341.8 472.7,342.3 472.7,342.7 472.7,343.2 472.6,343.6 472.6,344.1 472.6,344.5 472.6,345" fill="none" stroke="#1f1fff" stroke-width="1.5" stroke-linejoin="round"/>
<polyline points="472.6,195.6 472.6,196.1 472.6,196.5 472.6,197 472.6,197.4 472.6,197.9 472.6,198.3 472.6,198.8 472.6,199.2 472.6,199.7 472.6,200.1 472.6,200.6 472.6,201 472.6,201.5 472.6,202 472.6,202.4 472.6,202.9 472.6,203.3 472.7,203.8 472.7,204.2 472.7,204.7 472.8,205.1 472.8,205.6 472.9,206 472.9,206.5 473,207 473.1,207.4 473.2,207.9 473.3,208.3 473.5,208.8 473.6,209.2 473.8,209.7 474,210.1 474.3,210.6 474.6,211 475,211.5 475.4,211.9 475.8,212.4 476.3,212.9 476.9,213.3 477.6,213.8 478.3,214.2 479.1,214.7 480,215.1 481,215.6 482.2,216 483.4,216.5 484.7,216.9 486.2,217.4 487.8,217.9 489.5,218.3 491.4,218.8 493.3,219.2 495.4,219.7 497.6,220.1 499.9,220.6 502.3,221 504.8,221.5 507.4,221.9 510,222.4 512.6,222.8 515.2,223.3 517.8,223.8 520.3,224.2 522.7,224.7 524.9,225.1 527,225.6 528.9,226 530.5,226.5 531.8,226.9 532.8,227.4 533.4,227.8 533.6,228.3 533.5,228.7 532.9,229.2 531.8,229.7 530.3,230.1 528.4,230.6 526,231 523.3,231.5 520.2,231.9 516.8,232.4 513.2,232.8 509.4,233.3 505.4,233.7 501.4,234.2 497.5,234.7 493.7,235.1 490.1,235.6 486.8,236 483.9,236.5 481.4,236.9 479.4,237.4 477.9,237.8 477,238.3 476.8,238.7 477,239.2 477.5,239.6 478.5,240.1 479.9,240.6 481.6,241 483.6,241.5 485.9,241.9 488.3,242.4 490.8,242.8 493.2,243.3 495.6,243.7 497.8,244.2 499.8,244.6 501.4,245.1 502.6,245.6 503.4,246 503.7,246.5 503.5,246.9 502.9,247.4 501.7,247.8 500.2,248.3 498.2,248.7 496,249.2 493.5,249.6 490.9,250.1 488.3,250.5 485.7,251 483.3,251.5 481.2,251.9 479.4,252.4 478,252.8 477.2,253.3 476.8,253.7 477,254.2 477.7,254.6 479,255.1 480.6,255.5 482.7,256 485,256.4 487.6,256.9 490.2,257.4 492.7,257.8 495.1,258.3 497.2,258.7 499,259.2 500.3,259.6 501,260.1 501.3,260.5 500.9,261 500,261.4 498.7,261.9 496.8,262.4 494.6,262.8 492.1,263.3 489.5,263.7 486.9,264.2 484.3,264.6 482,265.1 480,265.5 478.4,266 477.4,266.4 476.9,266.9 477,267.3 477.8,267.8 479.3,268.3 481.4,268.7 484,269.2 487,269.6 490.2,270.1 493.6,270.5 496.8,271 499.8,271.4 502.4,271.9 504.4,272.3 505.9,272.8 506.7,273.3 506.7,273.7 506,274.2 504.6,274.6 502.6,275.1 500,275.5 497.1,276 493.9,276.4 490.6,276.9 487.3,277.3 484.3,277.8 481.6,278.2 479.4,278.7 477.9,279.2 477,279.6 476.9,280.1 477.4,280.5 478.5,281 480.1,281.4 482.3,281.9 484.8,282.3 487.6,282.8 490.5,283.2 493.4,283.7 496.1,284.2 498.6,284.6 500.7,285.1 502.2,285.5 503.3,286 503.7,286.4 503.5,286.9 502.7,287.3 501.3,287.8 499.4,288.2 497.2,288.7 494.6,289.1 491.8,289.6 488.9,290.1 486.1,290.5 483.5,291 481.2,291.4 479.3,291.9 477.9,292.3 477.1,292.8 476.8,293.2 477.1,293.7 478,294.1 479.3,294.6 481.1,295 483.2,295.5 485.7,296 488.3,296.4 491,296.9 493.6,297.3 496.2,297.8 498.5,298.2 500.5,298.7 502.2,299.1 503.4,299.6 504.1,300 504.3,300.5 504,301 503.3,301.4 502.1,301.9 500.4,302.3 498.5,302.8 496.3,303.2 493.8,303.7 491.3,304.1 488.8,304.6 486.3,305 484,305.5 481.9,305.9 480.1,306.4 478.7,306.9 477.6,307.3 477,307.8 476.8,308.2 477,308.7 477.8,309.1 479.1,309.6 481,310 483.4,310.5 486.3,310.9 489.5,311.4 493,311.9 496.7,312.3 500.5,312.8 504.4,313.2 508.3,313.7 512,314.1 515.6,314.6 519,315 522,315.5 524.7,315.9 527.1,316.4 529,316.8 530.5,317.3 531.6,317.8 532.2,318.2 532.4,318.7 532.2,319.1 531.7,319.6 530.7,320 529.5,320.5 527.9,320.9 526.1,321.4 524.1,321.8 521.9,322.3 519.5,322.7 517.1,323.2 514.6,323.7 512,324.1 509.5,324.6 506.9,325 504.4,325.5 502,325.9 499.6,326.4 497.3,326.8 495.2,327.3 493.1,327.7 491.2,328.2 489.3,328.7 487.7,329.1 486.1,329.6 484.6,330 483.3,330.5 482.1,330.9 481,331.4 480,331.8 479.1,332.3 478.2,332.7 477.5,333.2 476.9,333.6 476.3,334.1 475.8,334.6 475.3,335 474.9,335.5 474.6,335.9 474.3,336.4 474,336.8 473.8,337.3 473.6,337.7 473.5,338.2 473.3,338.6 473.2,339.1 473.1,339.6 473,340 472.9,340.5 472.9,340.9 472.8,341.4 472.8,341.8 472.7,342.3 472.7,342.7 472.7,343.2 472.6,343.6 472.6,344.1 472.6,344.5 472.6,345" fill="none" stroke="#ff1f1f" stroke-width="1.5" stroke-dasharray="3.7 3"/>
<path d="M469 193.6H539.2V347.3H469" fill="none" stroke="#000" stroke-width="1.55"/>
<line x1="491.4" y1="202.6" x2="509.2" y2="202.6" stroke="#ff1f1f" stroke-width="1.6" stroke-dasharray="4.4 2.5"/>
<line x1="492" y1="214.6" x2="509.2" y2="214.6" stroke="#1f1fff" stroke-width="1.6"/>
<text x="513.3" y="205.3" font-family="Liberation Serif, Times New Roman, serif" font-size="8.8" font-weight="bold" stroke="#000" stroke-width="0.15">Exp.</text>
<text x="513.3" y="217" font-family="Liberation Serif, Times New Roman, serif" font-size="8.8" font-weight="bold" stroke="#000" stroke-width="0.15">Cal.</text>
<text y="337.6" font-family="Liberation Serif, Times New Roman, serif" font-size="9.4" stroke="#000" stroke-width="0.35"><tspan x="490.2" font-style="italic" font-size="10.4">ρ</tspan><tspan x="497.4">=</tspan><tspan x="504.6">0.958</tspan></text>
<text x="472.2" y="356.6" font-family="Liberation Serif, Times New Roman, serif" font-size="8.8" font-weight="bold" text-anchor="middle" stroke="#000" stroke-width="0.15">0.0</text>
<text x="502.75" y="356.6" font-family="Liberation Serif, Times New Roman, serif" font-size="8.8" font-weight="bold" text-anchor="middle" stroke="#000" stroke-width="0.15">0.5</text>
<text x="533.3" y="356.6" font-family="Liberation Serif, Times New Roman, serif" font-size="8.8" font-weight="bold" text-anchor="middle" stroke="#000" stroke-width="0.15">1.0</text>
<g filter="url(#h7)"><rect x="7" y="379.2" width="83" height="43.8" fill="url(#gy7)"/><rect x="7" y="379.2" width="83" height="43.8" fill="url(#gx7_0)" style="mix-blend-mode:screen"/><rect x="7" y="423" width="83" height="14" fill="url(#gy7)"/><rect x="7" y="423" width="83" height="14" fill="url(#gx7_1)" style="mix-blend-mode:screen"/><rect x="7" y="437" width="83" height="11" fill="url(#gy7)"/><rect x="7" y="437" width="83" height="11" fill="url(#gx7_1)" style="mix-blend-mode:screen"/><rect x="7" y="448" width="83" height="11" fill="url(#gy7)"/><rect x="7" y="448" width="83" height="11" fill="url(#gx7_1)" style="mix-blend-mode:screen"/><rect x="7" y="459" width="83" height="11" fill="url(#gy7)"/><rect x="7" y="459" width="83" height="11" fill="url(#gx7_1)" style="mix-blend-mode:screen"/><rect x="7" y="470" width="83" height="12" fill="url(#gy7)"/><rect x="7" y="470" width="83" height="12" fill="url(#gx7_1)" style="mix-blend-mode:screen"/><rect x="7" y="482" width="83" height="13" fill="url(#gy7)"/><rect x="7" y="482" width="83" height="13" fill="url(#gx7_1)" style="mix-blend-mode:screen"/><rect x="7" y="495" width="83" height="38.6" fill="url(#gy7)"/><rect x="7" y="495" width="83" height="38.6" fill="url(#gx7_0)" style="mix-blend-mode:screen"/></g>
<text x="38" y="394.2" fill="#fff" font-family="Liberation Serif, Times New Roman, serif" font-size="12">HG<tspan font-size="7.3" dy="3.2" dx="-0.3">07</tspan></text>
<line x1="99.2" y1="379.2" x2="99.2" y2="533.6" stroke="#8a8a8a" stroke-width="0.7" stroke-dasharray="2 1.8"/>
<line x1="129.75" y1="379.2" x2="129.75" y2="533.6" stroke="#8a8a8a" stroke-width="0.7" stroke-dasharray="2 1.8"/>
<line x1="160.3" y1="379.2" x2="160.3" y2="533.6" stroke="#8a8a8a" stroke-width="0.7" stroke-dasharray="2 1.8"/>
<polyline points="99.2,383 99.2,383.5 99.2,383.9 99.2,384.4 99.2,384.8 99.2,385.3 99.2,385.7 99.2,386.2 99.2,386.6 99.2,387.1 99.2,387.5 99.2,388 99.2,388.5 99.2,388.9 99.2,389.4 99.2,389.8 99.2,390.3 99.3,390.7 99.3,391.2 99.3,391.6 99.3,392.1 99.3,392.5 99.4,393 99.4,393.5 99.5,393.9 99.5,394.4 99.6,394.8 99.7,395.3 99.8,395.7 99.9,396.2 100.1,396.6 100.3,397.1 100.5,397.6 100.8,398 101.1,398.5 101.4,398.9 101.9,399.4 102.3,399.8 102.9,400.3 103.6,400.7 104.3,401.2 105.1,401.6 106.1,402.1 107.1,402.6 108.3,403 109.7,403.5 111.2,403.9 112.8,404.4 114.6,404.8 116.5,405.3 118.6,405.7 120.9,406.2 123.3,406.6 125.8,407.1 128.5,407.6 131.3,408 134.1,408.5 137,408.9 140,409.4 142.9,409.8 145.7,410.3 148.5,410.7 151,411.2 153.4,411.6 155.5,412.1 157.3,412.6 158.7,413 159.7,413.5 160.2,413.9 160.2,414.4 159.7,414.8 158.6,415.3 156.9,415.7 154.7,416.2 151.9,416.6 148.6,417.1 144.9,417.6 140.7,418 136.3,418.5 131.6,418.9 126.8,419.4 122.1,419.8 117.5,420.3 113.2,420.7 109.3,421.2 105.8,421.7 103.1,422.1 101,422.6 99.7,423 99.2,423.5 99.6,423.9 100.8,424.4 102.7,424.8 105.4,425.3 108.7,425.7 112.5,426.2 116.5,426.7 120.7,427.1 124.9,427.6 128.8,428 132.4,428.5 135.3,428.9 137.5,429.4 138.9,429.8 139.4,430.3 139,430.7 137.6,431.2 135.3,431.7 132.3,432.1 128.6,432.6 124.4,433 120,433.5 115.5,433.9 111.2,434.4 107.3,434.8 104,435.3 101.5,435.7 99.8,436.2 99.2,436.7 99.6,437.1 101,437.6 103.4,438 106.5,438.5 110.2,438.9 114.4,439.4 118.7,439.8 122.9,440.3 126.8,440.7 130.1,441.2 132.6,441.7 134.1,442.1 134.7,442.6 134.1,443 132.5,443.5 130,443.9 126.6,444.4 122.6,444.8 118.3,445.3 113.9,445.8 109.6,446.2 105.8,446.7 102.8,447.1 100.6,447.6 99.4,448 99.3,448.5 100.3,448.9 102.4,449.4 105.4,449.8 109.1,450.3 113.3,450.8 117.6,451.2 121.9,451.7 125.7,452.1 129,452.6 131.4,453 132.7,453.5 133,453.9 132.1,454.4 130.1,454.8 127.3,455.3 123.6,455.8 119.5,456.2 115.1,456.7 110.8,457.1 106.8,457.6 103.5,458 101,458.5 99.6,458.9 99.2,459.4 100,459.8 101.9,460.3 104.7,460.8 108.4,461.2 112.5,461.7 116.9,462.1 121.2,462.6 125.1,463 128.5,463.5 131.1,463.9 132.6,464.4 133,464.8 132.3,465.3 130.5,465.8 127.8,466.2 124.2,466.7 120.2,467.1 115.9,467.6 111.5,468 107.5,468.5 104.1,468.9 101.5,469.4 99.8,469.8 99.2,470.3 99.7,470.8 101.3,471.2 103.9,471.7 107.3,472.1 111.3,472.6 115.6,473 120.1,473.5 124.3,473.9 128,474.4 131.1,474.9 133.3,475.3 134.5,475.8 134.6,476.2 133.6,476.7 131.7,477.1 128.8,477.6 125.3,478 121.3,478.5 117,478.9 112.7,479.4 108.7,479.9 105.1,480.3 102.3,480.8 100.3,481.2 99.3,481.7 99.3,482.1 100.4,482.6 102.4,483 105.2,483.5 108.8,483.9 112.9,484.4 117.3,484.9 121.8,485.3 126.2,485.8 130.2,486.2 133.6,486.7 136.4,487.1 138.3,487.6 139.3,488 139.4,488.5 138.5,488.9 136.7,489.4 134.2,489.9 131,490.3 127.3,490.8 123.2,491.2 119,491.7 114.9,492.1 110.9,492.6 107.3,493 104.3,493.5 101.9,493.9 100.2,494.4 99.3,494.9 99.3,495.3 100.1,495.8 101.7,496.2 104.1,496.7 107.1,497.1 110.8,497.6 114.9,498 119.3,498.5 124,499 128.8,499.4 133.5,499.9 138.1,500.3 142.4,500.8 146.4,501.2 150,501.7 153.1,502.1 155.7,502.6 157.7,503 159.1,503.5 160,504 160.3,504.4 160.1,504.9 159.4,505.3 158.2,505.8 156.6,506.2 154.7,506.7 152.5,507.1 150,507.6 147.4,508 144.6,508.5 141.7,509 138.8,509.4 135.8,509.9 133,510.3 130.1,510.8 127.4,511.2 124.8,511.7 122.3,512.1 120,512.6 117.8,513 115.7,513.5 113.8,514 112.1,514.4 110.5,514.9 109.1,515.3 107.8,515.8 106.7,516.2 105.7,516.7 104.8,517.1 104,517.6 103.3,518 102.7,518.5 102.1,519 101.7,519.4 101.3,519.9 100.9,520.3 100.7,520.8 100.4,521.2 100.2,521.7 100,522.1 99.9,522.6 99.8,523.1 99.7,523.5 99.6,524 99.5,524.4 99.4,524.9 99.4,525.3 99.4,525.8 99.3,526.2 99.3,526.7 99.3,527.1 99.3,527.6 99.3,528.1 99.2,528.5 99.2,529 99.2,529.4 99.2,529.9 99.2,530.3 99.2,530.8 99.2,531.2 99.2,531.7 99.2,532.1 99.2,532.6" fill="none" stroke="#1f1fff" stroke-width="1.5" stroke-linejoin="round"/>
<polyline points="99.2,383 99.2,383.5 99.2,383.9 99.2,384.4 99.2,384.8 99.2,385.3 99.2,385.7 99.2,386.2 99.2,386.6 99.2,387.1 99.2,387.5 99.2,388 99.2,388.5 99.2,388.9 99.2,389.4 99.2,389.8 99.2,390.3 99.3,390.7 99.3,391.2 99.3,391.6 99.3,392.1 99.3,392.5 99.4,393 99.4,393.5 99.4,393.9 99.5,394.4 99.6,394.8 99.7,395.3 99.8,395.7 99.9,396.2 100,396.6 100.2,397.1 100.4,397.6 100.6,398 100.9,398.5 101.2,398.9 101.6,399.4 102.1,399.8 102.6,400.3 103.2,400.7 103.8,401.2 104.6,401.6 105.5,402.1 106.4,402.6 107.5,403 108.7,403.5 110.1,403.9 111.6,404.4 113.2,404.8 115,405.3 116.9,405.7 118.9,406.2 121.1,406.6 123.4,407.1 125.9,407.6 128.4,408 131,408.5 133.6,408.9 136.3,409.4 138.9,409.8 141.5,410.3 144,410.7 146.4,411.2 148.5,411.6 150.5,412.1 152.1,412.6 153.4,413 154.3,413.5 154.7,413.9 154.7,414.4 154.3,414.8 153.3,415.3 151.8,415.7 149.8,416.2 147.4,416.6 144.6,417.1 141.4,417.6 137.9,418 134.3,418.5 130.4,418.9 126.6,419.4 122.8,419.8 119.2,420.3 115.9,420.7 113,421.2 110.5,421.7 108.6,422.1 107.2,422.6 106.5,423 106.5,423.5 106.7,423.9 107.3,424.4 108.2,424.8 109.3,425.3 110.7,425.7 112.2,426.2 113.9,426.7 115.6,427.1 117.3,427.6 118.8,428 120.2,428.5 121.4,428.9 122.3,429.4 122.8,429.8 123,430.3 122.9,430.7 122.3,431.2 121.5,431.7 120.3,432.1 118.9,432.6 117.4,433 115.7,433.5 114.1,433.9 112.5,434.4 111.1,434.8 109.9,435.3 109.1,435.7 108.5,436.2 108.4,436.7 108.5,437.1 109.1,437.6 110,438 111.3,438.5 112.7,438.9 114.4,439.4 116.1,439.8 117.8,440.3 119.3,440.7 120.6,441.2 121.6,441.7 122.2,442.1 122.4,442.6 122.2,443 121.6,443.5 120.5,443.9 119.2,444.4 117.6,444.8 115.9,445.3 114.2,445.8 112.5,446.2 111,446.7 109.8,447.1 108.9,447.6 108.4,448 108.4,448.5 108.9,448.9 109.9,449.4 111.4,449.8 113.2,450.3 115.2,450.8 117.3,451.2 119.4,451.7 121.3,452.1 122.9,452.6 124.1,453 124.7,453.5 124.8,453.9 124.4,454.4 123.5,454.8 122,455.3 120.3,455.8 118.2,456.2 116.1,456.7 114,457.1 112.1,457.6 110.5,458 109.3,458.5 108.5,458.9 108.4,459.4 108.7,459.8 109.6,460.3 110.9,460.8 112.5,461.2 114.4,461.7 116.3,462.1 118.3,462.6 120.1,463 121.6,463.5 122.8,463.9 123.4,464.4 123.6,464.8 123.3,465.3 122.5,465.8 121.3,466.2 119.7,466.7 117.8,467.1 115.9,467.6 113.9,468 112.1,468.5 110.6,468.9 109.4,469.4 108.6,469.8 108.4,470.3 108.6,470.8 109.4,471.2 110.7,471.7 112.4,472.1 114.4,472.6 116.6,473 118.8,473.5 120.9,473.9 122.8,474.4 124.3,474.9 125.4,475.3 126,475.8 126,476.2 125.6,476.7 124.6,477.1 123.2,477.6 121.4,478 119.4,478.5 117.2,478.9 115.1,479.4 113.1,479.9 111.3,480.3 109.9,480.8 108.9,481.2 108.4,481.7 108.4,482.1 108.8,482.6 109.7,483 110.9,483.5 112.5,483.9 114.4,484.4 116.4,484.9 118.5,485.3 120.5,485.8 122.3,486.2 123.9,486.7 125.2,487.1 126.1,487.6 126.6,488 126.7,488.5 126.2,488.9 125.4,489.4 124.2,489.9 122.6,490.3 120.8,490.8 118.8,491.2 116.7,491.7 114.6,492.1 112.6,492.6 110.8,493 109.3,493.5 108,493.9 107.1,494.4 106.6,494.9 106.4,495.3 106.8,495.8 107.9,496.2 109.6,496.7 112,497.1 114.9,497.6 118.3,498 122.1,498.5 126.1,499 130.2,499.4 134.4,499.9 138.5,500.3 142.4,500.8 146,501.2 149.3,501.7 152.2,502.1 154.6,502.6 156.5,503 157.9,503.5 158.8,504 159.1,504.4 158.8,504.9 158,505.3 156.6,505.8 154.7,506.2 152.4,506.7 149.9,507.1 147,507.6 144,508 140.9,508.5 137.7,509 134.5,509.4 131.4,509.9 128.3,510.3 125.4,510.8 122.7,511.2 120.1,511.7 117.6,512.1 115.4,512.6 113.4,513 111.5,513.5 109.9,514 108.4,514.4 107,514.9 105.9,515.3 104.9,515.8 104,516.2 103.2,516.7 102.5,517.1 102,517.6 101.5,518 101.1,518.5 100.8,519 100.5,519.4 100.2,519.9 100,520.3 99.9,520.8 99.7,521.2 99.6,521.7 99.5,522.1 99.5,522.6 99.4,523.1 99.4,523.5 99.3,524 99.3,524.4 99.3,524.9 99.3,525.3 99.2,525.8 99.2,526.2 99.2,526.7 99.2,527.1 99.2,527.6 99.2,528.1 99.2,528.5 99.2,529 99.2,529.4 99.2,529.9 99.2,530.3 99.2,530.8 99.2,531.2 99.2,531.7 99.2,532.1 99.2,532.6" fill="none" stroke="#ff1f1f" stroke-width="1.5" stroke-dasharray="3.7 3"/>
<path d="M96 380.2H166.2V533.9H96" fill="none" stroke="#000" stroke-width="1.55"/>
<line x1="118.2" y1="389.2" x2="136" y2="389.2" stroke="#ff1f1f" stroke-width="1.6" stroke-dasharray="4.4 2.5"/>
<line x1="118.8" y1="401.2" x2="136" y2="401.2" stroke="#1f1fff" stroke-width="1.6"/>
<text x="140.1" y="391.9" font-family="Liberation Serif, Times New Roman, serif" font-size="8.8" font-weight="bold" stroke="#000" stroke-width="0.15">Exp.</text>
<text x="140.1" y="403.6" font-family="Liberation Serif, Times New Roman, serif" font-size="8.8" font-weight="bold" stroke="#000" stroke-width="0.15">Cal.</text>
<text y="524.2" font-family="Liberation Serif, Times New Roman, serif" font-size="9.4" stroke="#000" stroke-width="0.35"><tspan x="117.2" font-style="italic" font-size="10.4">ρ</tspan><tspan x="124.4">=</tspan><tspan x="131.6">0.946</tspan></text>
<text x="99.2" y="543.2" font-family="Liberation Serif, Times New Roman, serif" font-size="8.8" font-weight="bold" text-anchor="middle" stroke="#000" stroke-width="0.15">0.0</text>
<text x="129.75" y="543.2" font-family="Liberation Serif, Times New Roman, serif" font-size="8.8" font-weight="bold" text-anchor="middle" stroke="#000" stroke-width="0.15">0.5</text>
<text x="160.3" y="543.2" font-family="Liberation Serif, Times New Roman, serif" font-size="8.8" font-weight="bold" text-anchor="middle" stroke="#000" stroke-width="0.15">1.0</text>
<g filter="url(#h8)"><rect x="194" y="379.2" width="83" height="43.8" fill="url(#gy8)"/><rect x="194" y="379.2" width="83" height="43.8" fill="url(#gx8_0)" style="mix-blend-mode:screen"/><rect x="194" y="423" width="83" height="13" fill="url(#gy8)"/><rect x="194" y="423" width="83" height="13" fill="url(#gx8_1)" style="mix-blend-mode:screen"/><rect x="194" y="436" width="83" height="10" fill="url(#gy8)"/><rect x="194" y="436" width="83" height="10" fill="url(#gx8_1)" style="mix-blend-mode:screen"/><rect x="194" y="446" width="83" height="10" fill="url(#gy8)"/><rect x="194" y="446" width="83" height="10" fill="url(#gx8_1)" style="mix-blend-mode:screen"/><rect x="194" y="456" width="83" height="10" fill="url(#gy8)"/><rect x="194" y="456" width="83" height="10" fill="url(#gx8_1)" style="mix-blend-mode:screen"/><rect x="194" y="466" width="83" height="10" fill="url(#gy8)"/><rect x="194" y="466" width="83" height="10" fill="url(#gx8_1)" style="mix-blend-mode:screen"/><rect x="194" y="476" width="83" height="11" fill="url(#gy8)"/><rect x="194" y="476" width="83" height="11" fill="url(#gx8_1)" style="mix-blend-mode:screen"/><rect x="194" y="487" width="83" height="12" fill="url(#gy8)"/><rect x="194" y="487" width="83" height="12" fill="url(#gx8_1)" style="mix-blend-mode:screen"/><rect x="194" y="499" width="83" height="34.6" fill="url(#gy8)"/><rect x="194" y="499" width="83" height="34.6" fill="url(#gx8_0)" style="mix-blend-mode:screen"/></g>
<text x="225" y="394.2" fill="#fff" font-family="Liberation Serif, Times New Roman, serif" font-size="12">HG<tspan font-size="7.3" dy="3.2" dx="-0.3">08</tspan></text>
<line x1="286.1" y1="379.2" x2="286.1" y2="533.6" stroke="#8a8a8a" stroke-width="0.7" stroke-dasharray="2 1.8"/>
<line x1="316.65" y1="379.2" x2="316.65" y2="533.6" stroke="#8a8a8a" stroke-width="0.7" stroke-dasharray="2 1.8"/>
<line x1="347.2" y1="379.2" x2="347.2" y2="533.6" stroke="#8a8a8a" stroke-width="0.7" stroke-dasharray="2 1.8"/>
<polyline points="286.1,379.2 286.1,379.7 286.1,380.1 286.1,380.6 286.1,381.1 286.1,381.5 286.1,382 286.1,382.4 286.1,382.9 286.1,383.4 286.1,383.8 286.1,384.3 286.1,384.8 286.1,385.2 286.1,385.7 286.1,386.1 286.1,386.6 286.1,387.1 286.1,387.5 286.1,388 286.1,388.5 286.1,388.9 286.1,389.4 286.1,389.9 286.1,390.3 286.1,390.8 286.1,391.2 286.1,391.7 286.1,392.2 286.2,392.6 286.2,393.1 286.2,393.6 286.2,394 286.3,394.5 286.3,394.9 286.4,395.4 286.4,395.9 286.5,396.3 286.6,396.8 286.7,397.3 286.9,397.7 287.1,398.2 287.3,398.7 287.5,399.1 287.9,399.6 288.2,400 288.7,400.5 289.2,401 289.8,401.4 290.5,401.9 291.3,402.4 292.2,402.8 293.3,403.3 294.5,403.8 295.8,404.2 297.3,404.7 299,405.1 300.9,405.6 303,406.1 305.2,406.5 307.6,407 310.2,407.5 313,407.9 315.9,408.4 318.9,408.8 322,409.3 325.2,409.8 328.4,410.2 331.5,410.7 334.5,411.2 337.4,411.6 340,412.1 342.3,412.6 344.3,413 345.8,413.5 346.8,413.9 347.2,414.4 347,414.9 346.2,415.3 344.6,415.8 342.5,416.3 339.6,416.7 336.2,417.2 332.1,417.6 327.6,418.1 322.8,418.6 317.7,419 312.5,419.5 307.4,420 302.5,420.4 298,420.9 294,421.4 290.7,421.8 288.3,422.3 286.7,422.7 286.1,423.2 286.5,423.7 287.9,424.1 290.2,424.6 293.3,425.1 297.1,425.5 301.4,426 305.9,426.4 310.4,426.9 314.8,427.4 318.7,427.8 321.9,428.3 324.3,428.8 325.7,429.2 326,429.7 325.2,430.2 323.3,430.6 320.4,431.1 316.6,431.5 312.2,432 307.4,432.5 302.5,432.9 297.9,433.4 293.7,433.9 290.2,434.3 287.7,434.8 286.3,435.2 286.2,435.7 287.3,436.2 289.5,436.6 292.7,437.1 296.7,437.6 301.2,438 305.9,438.5 310.4,439 314.5,439.4 317.7,439.9 319.9,440.3 321,440.8 320.7,441.3 319.2,441.7 316.5,442.2 312.8,442.7 308.4,443.1 303.6,443.6 298.9,444.1 294.4,444.5 290.7,445 288,445.4 286.4,445.9 286.2,446.4 287.3,446.8 289.6,447.3 293.1,447.8 297.3,448.2 301.9,448.7 306.6,449.1 311,449.6 314.6,450.1 317.3,450.5 318.8,451 318.9,451.5 317.6,451.9 315.1,452.4 311.5,452.9 307.2,453.3 302.5,453.8 297.7,454.2 293.4,454.7 289.9,455.2 287.4,455.6 286.2,456.1 286.4,456.6 287.9,457 290.7,457.5 294.5,457.9 299,458.4 303.7,458.9 308.3,459.3 312.4,459.8 315.7,460.3 317.7,460.7 318.4,461.2 317.8,461.7 315.8,462.1 312.6,462.6 308.5,463 303.9,463.5 299.2,464 294.7,464.4 290.9,464.9 288,465.4 286.4,465.8 286.2,466.3 287.3,466.7 289.7,467.2 293.3,467.7 297.5,468.1 302.3,468.6 307,469.1 311.4,469.5 315,470 317.5,470.5 318.9,470.9 318.8,471.4 317.4,471.8 314.8,472.3 311.1,472.8 306.8,473.2 302.1,473.7 297.4,474.2 293.2,474.6 289.8,475.1 287.4,475.6 286.2,476 286.4,476.5 287.9,476.9 290.6,477.4 294.3,477.9 298.7,478.3 303.4,478.8 308.2,479.3 312.6,479.7 316.3,480.2 319.1,480.6 320.7,481.1 321,481.6 320,482 317.8,482.5 314.6,483 310.6,483.4 306.1,483.9 301.4,484.4 296.9,484.8 292.9,485.3 289.6,485.7 287.3,486.2 286.2,486.7 286.3,487.1 287.6,487.6 290.1,488.1 293.5,488.5 297.7,489 302.3,489.4 307.2,489.9 312,490.4 316.4,490.8 320.2,491.3 323.2,491.8 325.1,492.2 326,492.7 325.7,493.2 324.4,493.6 322,494.1 318.8,494.5 314.9,495 310.6,495.5 306.1,495.9 301.5,496.4 297.3,496.9 293.5,497.3 290.3,497.8 288,498.2 286.6,498.7 286.1,499.2 286.6,499.6 288.2,500.1 290.6,500.6 293.9,501 297.8,501.5 302.3,502 307.2,502.4 312.3,502.9 317.5,503.3 322.6,503.8 327.4,504.3 332,504.7 336,505.2 339.5,505.7 342.3,506.1 344.6,506.6 346.1,507 347,507.5 347.2,508 346.8,508.4 345.8,508.9 344.3,509.4 342.4,509.8 340.1,510.3 337.5,510.8 334.7,511.2 331.6,511.7 328.5,512.1 325.3,512.6 322.2,513.1 319.1,513.5 316,514 313.1,514.5 310.3,514.9 307.7,515.4 305.3,515.9 303,516.3 301,516.8 299.1,517.2 297.4,517.7 295.9,518.2 294.5,518.6 293.3,519.1 292.2,519.6 291.3,520 290.5,520.5 289.8,520.9 289.2,521.4 288.7,521.9 288.2,522.3 287.9,522.8 287.6,523.3 287.3,523.7 287.1,524.2 286.9,524.7 286.7,525.1 286.6,525.6 286.5,526 286.4,526.5 286.4,527 286.3,527.4 286.3,527.9 286.2,528.4 286.2,528.8 286.2,529.3 286.2,529.7 286.1,530.2 286.1,530.7 286.1,531.1 286.1,531.6" fill="none" stroke="#1f1fff" stroke-width="1.5" stroke-linejoin="round"/>
<polyline points="286.1,379.2 286.1,379.7 286.1,380.1 286.1,380.6 286.1,381.1 286.1,381.5 286.1,382 286.1,382.4 286.1,382.9 286.1,383.4 286.1,383.8 286.1,384.3 286.1,384.8 286.1,385.2 286.1,385.7 286.1,386.1 286.1,386.6 286.1,387.1 286.1,387.5 286.1,388 286.1,388.5 286.1,388.9 286.1,389.4 286.1,389.9 286.1,390.3 286.1,390.8 286.1,391.2 286.1,391.7 286.1,392.2 286.1,392.6 286.1,393.1 286.1,393.6 286.1,394 286.1,394.5 286.2,394.9 286.2,395.4 286.2,395.9 286.2,396.3 286.3,396.8 286.3,397.3 286.4,397.7 286.5,398.2 286.6,398.7 286.8,399.1 286.9,399.6 287.2,400 287.4,400.5 287.7,401 288.1,401.4 288.6,401.9 289.2,402.4 289.8,402.8 290.6,403.3 291.5,403.8 292.6,404.2 293.9,404.7 295.3,405.1 296.9,405.6 298.7,406.1 300.8,406.5 303,407 305.5,407.5 308.2,407.9 311.2,408.4 314.3,408.8 317.5,409.3 320.9,409.8 324.4,410.2 327.8,410.7 331.2,411.2 334.5,411.6 337.5,412.1 340.2,412.6 342.5,413 344.3,413.5 345.5,413.9 346,414.4 345.8,414.9 345,415.3 343.5,415.8 341.4,416.3 338.6,416.7 335.3,417.2 331.5,417.6 327.2,418.1 322.6,418.6 317.8,419 313,419.5 308.2,420 303.7,420.4 299.5,420.9 295.9,421.4 293,421.8 290.8,422.3 289.5,422.7 289.1,423.2 289.5,423.7 290.5,424.1 292.2,424.6 294.6,425.1 297.4,425.5 300.6,426 304,426.4 307.4,426.9 310.6,427.4 313.6,427.8 316,428.3 317.8,428.8 318.8,429.2 319.1,429.7 318.5,430.2 317,430.6 314.8,431.1 312,431.5 308.7,432 305.1,432.5 301.5,432.9 298,433.4 294.8,433.9 292.2,434.3 290.4,434.8 289.3,435.2 289.2,435.7 289.8,436.2 291,436.6 292.7,437.1 294.9,437.6 297.4,438 299.9,438.5 302.4,439 304.5,439.4 306.3,439.9 307.5,440.3 308.1,440.8 307.9,441.3 307.1,441.7 305.6,442.2 303.6,442.7 301.2,443.1 298.7,443.6 296.1,444.1 293.7,444.5 291.7,445 290.2,445.4 289.3,445.9 289.2,446.4 289.8,446.8 291.1,447.3 293,447.8 295.4,448.2 298,448.7 300.6,449.1 303,449.6 305.1,450.1 306.5,450.5 307.4,451 307.4,451.5 306.7,451.9 305.3,452.4 303.3,452.9 300.9,453.3 298.3,453.8 295.6,454.2 293.2,454.7 291.3,455.2 289.9,455.6 289.2,456.1 289.3,456.6 290,457 291.3,457.5 293,457.9 295,458.4 297.1,458.9 299.2,459.3 301.1,459.8 302.6,460.3 303.5,460.7 303.8,461.2 303.5,461.7 302.6,462.1 301.2,462.6 299.3,463 297.2,463.5 295.1,464 293.1,464.4 291.3,464.9 290,465.4 289.3,465.8 289.2,466.3 289.9,466.7 291.3,467.2 293.4,467.7 296,468.1 298.8,468.6 301.6,469.1 304.2,469.5 306.3,470 307.8,470.5 308.6,470.9 308.6,471.4 307.8,471.8 306.2,472.3 304,472.8 301.4,473.2 298.7,473.7 295.9,474.2 293.4,474.6 291.3,475.1 289.9,475.6 289.2,476 289.3,476.5 290.2,476.9 291.8,477.4 294,477.9 296.6,478.3 299.5,478.8 302.3,479.3 304.9,479.7 307.1,480.2 308.8,480.6 309.7,481.1 309.9,481.6 309.3,482 308,482.5 306.1,483 303.7,483.4 301.1,483.9 298.3,484.4 295.6,484.8 293.2,485.3 291.2,485.7 289.9,486.2 289.2,486.7 289.3,487.1 290.4,487.6 292.4,488.1 295.1,488.5 298.5,489 302.3,489.4 306.3,489.9 310.2,490.4 313.7,490.8 316.8,491.3 319.2,491.8 320.8,492.2 321.5,492.7 321.3,493.2 320.2,493.6 318.3,494.1 315.7,494.5 312.5,495 309,495.5 305.3,495.9 301.7,496.4 298.2,496.9 295.1,497.3 292.6,497.8 290.7,498.2 289.5,498.7 289.1,499.2 289.5,499.6 290.8,500.1 292.9,500.6 295.9,501 299.5,501.5 303.7,502 308.2,502.4 313,502.9 318,503.3 322.8,503.8 327.4,504.3 331.8,504.7 335.7,505.2 339,505.7 341.8,506.1 344,506.6 345.5,507 346.4,507.5 346.6,508 346,508.4 344.7,508.9 342.8,509.4 340.2,509.8 337.2,510.3 333.9,510.8 330.4,511.2 326.7,511.7 323,512.1 319.4,512.6 315.8,513.1 312.4,513.5 309.2,514 306.3,514.5 303.6,514.9 301.1,515.4 298.9,515.9 297,516.3 295.2,516.8 293.7,517.2 292.4,517.7 291.3,518.2 290.4,518.6 289.6,519.1 288.9,519.6 288.4,520 287.9,520.5 287.5,520.9 287.2,521.4 287,521.9 286.8,522.3 286.6,522.8 286.5,523.3 286.4,523.7 286.3,524.2 286.3,524.7 286.2,525.1 286.2,525.6 286.2,526 286.2,526.5 286.1,527 286.1,527.4 286.1,527.9 286.1,528.4 286.1,528.8 286.1,529.3 286.1,529.7 286.1,530.2 286.1,530.7 286.1,531.1 286.1,531.6" fill="none" stroke="#ff1f1f" stroke-width="1.5" stroke-dasharray="3.7 3"/>
<path d="M282.2 380.2H352.4V533.9H282.2" fill="none" stroke="#000" stroke-width="1.55"/>
<line x1="305.1" y1="389.2" x2="322.9" y2="389.2" stroke="#ff1f1f" stroke-width="1.6" stroke-dasharray="4.4 2.5"/>
<line x1="305.7" y1="401.2" x2="322.9" y2="401.2" stroke="#1f1fff" stroke-width="1.6"/>
<text x="327" y="391.9" font-family="Liberation Serif, Times New Roman, serif" font-size="8.8" font-weight="bold" stroke="#000" stroke-width="0.15">Exp.</text>
<text x="327" y="403.6" font-family="Liberation Serif, Times New Roman, serif" font-size="8.8" font-weight="bold" stroke="#000" stroke-width="0.15">Cal.</text>
<text y="524.2" font-family="Liberation Serif, Times New Roman, serif" font-size="9.4" stroke="#000" stroke-width="0.35"><tspan x="303.4" font-style="italic" font-size="10.4">ρ</tspan><tspan x="310.6">=</tspan><tspan x="317.8">0.931</tspan></text>
<text x="286.1" y="543.2" font-family="Liberation Serif, Times New Roman, serif" font-size="8.8" font-weight="bold" text-anchor="middle" stroke="#000" stroke-width="0.15">0.0</text>
<text x="316.65" y="543.2" font-family="Liberation Serif, Times New Roman, serif" font-size="8.8" font-weight="bold" text-anchor="middle" stroke="#000" stroke-width="0.15">0.5</text>
<text x="347.2" y="543.2" font-family="Liberation Serif, Times New Roman, serif" font-size="8.8" font-weight="bold" text-anchor="middle" stroke="#000" stroke-width="0.15">1.0</text>
<g filter="url(#h9)"><rect x="381" y="379.2" width="83" height="43.8" fill="url(#gy9)"/><rect x="381" y="379.2" width="83" height="43.8" fill="url(#gx9_0)" style="mix-blend-mode:screen"/><rect x="381" y="423" width="83" height="10" fill="url(#gy9)"/><rect x="381" y="423" width="83" height="10" fill="url(#gx9_1)" style="mix-blend-mode:screen"/><rect x="381" y="433" width="83" height="10" fill="url(#gy9)"/><rect x="381" y="433" width="83" height="10" fill="url(#gx9_1)" style="mix-blend-mode:screen"/><rect x="381" y="443" width="83" height="8" fill="url(#gy9)"/><rect x="381" y="443" width="83" height="8" fill="url(#gx9_1)" style="mix-blend-mode:screen"/><rect x="381" y="451" width="83" height="9" fill="url(#gy9)"/><rect x="381" y="451" width="83" height="9" fill="url(#gx9_1)" style="mix-blend-mode:screen"/><rect x="381" y="460" width="83" height="8" fill="url(#gy9)"/><rect x="381" y="460" width="83" height="8" fill="url(#gx9_1)" style="mix-blend-mode:screen"/><rect x="381" y="468" width="83" height="8" fill="url(#gy9)"/><rect x="381" y="468" width="83" height="8" fill="url(#gx9_1)" style="mix-blend-mode:screen"/><rect x="381" y="476" width="83" height="10" fill="url(#gy9)"/><rect x="381" y="476" width="83" height="10" fill="url(#gx9_1)" style="mix-blend-mode:screen"/><rect x="381" y="486" width="83" height="10" fill="url(#gy9)"/><rect x="381" y="486" width="83" height="10" fill="url(#gx9_1)" style="mix-blend-mode:screen"/><rect x="381" y="496" width="83" height="37.6" fill="url(#gy9)"/><rect x="381" y="496" width="83" height="37.6" fill="url(#gx9_0)" style="mix-blend-mode:screen"/></g>
<text x="412" y="394.2" fill="#fff" font-family="Liberation Serif, Times New Roman, serif" font-size="12">HG<tspan font-size="7.3" dy="3.2" dx="-0.3">09</tspan></text>
<line x1="472.55" y1="379.2" x2="472.55" y2="533.6" stroke="#8a8a8a" stroke-width="0.7" stroke-dasharray="2 1.8"/>
<line x1="503.1" y1="379.2" x2="503.1" y2="533.6" stroke="#8a8a8a" stroke-width="0.7" stroke-dasharray="2 1.8"/>
<line x1="533.65" y1="379.2" x2="533.65" y2="533.6" stroke="#8a8a8a" stroke-width="0.7" stroke-dasharray="2 1.8"/>
<polyline points="472.6,380.4 472.6,380.9 472.6,381.3 472.6,381.8 472.6,382.3 472.6,382.7 472.6,383.2 472.6,383.6 472.6,384.1 472.6,384.6 472.6,385 472.6,385.5 472.6,386 472.6,386.4 472.6,386.9 472.6,387.3 472.6,387.8 472.6,388.3 472.6,388.7 472.6,389.2 472.6,389.7 472.6,390.1 472.6,390.6 472.6,391 472.6,391.5 472.6,392 472.6,392.4 472.6,392.9 472.6,393.4 472.6,393.8 472.6,394.3 472.6,394.7 472.6,395.2 472.6,395.7 472.6,396.1 472.6,396.6 472.7,397.1 472.7,397.5 472.7,398 472.8,398.4 472.9,398.9 473,399.4 473.1,399.8 473.2,400.3 473.4,400.8 473.6,401.2 473.9,401.7 474.3,402.1 474.7,402.6 475.2,403.1 475.8,403.5 476.5,404 477.4,404.5 478.4,404.9 479.6,405.4 481,405.8 482.5,406.3 484.3,406.8 486.3,407.2 488.6,407.7 491.1,408.2 493.8,408.6 496.8,409.1 500,409.5 503.4,410 506.9,410.5 510.5,410.9 514.1,411.4 517.7,411.9 521.2,412.3 524.4,412.8 527.3,413.2 529.8,413.7 531.8,414.2 533.1,414.6 533.6,415.1 533.4,415.6 532.3,416 530.3,416.5 527.4,416.9 523.7,417.4 519.3,417.9 514.1,418.3 508.6,418.8 502.7,419.3 496.7,419.7 490.9,420.2 485.6,420.6 480.9,421.1 477.1,421.6 474.4,422 472.8,422.5 472.6,423 473.7,423.4 476.1,423.9 479.5,424.3 483.9,424.8 488.8,425.3 494,425.7 499.2,426.2 503.9,426.7 507.8,427.1 510.6,427.6 512.1,428 512.1,428.5 510.6,429 507.8,429.4 503.7,429.9 498.8,430.4 493.3,430.8 487.7,431.3 482.4,431.8 478,432.2 474.7,432.7 472.9,433.1 472.7,433.6 474,434.1 476.9,434.5 481.1,435 486,435.5 491.4,435.9 496.6,436.4 501.2,436.8 504.6,437.3 506.6,437.8 507,438.2 505.6,438.7 502.6,439.2 498.4,439.6 493.2,440.1 487.7,440.5 482.4,441 477.8,441.5 474.5,441.9 472.8,442.4 472.8,442.9 474.6,443.3 478,443.8 482.6,444.2 487.8,444.7 493.2,445.2 498.1,445.6 501.9,446.1 504.2,446.6 504.8,447 503.5,447.5 500.5,447.9 496.2,448.4 490.9,448.9 485.5,449.3 480.3,449.8 476.2,450.3 473.5,450.7 472.6,451.2 473.5,451.6 476.2,452.1 480.4,452.6 485.4,453 490.9,453.5 496,454 500.2,454.4 502.9,454.9 503.9,455.3 503,455.8 500.2,456.3 496.1,456.7 490.9,457.2 485.5,457.7 480.4,458.1 476.2,458.6 473.5,459 472.6,459.5 473.5,460 476.3,460.4 480.5,460.9 485.7,461.4 491.1,461.8 496.2,462.3 500.4,462.7 503,463.2 503.9,463.7 502.9,464.1 500.1,464.6 495.9,465.1 490.7,465.5 485.3,466 480.2,466.4 476.1,466.9 473.4,467.4 472.6,467.8 473.5,468.3 476.3,468.8 480.5,469.2 485.6,469.7 491.1,470.1 496.3,470.6 500.6,471.1 503.5,471.5 504.8,472 504.2,472.5 501.8,472.9 497.9,473.4 493,473.8 487.7,474.3 482.4,474.8 477.9,475.2 474.5,475.7 472.8,476.2 472.8,476.6 474.6,477.1 477.9,477.5 482.5,478 487.9,478.5 493.4,478.9 498.5,479.4 502.7,479.9 505.7,480.3 507,480.8 506.6,481.2 504.5,481.7 501,482.2 496.4,482.6 491.2,483.1 485.9,483.6 480.9,484 476.8,484.5 474,485 472.6,485.4 472.9,485.9 474.8,486.3 478.1,486.8 482.6,487.3 487.8,487.7 493.4,488.2 498.9,488.7 503.9,489.1 507.9,489.6 510.7,490 512.1,490.5 512,491 510.5,491.4 507.7,491.9 503.7,492.4 499,492.8 493.9,493.3 488.7,493.7 483.7,494.2 479.4,494.7 476,495.1 473.7,495.6 472.6,496.1 472.9,496.5 474.4,497 477.2,497.4 481,497.9 485.7,498.4 491.1,498.8 496.9,499.3 502.9,499.8 508.7,500.2 514.3,500.7 519.4,501.1 523.9,501.6 527.5,502.1 530.4,502.5 532.3,503 533.4,503.5 533.6,503.9 533,504.4 531.7,504.8 529.8,505.3 527.3,505.8 524.3,506.2 521.1,506.7 517.6,507.2 514,507.6 510.4,508.1 506.8,508.5 503.3,509 499.9,509.5 496.7,509.9 493.7,510.4 491,510.9 488.5,511.3 486.3,511.8 484.3,512.2 482.5,512.7 480.9,513.2 479.5,513.6 478.4,514.1 477.4,514.6 476.5,515 475.8,515.5 475.2,515.9 474.7,516.4 474.3,516.9 473.9,517.3 473.6,517.8 473.4,518.3 473.2,518.7 473.1,519.2 473,519.6 472.9,520.1 472.8,520.6 472.7,521 472.7,521.5 472.7,522 472.6,522.4 472.6,522.9 472.6,523.3 472.6,523.8 472.6,524.3 472.6,524.7 472.6,525.2 472.6,525.7 472.6,526.1 472.6,526.6 472.6,527 472.6,527.5 472.6,528 472.6,528.4 472.6,528.9 472.6,529.4 472.6,529.8 472.6,530.3 472.6,530.7 472.6,531.2 472.6,531.7 472.6,532.1 472.6,532.6" fill="none" stroke="#1f1fff" stroke-width="1.5" stroke-linejoin="round"/>
<polyline points="472.6,380.4 472.6,380.9 472.6,381.3 472.6,381.8 472.6,382.3 472.6,382.7 472.6,383.2 472.6,383.6 472.6,384.1 472.6,384.6 472.6,385 472.6,385.5 472.6,386 472.6,386.4 472.6,386.9 472.6,387.3 472.6,387.8 472.6,388.3 472.6,388.7 472.6,389.2 472.6,389.7 472.6,390.1 472.6,390.6 472.6,391 472.6,391.5 472.7,392 472.7,392.4 472.7,392.9 472.8,393.4 472.8,393.8 472.9,394.3 472.9,394.7 473,395.2 473.1,395.7 473.3,396.1 473.4,396.6 473.6,397.1 473.8,397.5 474,398 474.3,398.4 474.6,398.9 474.9,399.4 475.3,399.8 475.8,400.3 476.4,400.8 477,401.2 477.7,401.7 478.5,402.1 479.4,402.6 480.3,403.1 481.4,403.5 482.7,404 484,404.5 485.5,404.9 487.1,405.4 488.8,405.8 490.7,406.3 492.7,406.8 494.8,407.2 497,407.7 499.4,408.2 501.8,408.6 504.3,409.1 506.9,409.5 509.4,410 512,410.5 514.5,410.9 517,411.4 519.3,411.9 521.5,412.3 523.5,412.8 525.2,413.2 526.6,413.7 527.7,414.2 528.4,414.6 528.8,415.1 528.5,415.6 527.6,416 525.8,416.5 523.4,416.9 520.4,417.4 516.8,417.9 512.8,418.3 508.6,418.8 504.4,419.3 500.3,419.7 496.5,420.2 493.2,420.6 490.5,421.1 488.6,421.6 487.5,422 487.4,422.5 487.9,423 488.8,423.4 490.7,423.9 493.5,424.3 497,424.8 501.1,425.3 505.3,425.7 509.5,426.2 513.4,426.7 516.5,427.1 518.8,427.6 520,428 520.1,428.5 518.9,429 516.6,429.4 513.2,429.9 509.2,430.4 504.7,430.8 500.2,431.3 495.9,431.8 492.3,432.2 489.6,432.7 488.1,433.1 487.9,433.6 489,434.1 491.3,434.5 494.6,435 498.6,435.5 502.8,435.9 507,436.4 510.6,436.8 513.4,437.3 515,437.8 515.3,438.2 514.2,438.7 511.8,439.2 508.4,439.6 504.3,440.1 499.9,440.5 495.7,441 492,441.5 489.4,441.9 488,442.4 488,442.9 489.3,443.3 491.7,443.8 495,444.2 498.8,444.7 502.7,445.2 506.2,445.6 508.9,446.1 510.6,446.6 511,447 510.1,447.5 507.9,447.9 504.8,448.4 501.1,448.9 497.1,449.3 493.4,449.8 490.4,450.3 488.5,450.7 487.8,451.2 488.4,451.6 490.1,452.1 492.7,452.6 495.9,453 499.3,453.5 502.5,454 505.1,454.4 506.8,454.9 507.4,455.3 506.8,455.8 505.1,456.3 502.5,456.7 499.3,457.2 495.9,457.7 492.7,458.1 490.1,458.6 488.4,459 487.8,459.5 488.4,460 490.2,460.4 492.8,460.9 496,461.4 499.4,461.8 502.6,462.3 505.2,462.7 506.8,463.2 507.4,463.7 506.7,464.1 505,464.6 502.4,465.1 499.2,465.5 495.8,466 492.6,466.4 490,466.9 488.4,467.4 487.8,467.8 488.5,468.3 490.4,468.8 493.2,469.2 496.7,469.7 500.5,470.1 504,470.6 507,471.1 509,471.5 509.8,472 509.4,472.5 507.8,472.9 505.1,473.4 501.8,473.8 498.1,474.3 494.5,474.8 491.4,475.2 489.2,475.7 488,476.2 488,476.6 489.3,477.1 491.7,477.5 495.1,478 498.9,478.5 502.9,478.9 506.7,479.4 509.8,479.9 511.9,480.3 512.8,480.8 512.5,481.2 511,481.7 508.5,482.2 505.2,482.6 501.4,483.1 497.5,483.6 493.9,484 490.9,484.5 488.9,485 487.9,485.4 488.1,485.9 489.5,486.3 492,486.8 495.4,487.3 499.3,487.7 503.6,488.2 507.7,488.7 511.4,489.1 514.5,489.6 516.6,490 517.7,490.5 517.6,491 516.4,491.4 514.3,491.9 511.3,492.4 507.8,492.8 503.9,493.3 500,493.7 496.2,494.2 493,494.7 490.4,495.1 488.7,495.6 487.9,496.1 487.4,496.5 487.6,497 488.9,497.4 491,497.9 493.9,498.4 497.5,498.8 501.6,499.3 506,499.8 510.6,500.2 515,500.7 519.2,501.1 523,501.6 526.2,502.1 528.8,502.5 530.6,503 531.6,503.5 531.8,503.9 531.5,504.4 530.7,504.8 529.5,505.3 528,505.8 526.2,506.2 524.1,506.7 521.8,507.2 519.3,507.6 516.7,508.1 514.1,508.5 511.4,509 508.6,509.5 505.9,509.9 503.3,510.4 500.7,510.9 498.3,511.3 495.9,511.8 493.7,512.2 491.6,512.7 489.6,513.2 487.8,513.6 486.1,514.1 484.6,514.6 483.2,515 481.9,515.5 480.7,515.9 479.7,516.4 478.8,516.9 477.9,517.3 477.2,517.8 476.5,518.3 476,518.7 475.5,519.2 475,519.6 474.7,520.1 474.3,520.6 474.1,521 473.8,521.5 473.6,522 473.4,522.4 473.3,522.9 473.2,523.3 473.1,523.8 473,524.3 472.9,524.7 472.8,525.2 472.8,525.7 472.7,526.1 472.7,526.6 472.7,527 472.6,527.5 472.6,528 472.6,528.4 472.6,528.9 472.6,529.4 472.6,529.8 472.6,530.3 472.6,530.7 472.6,531.2 472.6,531.7 472.6,532.1 472.6,532.6" fill="none" stroke="#ff1f1f" stroke-width="1.5" stroke-dasharray="3.7 3"/>
<path d="M469 380.2H539.2V533.9H469" fill="none" stroke="#000" stroke-width="1.55"/>
<line x1="491.4" y1="389.2" x2="509.2" y2="389.2" stroke="#ff1f1f" stroke-width="1.6" stroke-dasharray="4.4 2.5"/>
<line x1="492" y1="401.2" x2="509.2" y2="401.2" stroke="#1f1fff" stroke-width="1.6"/>
<text x="513.3" y="391.9" font-family="Liberation Serif, Times New Roman, serif" font-size="8.8" font-weight="bold" stroke="#000" stroke-width="0.15">Exp.</text>
<text x="513.3" y="403.6" font-family="Liberation Serif, Times New Roman, serif" font-size="8.8" font-weight="bold" stroke="#000" stroke-width="0.15">Cal.</text>
<text y="524.2" font-family="Liberation Serif, Times New Roman, serif" font-size="9.4" stroke="#000" stroke-width="0.35"><tspan x="490.2" font-style="italic" font-size="10.4">ρ</tspan><tspan x="497.4">=</tspan><tspan x="504.6">0.944</tspan></text>
<text x="472.2" y="543.2" font-family="Liberation Serif, Times New Roman, serif" font-size="8.8" font-weight="bold" text-anchor="middle" stroke="#000" stroke-width="0.15">0.0</text>
<text x="502.75" y="543.2" font-family="Liberation Serif, Times New Roman, serif" font-size="8.8" font-weight="bold" text-anchor="middle" stroke="#000" stroke-width="0.15">0.5</text>
<text x="533.3" y="543.2" font-family="Liberation Serif, Times New Roman, serif" font-size="8.8" font-weight="bold" text-anchor="middle" stroke="#000" stroke-width="0.15">1.0</text></svg></body></html>
